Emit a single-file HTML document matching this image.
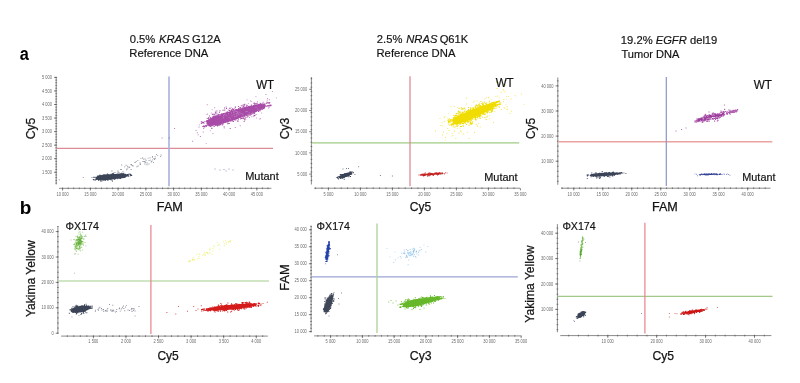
<!DOCTYPE html>
<html><head><meta charset="utf-8"><title>ddPCR scatter plots</title>
<style>
html,body{margin:0;padding:0;background:#fff;}
body{width:800px;height:383px;overflow:hidden;}
svg{display:block;}
text{font-family:"Liberation Sans", Arial, Helvetica, sans-serif;}
.tk{font-size:4.6px;fill:#6a6a6a;}
.ti{fill:#141414;stroke:#141414;stroke-width:0.18px;}
.al{fill:#141414;stroke:#141414;stroke-width:0.25px;}
.wt{fill:#141414;stroke:#141414;stroke-width:0.2px;}
.px{fill:#141414;stroke:#141414;stroke-width:0.2px;}
.pl{fill:#000;}
</style></head>
<body>
<svg width="800" height="383" viewBox="0 0 800 383">
<rect width="800" height="383" fill="#fff"/>
<line x1="56.2" y1="76.8" x2="56.2" y2="184.5" stroke="#8a8a8a" stroke-width="1.0"/>
<path d="M55.30 77.40h1.8M55.30 80.11h1.8M55.30 82.82h1.8M55.30 85.53h1.8M55.30 88.24h1.8M55.30 90.95h1.8M55.30 93.66h1.8M55.30 96.37h1.8M55.30 99.08h1.8M55.30 101.79h1.8M55.30 104.50h1.8M55.30 107.21h1.8M55.30 109.92h1.8M55.30 112.63h1.8M55.30 115.34h1.8M55.30 118.05h1.8M55.30 120.76h1.8M55.30 123.47h1.8M55.30 126.18h1.8M55.30 128.89h1.8M55.30 131.60h1.8M55.30 134.31h1.8M55.30 137.02h1.8M55.30 139.73h1.8M55.30 142.44h1.8M55.30 145.15h1.8M55.30 147.86h1.8M55.30 150.57h1.8M55.30 153.28h1.8M55.30 155.99h1.8M55.30 158.70h1.8M55.30 161.41h1.8M55.30 164.12h1.8M55.30 166.83h1.8M55.30 169.54h1.8M55.30 172.25h1.8M55.30 174.96h1.8M55.30 177.67h1.8M55.30 180.38h1.8M55.30 183.09h1.8" stroke="#4a4a4a" stroke-width="0.6" fill="none"/>
<path d="M54.00 77.40h2.2M54.00 90.95h2.2M54.00 104.50h2.2M54.00 118.05h2.2M54.00 131.60h2.2M54.00 145.15h2.2M54.00 158.70h2.2M54.00 172.25h2.2" stroke="#4a4a4a" stroke-width="0.7" fill="none"/>
<text x="41.94" y="79.05" class="tk" textLength="10.02" lengthAdjust="spacingAndGlyphs">5 000</text>
<text x="41.94" y="92.60" class="tk" textLength="10.02" lengthAdjust="spacingAndGlyphs">4 500</text>
<text x="41.94" y="106.15" class="tk" textLength="10.02" lengthAdjust="spacingAndGlyphs">4 000</text>
<text x="41.94" y="119.70" class="tk" textLength="10.02" lengthAdjust="spacingAndGlyphs">3 500</text>
<text x="41.94" y="133.25" class="tk" textLength="10.02" lengthAdjust="spacingAndGlyphs">3 000</text>
<text x="41.94" y="146.80" class="tk" textLength="10.02" lengthAdjust="spacingAndGlyphs">2 500</text>
<text x="41.94" y="160.35" class="tk" textLength="10.02" lengthAdjust="spacingAndGlyphs">2 000</text>
<text x="41.94" y="173.90" class="tk" textLength="10.02" lengthAdjust="spacingAndGlyphs">1 500</text>
<line x1="59" y1="188.3" x2="271.4" y2="188.3" stroke="#8a8a8a" stroke-width="1.0"/>
<path d="M62.60 187.40v1.8M68.15 187.40v1.8M73.70 187.40v1.8M79.25 187.40v1.8M84.80 187.40v1.8M90.35 187.40v1.8M95.90 187.40v1.8M101.45 187.40v1.8M107.00 187.40v1.8M112.55 187.40v1.8M118.10 187.40v1.8M123.65 187.40v1.8M129.20 187.40v1.8M134.75 187.40v1.8M140.30 187.40v1.8M145.85 187.40v1.8M151.40 187.40v1.8M156.95 187.40v1.8M162.50 187.40v1.8M168.05 187.40v1.8M173.60 187.40v1.8M179.15 187.40v1.8M184.70 187.40v1.8M190.25 187.40v1.8M195.80 187.40v1.8M201.35 187.40v1.8M206.90 187.40v1.8M212.45 187.40v1.8M218.00 187.40v1.8M223.55 187.40v1.8M229.10 187.40v1.8M234.65 187.40v1.8M240.20 187.40v1.8M245.75 187.40v1.8M251.30 187.40v1.8M256.85 187.40v1.8M262.40 187.40v1.8M267.95 187.40v1.8" stroke="#4a4a4a" stroke-width="0.6" fill="none"/>
<path d="M62.60 188.30v2.2M90.35 188.30v2.2M118.10 188.30v2.2M145.85 188.30v2.2M173.60 188.30v2.2M201.35 188.30v2.2M229.10 188.30v2.2M256.85 188.30v2.2" stroke="#4a4a4a" stroke-width="0.7" fill="none"/>
<text x="56.41" y="195.60" class="tk" textLength="12.24" lengthAdjust="spacingAndGlyphs">10 000</text>
<text x="84.16" y="195.60" class="tk" textLength="12.24" lengthAdjust="spacingAndGlyphs">15 000</text>
<text x="111.96" y="195.60" class="tk" textLength="12.24" lengthAdjust="spacingAndGlyphs">20 000</text>
<text x="139.71" y="195.60" class="tk" textLength="12.24" lengthAdjust="spacingAndGlyphs">25 000</text>
<text x="167.48" y="195.60" class="tk" textLength="12.24" lengthAdjust="spacingAndGlyphs">30 000</text>
<text x="195.23" y="195.60" class="tk" textLength="12.24" lengthAdjust="spacingAndGlyphs">35 000</text>
<text x="223.01" y="195.60" class="tk" textLength="12.24" lengthAdjust="spacingAndGlyphs">40 000</text>
<text x="250.76" y="195.60" class="tk" textLength="12.24" lengthAdjust="spacingAndGlyphs">45 000</text>
<line x1="56.6" y1="148.35" x2="273" y2="148.35" stroke="#dc8c96" stroke-width="1.3"/>
<line x1="169.0" y1="76.4" x2="169.0" y2="186.3" stroke="#aab0e0" stroke-width="1.6"/>
<path d="M206.30 123.60 208.46 125.29 210.18 125.60 211.83 125.65 213.44 125.56 215.02 125.37 216.57 125.12 218.11 124.81 219.64 124.45 221.15 124.07 222.66 123.65 224.16 123.22 225.65 122.76 227.14 122.29 228.63 121.81 230.11 121.32 231.59 120.82 233.07 120.32 234.55 119.81 236.03 119.30 237.50 118.80 238.98 118.29 240.46 117.78 241.94 117.27 243.41 116.76 244.89 116.24 246.36 115.72 247.83 115.19 249.30 114.65 250.77 114.10 252.23 113.54 253.68 112.96 255.14 112.37 256.58 111.75 258.01 111.11 259.44 110.43 260.85 109.71 262.25 108.94 263.62 108.08 264.94 107.07 266.00 105.20 266.00 105.20 264.07 104.25 262.41 104.16 260.80 104.22 259.21 104.37 257.63 104.57 256.08 104.81 254.53 105.09 252.98 105.39 251.45 105.72 249.92 106.06 248.40 106.42 246.88 106.79 245.36 107.17 243.85 107.56 242.34 107.96 240.83 108.36 239.32 108.77 237.81 109.18 236.30 109.59 234.80 110.00 233.29 110.42 231.78 110.83 230.27 111.24 228.77 111.66 227.26 112.08 225.76 112.51 224.26 112.95 222.77 113.40 221.28 113.86 219.79 114.35 218.31 114.85 216.84 115.39 215.38 115.95 213.94 116.56 212.51 117.23 211.10 117.96 209.72 118.79 208.39 119.76 207.13 120.99 206.30 123.60Z" fill="#a84ca8"/>
<path d="M206.5 124.5h1.0v1.0h-1.0zM245.5 114.7h1.0v1.0h-1.0zM269.1 105.3h1.0v1.0h-1.0zM212.5 117.2h1.0v1.0h-1.0zM250.8 114.1h1.0v1.0h-1.0zM211.0 127.8h1.0v1.0h-1.0zM239.4 108.0h1.0v1.0h-1.0zM243.4 116.0h1.0v1.0h-1.0zM239.5 106.9h1.0v1.0h-1.0zM247.4 115.9h1.0v1.0h-1.0zM206.1 121.3h1.0v1.0h-1.0zM227.7 122.9h1.0v1.0h-1.0zM210.2 117.1h1.0v1.0h-1.0zM224.4 109.5h1.0v1.0h-1.0zM235.7 110.2h1.0v1.0h-1.0zM254.9 103.2h1.0v1.0h-1.0zM227.6 121.3h1.0v1.0h-1.0zM270.1 104.5h1.0v1.0h-1.0zM213.7 126.1h1.0v1.0h-1.0zM203.1 125.6h1.0v1.0h-1.0zM239.7 116.5h1.0v1.0h-1.0zM254.1 105.1h1.0v1.0h-1.0zM269.7 105.0h1.0v1.0h-1.0zM250.9 104.5h1.0v1.0h-1.0zM266.7 102.3h1.0v1.0h-1.0zM263.8 106.9h1.0v1.0h-1.0zM258.4 103.9h1.0v1.0h-1.0zM206.4 121.3h1.0v1.0h-1.0zM253.9 103.6h1.0v1.0h-1.0zM226.0 108.1h1.0v1.0h-1.0zM230.3 120.8h1.0v1.0h-1.0zM210.7 124.7h1.0v1.0h-1.0zM258.0 111.1h1.0v1.0h-1.0zM212.2 124.7h1.0v1.0h-1.0zM244.4 103.7h1.0v1.0h-1.0zM232.3 119.4h1.0v1.0h-1.0zM214.4 116.0h1.0v1.0h-1.0zM224.3 112.9h1.0v1.0h-1.0zM237.8 118.8h1.0v1.0h-1.0zM229.6 108.3h1.0v1.0h-1.0zM242.4 108.1h1.0v1.0h-1.0zM231.3 111.5h1.0v1.0h-1.0zM250.8 114.1h1.0v1.0h-1.0zM217.4 113.7h1.0v1.0h-1.0zM241.4 117.9h1.0v1.0h-1.0zM262.6 103.6h1.0v1.0h-1.0zM209.8 118.0h1.0v1.0h-1.0zM225.7 106.5h1.0v1.0h-1.0zM211.3 118.2h1.0v1.0h-1.0zM203.0 126.0h1.0v1.0h-1.0zM231.8 120.5h1.0v1.0h-1.0zM212.3 124.3h1.0v1.0h-1.0zM207.9 124.7h1.0v1.0h-1.0zM206.6 124.7h1.0v1.0h-1.0zM222.7 123.5h1.0v1.0h-1.0zM219.9 124.3h1.0v1.0h-1.0zM212.1 113.9h1.0v1.0h-1.0zM226.8 111.3h1.0v1.0h-1.0zM243.9 107.2h1.0v1.0h-1.0zM207.3 124.2h1.0v1.0h-1.0zM246.0 105.7h1.0v1.0h-1.0zM240.1 107.3h1.0v1.0h-1.0zM246.7 114.4h1.0v1.0h-1.0zM242.9 106.1h1.0v1.0h-1.0zM257.3 103.8h1.0v1.0h-1.0zM242.5 115.5h1.0v1.0h-1.0zM243.5 108.1h1.0v1.0h-1.0zM237.0 109.6h1.0v1.0h-1.0zM247.9 114.6h1.0v1.0h-1.0zM216.7 125.0h1.0v1.0h-1.0zM253.1 111.6h1.0v1.0h-1.0zM242.4 107.0h1.0v1.0h-1.0zM202.4 125.9h1.0v1.0h-1.0zM250.2 113.7h1.0v1.0h-1.0zM234.3 118.2h1.0v1.0h-1.0zM234.8 119.4h1.0v1.0h-1.0zM216.1 124.5h1.0v1.0h-1.0zM209.0 115.5h1.0v1.0h-1.0zM256.5 102.8h1.0v1.0h-1.0zM200.8 123.1h1.0v1.0h-1.0zM208.1 117.9h1.0v1.0h-1.0zM219.0 111.7h1.0v1.0h-1.0zM224.0 107.5h1.0v1.0h-1.0zM243.9 118.6h1.0v1.0h-1.0zM215.2 124.0h1.0v1.0h-1.0zM228.8 123.0h1.0v1.0h-1.0zM246.5 116.8h1.0v1.0h-1.0zM237.9 109.2h1.0v1.0h-1.0zM252.1 113.2h1.0v1.0h-1.0zM216.4 110.4h1.0v1.0h-1.0zM229.5 120.0h1.0v1.0h-1.0zM270.6 105.1h1.0v1.0h-1.0zM241.6 116.1h1.0v1.0h-1.0zM211.5 127.7h1.0v1.0h-1.0zM234.6 109.7h1.0v1.0h-1.0zM214.6 115.6h1.0v1.0h-1.0zM267.4 105.2h1.0v1.0h-1.0zM201.9 122.0h1.0v1.0h-1.0zM231.9 108.2h1.0v1.0h-1.0zM259.2 110.2h1.0v1.0h-1.0zM216.2 112.6h1.0v1.0h-1.0zM253.0 104.9h1.0v1.0h-1.0zM218.3 123.5h1.0v1.0h-1.0zM250.6 113.4h1.0v1.0h-1.0zM209.5 124.4h1.0v1.0h-1.0zM202.3 126.1h1.0v1.0h-1.0zM219.5 110.3h1.0v1.0h-1.0zM223.1 113.1h1.0v1.0h-1.0zM214.2 116.7h1.0v1.0h-1.0zM218.6 124.9h1.0v1.0h-1.0zM204.5 121.1h1.0v1.0h-1.0zM262.8 107.6h1.0v1.0h-1.0zM253.6 114.7h1.0v1.0h-1.0zM215.2 125.0h1.0v1.0h-1.0zM267.7 105.7h1.0v1.0h-1.0zM217.1 125.6h1.0v1.0h-1.0zM229.4 110.1h1.0v1.0h-1.0zM213.1 116.4h1.0v1.0h-1.0zM203.8 126.0h1.0v1.0h-1.0zM203.2 121.7h1.0v1.0h-1.0zM204.3 126.5h1.0v1.0h-1.0zM264.1 103.7h1.0v1.0h-1.0zM202.0 121.8h1.0v1.0h-1.0zM214.9 111.9h1.0v1.0h-1.0zM253.4 112.9h1.0v1.0h-1.0zM222.4 113.2h1.0v1.0h-1.0zM222.0 114.1h1.0v1.0h-1.0zM207.0 124.6h1.0v1.0h-1.0zM206.9 119.9h1.0v1.0h-1.0zM216.1 115.8h1.0v1.0h-1.0zM208.6 119.4h1.0v1.0h-1.0zM228.1 120.6h1.0v1.0h-1.0zM229.6 119.9h1.0v1.0h-1.0zM255.9 103.6h1.0v1.0h-1.0zM206.7 117.9h1.0v1.0h-1.0zM263.9 103.6h1.0v1.0h-1.0zM267.9 102.2h1.0v1.0h-1.0zM225.7 112.9h1.0v1.0h-1.0zM217.5 115.4h1.0v1.0h-1.0zM215.0 124.4h1.0v1.0h-1.0zM240.5 117.9h1.0v1.0h-1.0zM266.6 105.4h1.0v1.0h-1.0zM264.7 103.4h1.0v1.0h-1.0zM245.2 115.3h1.0v1.0h-1.0zM217.8 124.4h1.0v1.0h-1.0zM212.3 116.3h1.0v1.0h-1.0zM263.8 107.4h1.0v1.0h-1.0zM203.3 121.7h1.0v1.0h-1.0zM206.9 120.9h1.0v1.0h-1.0zM246.3 114.9h1.0v1.0h-1.0zM237.5 117.0h1.0v1.0h-1.0zM267.2 105.3h1.0v1.0h-1.0zM270.4 104.5h1.0v1.0h-1.0zM237.1 120.6h1.0v1.0h-1.0zM254.2 111.2h1.0v1.0h-1.0zM221.8 124.4h1.0v1.0h-1.0zM224.3 121.6h1.0v1.0h-1.0zM208.1 119.2h1.0v1.0h-1.0zM260.9 104.0h1.0v1.0h-1.0zM209.1 124.9h1.0v1.0h-1.0zM243.7 121.1h1.0v1.0h-1.0zM253.9 113.1h1.0v1.0h-1.0zM246.4 114.6h1.0v1.0h-1.0zM242.7 108.3h1.0v1.0h-1.0zM203.1 126.0h1.0v1.0h-1.0zM215.5 116.3h1.0v1.0h-1.0zM243.8 104.7h1.0v1.0h-1.0zM201.0 121.4h1.0v1.0h-1.0zM204.9 125.3h1.0v1.0h-1.0zM249.7 106.4h1.0v1.0h-1.0zM231.9 110.4h1.0v1.0h-1.0zM218.2 114.8h1.0v1.0h-1.0zM237.9 108.0h1.0v1.0h-1.0zM217.8 113.8h1.0v1.0h-1.0zM214.2 113.8h1.0v1.0h-1.0zM253.7 112.5h1.0v1.0h-1.0zM268.5 102.5h1.0v1.0h-1.0zM259.7 104.0h1.0v1.0h-1.0zM221.1 113.9h1.0v1.0h-1.0zM251.2 106.0h1.0v1.0h-1.0zM209.9 126.0h1.0v1.0h-1.0zM219.7 114.4h1.0v1.0h-1.0zM208.7 124.8h1.0v1.0h-1.0zM267.3 102.4h1.0v1.0h-1.0zM214.9 116.3h1.0v1.0h-1.0zM261.5 108.8h1.0v1.0h-1.0zM269.2 105.0h1.0v1.0h-1.0zM200.9 123.0h1.0v1.0h-1.0zM254.5 104.4h1.0v1.0h-1.0zM263.4 107.9h1.0v1.0h-1.0zM237.7 120.4h1.0v1.0h-1.0zM244.4 106.2h1.0v1.0h-1.0zM253.5 115.4h1.0v1.0h-1.0zM229.6 110.4h1.0v1.0h-1.0zM247.9 106.0h1.0v1.0h-1.0zM263.5 104.0h1.0v1.0h-1.0zM262.7 108.1h1.0v1.0h-1.0zM246.5 105.1h1.0v1.0h-1.0zM207.0 119.9h1.0v1.0h-1.0zM243.0 107.7h1.0v1.0h-1.0zM226.5 111.7h1.0v1.0h-1.0zM234.8 106.5h1.0v1.0h-1.0zM207.4 120.4h1.0v1.0h-1.0zM235.4 110.0h1.0v1.0h-1.0zM235.8 109.1h1.0v1.0h-1.0zM240.2 116.8h1.0v1.0h-1.0zM226.9 121.3h1.0v1.0h-1.0zM225.0 113.3h1.0v1.0h-1.0zM262.4 103.7h1.0v1.0h-1.0zM233.9 110.3h1.0v1.0h-1.0zM267.9 105.1h1.0v1.0h-1.0zM202.5 122.5h1.0v1.0h-1.0zM225.1 121.3h1.0v1.0h-1.0zM263.8 107.3h1.0v1.0h-1.0zM228.6 110.0h1.0v1.0h-1.0zM237.4 118.1h1.0v1.0h-1.0zM245.0 117.5h1.0v1.0h-1.0zM241.5 105.5h1.0v1.0h-1.0zM241.3 108.7h1.0v1.0h-1.0zM234.1 119.2h1.0v1.0h-1.0zM255.6 110.9h1.0v1.0h-1.0zM217.7 115.1h1.0v1.0h-1.0zM204.3 125.5h1.0v1.0h-1.0zM242.0 115.9h1.0v1.0h-1.0zM244.3 119.4h1.0v1.0h-1.0zM230.7 119.4h1.0v1.0h-1.0zM211.1 125.5h1.0v1.0h-1.0zM206.4 121.1h1.0v1.0h-1.0zM220.1 124.0h1.0v1.0h-1.0zM206.0 121.0h1.0v1.0h-1.0zM228.9 112.2h1.0v1.0h-1.0zM253.7 102.5h1.0v1.0h-1.0zM221.2 114.2h1.0v1.0h-1.0zM244.0 115.8h1.0v1.0h-1.0zM219.6 115.0h1.0v1.0h-1.0zM263.9 103.8h1.0v1.0h-1.0zM226.1 120.7h1.0v1.0h-1.0zM215.0 112.4h1.0v1.0h-1.0zM231.2 109.3h1.0v1.0h-1.0zM215.6 114.6h1.0v1.0h-1.0zM242.6 117.0h1.0v1.0h-1.0zM236.0 109.7h1.0v1.0h-1.0zM226.0 120.8h1.0v1.0h-1.0zM260.4 104.0h1.0v1.0h-1.0zM253.5 103.0h1.0v1.0h-1.0zM264.4 106.3h1.0v1.0h-1.0zM246.6 114.9h1.0v1.0h-1.0zM233.4 119.3h1.0v1.0h-1.0zM270.3 105.2h1.0v1.0h-1.0zM264.1 107.0h1.0v1.0h-1.0zM268.9 102.4h1.0v1.0h-1.0zM266.4 105.6h1.0v1.0h-1.0zM254.5 111.5h1.0v1.0h-1.0zM249.3 114.4h1.0v1.0h-1.0zM208.6 125.4h1.0v1.0h-1.0zM235.6 119.2h1.0v1.0h-1.0zM205.4 124.9h1.0v1.0h-1.0zM229.7 128.1h1.0v1.0h-1.0zM205.8 126.0h1.0v1.0h-1.0zM203.2 127.7h1.0v1.0h-1.0zM211.5 124.7h1.0v1.0h-1.0zM213.2 115.8h1.0v1.0h-1.0zM207.0 124.4h1.0v1.0h-1.0zM251.1 112.9h1.0v1.0h-1.0zM250.7 105.6h1.0v1.0h-1.0zM261.7 108.8h1.0v1.0h-1.0zM237.2 120.7h1.0v1.0h-1.0zM260.1 103.2h1.0v1.0h-1.0zM205.9 125.5h1.0v1.0h-1.0zM233.6 108.6h1.0v1.0h-1.0zM235.4 110.0h1.0v1.0h-1.0zM239.6 107.8h1.0v1.0h-1.0zM210.1 117.7h1.0v1.0h-1.0zM232.9 120.9h1.0v1.0h-1.0zM242.9 104.6h1.0v1.0h-1.0zM258.1 110.6h1.0v1.0h-1.0zM202.9 122.1h1.0v1.0h-1.0zM221.4 123.5h1.0v1.0h-1.0zM239.7 116.7h1.0v1.0h-1.0zM235.0 106.8h1.0v1.0h-1.0zM206.3 120.1h1.0v1.0h-1.0zM231.7 110.7h1.0v1.0h-1.0zM236.2 117.9h1.0v1.0h-1.0zM213.5 126.1h1.0v1.0h-1.0zM254.1 115.0h1.0v1.0h-1.0zM235.5 109.0h1.0v1.0h-1.0zM232.3 109.3h1.0v1.0h-1.0zM208.3 117.0h1.0v1.0h-1.0zM262.2 108.7h1.0v1.0h-1.0zM236.7 117.8h1.0v1.0h-1.0zM230.9 110.1h1.0v1.0h-1.0zM243.0 117.7h1.0v1.0h-1.0zM224.6 121.5h1.0v1.0h-1.0zM260.2 109.0h1.0v1.0h-1.0zM213.2 113.8h1.0v1.0h-1.0zM238.1 105.9h1.0v1.0h-1.0zM239.4 116.7h1.0v1.0h-1.0zM226.7 121.6h1.0v1.0h-1.0zM242.5 117.8h1.0v1.0h-1.0zM233.1 108.8h1.0v1.0h-1.0zM229.2 107.8h1.0v1.0h-1.0zM222.5 109.7h1.0v1.0h-1.0zM269.2 102.0h1.0v1.0h-1.0zM258.6 104.2h1.0v1.0h-1.0zM239.0 117.1h1.0v1.0h-1.0zM209.2 125.0h1.0v1.0h-1.0zM226.9 121.6h1.0v1.0h-1.0zM267.8 105.1h1.0v1.0h-1.0zM223.6 126.2h1.0v1.0h-1.0zM218.8 124.0h1.0v1.0h-1.0zM243.6 118.2h1.0v1.0h-1.0zM217.0 124.2h1.0v1.0h-1.0zM259.6 102.8h1.0v1.0h-1.0zM227.3 123.3h1.0v1.0h-1.0zM214.6 124.5h1.0v1.0h-1.0zM258.3 103.9h1.0v1.0h-1.0zM253.9 111.8h1.0v1.0h-1.0zM266.0 102.7h1.0v1.0h-1.0zM231.2 111.1h1.0v1.0h-1.0zM265.6 105.7h1.0v1.0h-1.0z" fill="#a84ca8" fill-opacity="1.0"/>
<path d="M208.1 122.2h0.9v0.9h-0.9zM206.8 104.3h0.9v0.9h-0.9zM240.8 105.0h0.9v0.9h-0.9zM200.8 121.1h0.9v0.9h-0.9zM217.5 119.9h0.9v0.9h-0.9zM253.6 105.3h0.9v0.9h-0.9zM211.8 113.5h0.9v0.9h-0.9zM267.1 98.3h0.9v0.9h-0.9zM268.0 107.5h0.9v0.9h-0.9zM228.6 120.6h0.9v0.9h-0.9zM247.7 110.3h0.9v0.9h-0.9zM250.2 100.5h0.9v0.9h-0.9zM262.4 107.8h0.9v0.9h-0.9zM227.9 117.4h0.9v0.9h-0.9zM220.7 122.0h0.9v0.9h-0.9zM240.0 118.5h0.9v0.9h-0.9zM236.2 111.5h0.9v0.9h-0.9zM205.7 143.2h0.9v0.9h-0.9zM255.1 114.5h0.9v0.9h-0.9zM275.9 97.4h0.9v0.9h-0.9zM233.1 109.8h0.9v0.9h-0.9zM239.8 125.3h0.9v0.9h-0.9zM246.6 99.4h0.9v0.9h-0.9zM236.4 108.9h0.9v0.9h-0.9zM212.5 133.0h0.9v0.9h-0.9zM262.3 102.8h0.9v0.9h-0.9zM249.1 117.1h0.9v0.9h-0.9zM198.9 124.4h0.9v0.9h-0.9zM242.2 104.7h0.9v0.9h-0.9zM262.8 101.8h0.9v0.9h-0.9zM244.1 104.0h0.9v0.9h-0.9zM223.8 127.6h0.9v0.9h-0.9zM246.7 113.6h0.9v0.9h-0.9zM256.9 108.7h0.9v0.9h-0.9zM232.6 115.8h0.9v0.9h-0.9zM245.4 118.9h0.9v0.9h-0.9zM214.2 107.3h0.9v0.9h-0.9zM209.8 130.4h0.9v0.9h-0.9zM213.5 121.3h0.9v0.9h-0.9zM260.2 110.3h0.9v0.9h-0.9zM221.1 113.2h0.9v0.9h-0.9zM244.8 107.9h0.9v0.9h-0.9zM233.0 109.1h0.9v0.9h-0.9zM255.7 104.7h0.9v0.9h-0.9zM235.1 109.5h0.9v0.9h-0.9zM210.1 125.8h0.9v0.9h-0.9zM234.8 127.0h0.9v0.9h-0.9zM260.1 118.3h0.9v0.9h-0.9zM241.6 110.6h0.9v0.9h-0.9zM246.3 104.4h0.9v0.9h-0.9zM237.2 117.7h0.9v0.9h-0.9zM244.1 107.4h0.9v0.9h-0.9zM269.2 106.5h0.9v0.9h-0.9zM249.1 105.8h0.9v0.9h-0.9zM247.9 103.2h0.9v0.9h-0.9zM234.5 107.7h0.9v0.9h-0.9zM225.8 118.7h0.9v0.9h-0.9zM266.8 99.7h0.9v0.9h-0.9zM261.3 103.2h0.9v0.9h-0.9zM240.0 112.2h0.9v0.9h-0.9zM246.1 112.7h0.9v0.9h-0.9zM213.8 115.5h0.9v0.9h-0.9zM202.9 122.4h0.9v0.9h-0.9zM231.8 119.6h0.9v0.9h-0.9zM245.4 107.4h0.9v0.9h-0.9zM268.9 99.3h0.9v0.9h-0.9zM257.1 101.3h0.9v0.9h-0.9zM271.9 91.1h0.9v0.9h-0.9zM203.8 123.2h0.9v0.9h-0.9zM213.3 119.4h0.9v0.9h-0.9zM242.9 111.7h0.9v0.9h-0.9zM255.5 96.2h0.9v0.9h-0.9zM249.8 115.1h0.9v0.9h-0.9zM260.8 104.3h0.9v0.9h-0.9zM250.8 100.9h0.9v0.9h-0.9zM257.1 109.6h0.9v0.9h-0.9zM222.8 115.3h0.9v0.9h-0.9zM237.1 114.9h0.9v0.9h-0.9zM207.2 113.5h0.9v0.9h-0.9zM202.8 131.5h0.9v0.9h-0.9zM212.6 122.0h0.9v0.9h-0.9zM266.5 101.4h0.9v0.9h-0.9zM197.7 134.3h0.9v0.9h-0.9zM218.3 116.9h0.9v0.9h-0.9zM247.4 105.5h0.9v0.9h-0.9zM265.5 94.0h0.9v0.9h-0.9zM256.0 105.7h0.9v0.9h-0.9zM222.9 121.4h0.9v0.9h-0.9zM268.8 103.5h0.9v0.9h-0.9zM209.7 125.4h0.9v0.9h-0.9z" fill="#a444a4" fill-opacity="0.7"/>
<path d="M215.3 110.8h1.0v1.0h-1.0zM244.4 116.7h1.0v1.0h-1.0zM257.2 108.7h1.0v1.0h-1.0zM252.2 112.6h1.0v1.0h-1.0zM230.9 112.5h1.0v1.0h-1.0zM243.1 116.6h1.0v1.0h-1.0zM223.0 115.3h1.0v1.0h-1.0zM236.8 111.3h1.0v1.0h-1.0zM246.6 110.9h1.0v1.0h-1.0zM228.0 113.3h1.0v1.0h-1.0zM235.7 111.1h1.0v1.0h-1.0zM228.5 116.8h1.0v1.0h-1.0zM236.5 114.4h1.0v1.0h-1.0zM234.1 116.2h1.0v1.0h-1.0zM251.1 113.2h1.0v1.0h-1.0zM245.6 111.2h1.0v1.0h-1.0zM234.5 110.2h1.0v1.0h-1.0zM227.3 122.5h1.0v1.0h-1.0zM222.9 117.3h1.0v1.0h-1.0zM238.3 114.3h1.0v1.0h-1.0zM206.3 114.1h1.0v1.0h-1.0zM214.9 111.6h1.0v1.0h-1.0zM224.5 112.4h1.0v1.0h-1.0zM258.9 118.4h1.0v1.0h-1.0zM210.8 112.4h1.0v1.0h-1.0zM223.7 113.9h1.0v1.0h-1.0zM211.6 109.2h1.0v1.0h-1.0zM233.4 111.3h1.0v1.0h-1.0zM248.8 112.6h1.0v1.0h-1.0zM237.3 112.1h1.0v1.0h-1.0zM245.1 116.9h1.0v1.0h-1.0zM233.3 112.0h1.0v1.0h-1.0zM242.2 113.8h1.0v1.0h-1.0zM247.4 113.7h1.0v1.0h-1.0zM235.8 115.8h1.0v1.0h-1.0zM223.4 109.8h1.0v1.0h-1.0zM240.6 112.9h1.0v1.0h-1.0zM242.6 115.8h1.0v1.0h-1.0zM239.3 111.8h1.0v1.0h-1.0zM255.5 106.8h1.0v1.0h-1.0zM224.1 109.9h1.0v1.0h-1.0zM261.1 112.4h1.0v1.0h-1.0zM231.6 115.2h1.0v1.0h-1.0zM251.1 116.3h1.0v1.0h-1.0zM233.5 114.0h1.0v1.0h-1.0zM219.9 114.3h1.0v1.0h-1.0zM230.6 107.1h1.0v1.0h-1.0zM237.4 113.1h1.0v1.0h-1.0zM245.2 115.3h1.0v1.0h-1.0zM235.7 113.0h1.0v1.0h-1.0zM256.2 114.1h1.0v1.0h-1.0zM248.4 114.8h1.0v1.0h-1.0zM252.6 116.3h1.0v1.0h-1.0zM219.2 115.1h1.0v1.0h-1.0zM256.0 117.5h1.0v1.0h-1.0zM230.1 118.3h1.0v1.0h-1.0zM246.7 115.4h1.0v1.0h-1.0zM225.5 114.8h1.0v1.0h-1.0zM241.3 107.5h1.0v1.0h-1.0zM227.9 109.2h1.0v1.0h-1.0z" fill="#c890c8" fill-opacity="0.8"/>
<path d="M95.30 178.30 96.26 179.45 97.14 179.82 98.01 180.05 98.87 180.20 99.73 180.29 100.59 180.34 101.44 180.36 102.29 180.36 103.13 180.34 103.98 180.30 104.82 180.24 105.67 180.17 106.51 180.10 107.35 180.01 108.19 179.92 109.03 179.82 109.87 179.71 110.71 179.61 111.55 179.50 112.39 179.39 113.23 179.28 114.07 179.17 114.91 179.05 115.75 178.94 116.59 178.82 117.43 178.70 118.26 178.57 119.10 178.43 119.94 178.29 120.77 178.14 121.61 177.98 122.44 177.81 123.28 177.63 124.11 177.44 124.94 177.22 125.77 176.99 126.59 176.73 127.41 176.43 128.23 176.04 129.00 175.20 129.00 175.20 128.09 174.51 127.22 174.28 126.35 174.14 125.49 174.03 124.64 173.95 123.78 173.89 122.93 173.85 122.08 173.83 121.23 173.81 120.38 173.81 119.53 173.81 118.68 173.83 117.83 173.85 116.98 173.87 116.14 173.90 115.29 173.94 114.44 173.98 113.60 174.02 112.75 174.07 111.91 174.11 111.06 174.16 110.22 174.20 109.37 174.25 108.53 174.30 107.68 174.36 106.84 174.42 105.99 174.49 105.15 174.57 104.31 174.65 103.47 174.75 102.63 174.87 101.79 175.00 100.96 175.15 100.12 175.33 99.29 175.54 98.47 175.78 97.65 176.09 96.83 176.47 96.03 176.99 95.30 178.30Z" fill="#3b4357"/>
<path d="M100.2 174.8h1.0v1.0h-1.0zM107.7 174.4h1.0v1.0h-1.0zM128.2 173.7h1.0v1.0h-1.0zM122.1 177.0h1.0v1.0h-1.0zM130.4 175.1h1.0v1.0h-1.0zM122.2 173.2h1.0v1.0h-1.0zM101.3 180.6h1.0v1.0h-1.0zM112.0 180.4h1.0v1.0h-1.0zM110.3 178.6h1.0v1.0h-1.0zM124.4 176.6h1.0v1.0h-1.0zM99.0 174.8h1.0v1.0h-1.0zM120.3 177.9h1.0v1.0h-1.0zM93.3 176.7h1.0v1.0h-1.0zM93.5 177.0h1.0v1.0h-1.0zM119.3 178.1h1.0v1.0h-1.0zM131.2 175.0h1.0v1.0h-1.0zM100.0 179.3h1.0v1.0h-1.0zM127.7 175.4h1.0v1.0h-1.0zM111.8 173.4h1.0v1.0h-1.0zM127.0 174.0h1.0v1.0h-1.0zM112.7 178.2h1.0v1.0h-1.0zM103.0 179.2h1.0v1.0h-1.0zM95.8 179.0h1.0v1.0h-1.0zM105.7 174.5h1.0v1.0h-1.0zM106.9 173.6h1.0v1.0h-1.0zM105.2 179.2h1.0v1.0h-1.0zM112.4 173.1h1.0v1.0h-1.0zM118.5 173.6h1.0v1.0h-1.0zM96.2 178.8h1.0v1.0h-1.0zM110.8 174.2h1.0v1.0h-1.0zM97.6 175.4h1.0v1.0h-1.0zM123.6 177.0h1.0v1.0h-1.0zM117.3 178.2h1.0v1.0h-1.0zM114.3 178.9h1.0v1.0h-1.0zM123.3 173.7h1.0v1.0h-1.0zM98.0 179.7h1.0v1.0h-1.0zM105.0 179.7h1.0v1.0h-1.0zM130.5 175.1h1.0v1.0h-1.0zM124.6 176.5h1.0v1.0h-1.0zM131.1 175.1h1.0v1.0h-1.0zM121.2 172.8h1.0v1.0h-1.0zM93.5 179.4h1.0v1.0h-1.0zM110.6 173.8h1.0v1.0h-1.0zM98.1 179.5h1.0v1.0h-1.0zM95.5 179.0h1.0v1.0h-1.0zM110.4 178.7h1.0v1.0h-1.0zM128.2 175.7h1.0v1.0h-1.0zM122.7 176.7h1.0v1.0h-1.0zM99.7 175.4h1.0v1.0h-1.0zM122.7 173.8h1.0v1.0h-1.0zM97.2 176.0h1.0v1.0h-1.0zM124.7 176.8h1.0v1.0h-1.0zM103.5 173.9h1.0v1.0h-1.0zM129.6 173.7h1.0v1.0h-1.0zM118.6 173.4h1.0v1.0h-1.0zM92.8 178.9h1.0v1.0h-1.0zM109.6 178.8h1.0v1.0h-1.0zM129.4 173.5h1.0v1.0h-1.0zM120.4 173.0h1.0v1.0h-1.0zM103.7 179.5h1.0v1.0h-1.0zM113.1 172.7h1.0v1.0h-1.0zM105.5 174.4h1.0v1.0h-1.0zM97.4 175.2h1.0v1.0h-1.0zM103.5 174.0h1.0v1.0h-1.0zM129.8 175.3h1.0v1.0h-1.0zM100.1 180.4h1.0v1.0h-1.0zM107.2 173.7h1.0v1.0h-1.0zM102.8 179.6h1.0v1.0h-1.0zM102.4 179.2h1.0v1.0h-1.0zM122.4 177.2h1.0v1.0h-1.0zM94.7 176.8h1.0v1.0h-1.0zM117.5 177.5h1.0v1.0h-1.0zM122.2 173.3h1.0v1.0h-1.0zM121.3 177.0h1.0v1.0h-1.0zM105.3 174.6h1.0v1.0h-1.0zM124.8 173.8h1.0v1.0h-1.0zM111.5 174.1h1.0v1.0h-1.0zM105.6 179.0h1.0v1.0h-1.0zM112.9 173.9h1.0v1.0h-1.0zM101.2 180.5h1.0v1.0h-1.0zM123.3 172.8h1.0v1.0h-1.0zM129.6 174.1h1.0v1.0h-1.0zM95.0 179.4h1.0v1.0h-1.0zM128.0 173.8h1.0v1.0h-1.0zM106.2 179.0h1.0v1.0h-1.0zM110.8 179.6h1.0v1.0h-1.0zM130.4 173.9h1.0v1.0h-1.0zM107.4 180.0h1.0v1.0h-1.0zM109.5 178.7h1.0v1.0h-1.0zM93.7 179.3h1.0v1.0h-1.0z" fill="#3b4357" fill-opacity="1.0"/>
<path d="M117.5 170.6h0.9v0.9h-0.9zM124.3 166.4h0.9v0.9h-0.9zM130.6 164.0h0.9v0.9h-0.9zM137.4 159.9h0.9v0.9h-0.9zM142.2 157.5h0.9v0.9h-0.9zM148.6 159.9h0.9v0.9h-0.9zM152.0 155.9h0.9v0.9h-0.9zM156.1 154.2h0.9v0.9h-0.9zM160.2 155.9h0.9v0.9h-0.9zM126.5 168.6h0.9v0.9h-0.9zM132.6 165.6h0.9v0.9h-0.9zM134.6 162.1h0.9v0.9h-0.9zM139.6 162.6h0.9v0.9h-0.9zM144.6 158.6h0.9v0.9h-0.9zM146.6 162.6h0.9v0.9h-0.9zM120.5 169.1h0.9v0.9h-0.9zM128.6 166.6h0.9v0.9h-0.9zM137.6 165.6h0.9v0.9h-0.9zM142.6 161.1h0.9v0.9h-0.9zM149.6 157.4h0.9v0.9h-0.9zM153.6 158.1h0.9v0.9h-0.9zM82.8 177.2h0.9v0.9h-0.9zM91.5 177.0h0.9v0.9h-0.9zM58.8 179.4h0.9v0.9h-0.9zM111.5 170.6h0.9v0.9h-0.9zM114.5 172.1h0.9v0.9h-0.9zM168.7 137.5h0.9v0.9h-0.9z" fill="#5a6070" fill-opacity="0.85"/>
<path d="M154.2 159.1h0.9v0.9h-0.9zM126.3 169.4h0.9v0.9h-0.9zM144.5 163.5h0.9v0.9h-0.9zM154.7 156.3h0.9v0.9h-0.9zM117.6 171.8h0.9v0.9h-0.9zM157.3 155.2h0.9v0.9h-0.9zM149.7 159.7h0.9v0.9h-0.9zM122.5 171.3h0.9v0.9h-0.9zM151.4 160.8h0.9v0.9h-0.9zM140.1 163.7h0.9v0.9h-0.9zM140.5 158.2h0.9v0.9h-0.9zM116.8 173.3h0.9v0.9h-0.9zM129.3 166.9h0.9v0.9h-0.9zM148.5 163.5h0.9v0.9h-0.9zM151.9 157.2h0.9v0.9h-0.9zM144.4 161.6h0.9v0.9h-0.9zM122.7 172.9h0.9v0.9h-0.9zM130.7 169.0h0.9v0.9h-0.9zM154.9 158.2h0.9v0.9h-0.9zM130.9 164.6h0.9v0.9h-0.9zM125.6 164.8h0.9v0.9h-0.9zM145.6 159.8h0.9v0.9h-0.9zM120.6 169.1h0.9v0.9h-0.9zM135.7 161.0h0.9v0.9h-0.9zM143.1 158.7h0.9v0.9h-0.9zM143.8 161.0h0.9v0.9h-0.9zM147.7 157.7h0.9v0.9h-0.9zM145.0 161.8h0.9v0.9h-0.9zM152.3 159.4h0.9v0.9h-0.9zM139.7 164.1h0.9v0.9h-0.9zM127.2 165.8h0.9v0.9h-0.9zM121.3 164.6h0.9v0.9h-0.9zM146.5 164.3h0.9v0.9h-0.9zM150.8 161.5h0.9v0.9h-0.9zM127.5 167.4h0.9v0.9h-0.9zM118.7 172.2h0.9v0.9h-0.9zM160.6 154.6h0.9v0.9h-0.9zM153.0 161.9h0.9v0.9h-0.9zM136.5 166.3h0.9v0.9h-0.9zM131.9 165.2h0.9v0.9h-0.9z" fill="#6a7080" fill-opacity="0.85"/>
<path d="M161.6 137.4h1.0v1.0h-1.0zM174.1 128.0h1.0v1.0h-1.0zM192.1 140.8h1.0v1.0h-1.0zM196.8 132.2h1.0v1.0h-1.0zM199.9 136.1h1.0v1.0h-1.0zM195.5 130.0h1.0v1.0h-1.0zM198.5 126.5h1.0v1.0h-1.0z" fill="#a060a0" fill-opacity="0.8"/>
<path d="M214.5 168.5h1.0v1.0h-1.0zM219.5 169.5h1.0v1.0h-1.0zM223.5 169.0h1.0v1.0h-1.0zM228.5 168.5h1.0v1.0h-1.0zM232.5 169.5h1.0v1.0h-1.0zM225.5 170.5h1.0v1.0h-1.0z" fill="#7e7ea8" fill-opacity="0.8"/>
<line x1="311.4" y1="77" x2="311.4" y2="184.5" stroke="#8a8a8a" stroke-width="1.0"/>
<path d="M310.50 78.70h1.8M310.50 82.94h1.8M310.50 87.18h1.8M310.50 91.42h1.8M310.50 95.66h1.8M310.50 99.90h1.8M310.50 104.14h1.8M310.50 108.38h1.8M310.50 112.62h1.8M310.50 116.86h1.8M310.50 121.10h1.8M310.50 125.34h1.8M310.50 129.58h1.8M310.50 133.82h1.8M310.50 138.06h1.8M310.50 142.30h1.8M310.50 146.54h1.8M310.50 150.78h1.8M310.50 155.02h1.8M310.50 159.26h1.8M310.50 163.50h1.8M310.50 167.74h1.8M310.50 171.98h1.8M310.50 176.22h1.8M310.50 180.46h1.8" stroke="#4a4a4a" stroke-width="0.6" fill="none"/>
<path d="M309.20 89.30h2.2M309.20 110.50h2.2M309.20 131.70h2.2M309.20 152.90h2.2M309.20 174.10h2.2" stroke="#4a4a4a" stroke-width="0.7" fill="none"/>
<text x="294.91" y="90.95" class="tk" textLength="12.24" lengthAdjust="spacingAndGlyphs">25 000</text>
<text x="294.91" y="112.15" class="tk" textLength="12.24" lengthAdjust="spacingAndGlyphs">20 000</text>
<text x="294.91" y="133.35" class="tk" textLength="12.24" lengthAdjust="spacingAndGlyphs">15 000</text>
<text x="294.91" y="154.55" class="tk" textLength="12.24" lengthAdjust="spacingAndGlyphs">10 000</text>
<text x="297.14" y="175.75" class="tk" textLength="10.02" lengthAdjust="spacingAndGlyphs">5 000</text>
<line x1="314" y1="188.2" x2="520" y2="188.2" stroke="#8a8a8a" stroke-width="1.0"/>
<path d="M315.60 187.30v1.8M322.00 187.30v1.8M328.40 187.30v1.8M334.80 187.30v1.8M341.20 187.30v1.8M347.60 187.30v1.8M354.00 187.30v1.8M360.40 187.30v1.8M366.80 187.30v1.8M373.20 187.30v1.8M379.60 187.30v1.8M386.00 187.30v1.8M392.40 187.30v1.8M398.80 187.30v1.8M405.20 187.30v1.8M411.60 187.30v1.8M418.00 187.30v1.8M424.40 187.30v1.8M430.80 187.30v1.8M437.20 187.30v1.8M443.60 187.30v1.8M450.00 187.30v1.8M456.40 187.30v1.8M462.80 187.30v1.8M469.20 187.30v1.8M475.60 187.30v1.8M482.00 187.30v1.8M488.40 187.30v1.8M494.80 187.30v1.8M501.20 187.30v1.8M507.60 187.30v1.8M514.00 187.30v1.8" stroke="#4a4a4a" stroke-width="0.6" fill="none"/>
<path d="M328.40 188.20v2.2M360.40 188.20v2.2M392.40 188.20v2.2M424.40 188.20v2.2M456.40 188.20v2.2M488.40 188.20v2.2M520.40 188.20v2.2" stroke="#4a4a4a" stroke-width="0.7" fill="none"/>
<text x="323.39" y="195.50" class="tk" textLength="10.02" lengthAdjust="spacingAndGlyphs">5 000</text>
<text x="354.21" y="195.50" class="tk" textLength="12.24" lengthAdjust="spacingAndGlyphs">10 000</text>
<text x="386.21" y="195.50" class="tk" textLength="12.24" lengthAdjust="spacingAndGlyphs">15 000</text>
<text x="418.26" y="195.50" class="tk" textLength="12.24" lengthAdjust="spacingAndGlyphs">20 000</text>
<text x="450.26" y="195.50" class="tk" textLength="12.24" lengthAdjust="spacingAndGlyphs">25 000</text>
<text x="482.28" y="195.50" class="tk" textLength="12.24" lengthAdjust="spacingAndGlyphs">30 000</text>
<text x="514.28" y="195.50" class="tk" textLength="12.24" lengthAdjust="spacingAndGlyphs">35 000</text>
<line x1="311.8" y1="142.85" x2="519.2" y2="142.85" stroke="#a0cc84" stroke-width="1.15"/>
<line x1="410.0" y1="76.3" x2="410.0" y2="186.3" stroke="#e0808e" stroke-width="1.2"/>
<path d="M452.50 122.40 454.26 123.49 455.60 123.60 456.86 123.52 458.09 123.35 459.28 123.11 460.46 122.82 461.62 122.50 462.76 122.14 463.90 121.75 465.02 121.35 466.14 120.92 467.25 120.48 468.35 120.03 469.45 119.57 470.55 119.09 471.64 118.61 472.73 118.12 473.82 117.63 474.91 117.14 476.00 116.65 477.09 116.15 478.17 115.65 479.26 115.16 480.34 114.65 481.42 114.14 482.50 113.63 483.58 113.11 484.65 112.58 485.72 112.04 486.78 111.49 487.84 110.92 488.89 110.34 489.94 109.74 490.97 109.12 492.00 108.48 493.01 107.80 494.00 107.08 494.96 106.30 495.88 105.39 496.50 103.80 496.50 103.80 494.92 103.14 493.64 103.16 492.40 103.31 491.19 103.52 490.00 103.77 488.83 104.06 487.66 104.37 486.51 104.70 485.36 105.05 484.22 105.41 483.08 105.79 481.95 106.18 480.82 106.58 479.70 106.99 478.58 107.41 477.46 107.83 476.34 108.25 475.23 108.69 474.11 109.12 473.00 109.55 471.89 109.99 470.78 110.43 469.67 110.87 468.56 111.31 467.45 111.76 466.35 112.21 465.25 112.68 464.15 113.16 463.06 113.65 461.98 114.15 460.90 114.68 459.84 115.22 458.78 115.79 457.74 116.40 456.72 117.04 455.71 117.73 454.74 118.49 453.80 119.34 452.94 120.38 452.50 122.40Z" fill="#f0dc00"/>
<path d="M482.9 112.4h1.0v1.0h-1.0zM477.2 114.7h1.0v1.0h-1.0zM485.3 103.3h1.0v1.0h-1.0zM484.5 117.0h1.0v1.0h-1.0zM482.6 105.3h1.0v1.0h-1.0zM481.9 104.3h1.0v1.0h-1.0zM495.7 102.3h1.0v1.0h-1.0zM450.9 124.7h1.0v1.0h-1.0zM491.3 110.4h1.0v1.0h-1.0zM480.0 114.4h1.0v1.0h-1.0zM498.2 101.2h1.0v1.0h-1.0zM478.8 114.1h1.0v1.0h-1.0zM456.0 122.6h1.0v1.0h-1.0zM461.4 113.3h1.0v1.0h-1.0zM461.4 122.0h1.0v1.0h-1.0zM468.4 118.6h1.0v1.0h-1.0zM478.8 103.8h1.0v1.0h-1.0zM463.8 108.1h1.0v1.0h-1.0zM479.3 116.2h1.0v1.0h-1.0zM494.2 107.7h1.0v1.0h-1.0zM495.0 102.0h1.0v1.0h-1.0zM469.8 122.4h1.0v1.0h-1.0zM475.7 119.2h1.0v1.0h-1.0zM459.3 123.4h1.0v1.0h-1.0zM448.9 120.8h1.0v1.0h-1.0zM458.7 114.2h1.0v1.0h-1.0zM483.8 101.6h1.0v1.0h-1.0zM491.2 102.3h1.0v1.0h-1.0zM459.6 123.8h1.0v1.0h-1.0zM457.8 113.2h1.0v1.0h-1.0zM452.0 120.0h1.0v1.0h-1.0zM460.9 121.8h1.0v1.0h-1.0zM495.9 101.9h1.0v1.0h-1.0zM458.9 114.8h1.0v1.0h-1.0zM475.4 117.1h1.0v1.0h-1.0zM492.0 107.7h1.0v1.0h-1.0zM476.8 125.5h1.0v1.0h-1.0zM461.1 121.1h1.0v1.0h-1.0zM460.0 114.0h1.0v1.0h-1.0zM479.3 113.6h1.0v1.0h-1.0zM477.1 107.8h1.0v1.0h-1.0zM484.2 113.7h1.0v1.0h-1.0zM459.7 111.5h1.0v1.0h-1.0zM472.9 108.1h1.0v1.0h-1.0zM480.3 115.1h1.0v1.0h-1.0zM491.3 110.7h1.0v1.0h-1.0zM456.5 115.0h1.0v1.0h-1.0zM452.9 123.1h1.0v1.0h-1.0zM478.5 105.6h1.0v1.0h-1.0zM448.2 121.3h1.0v1.0h-1.0zM482.8 112.5h1.0v1.0h-1.0zM490.8 111.8h1.0v1.0h-1.0zM457.5 111.5h1.0v1.0h-1.0zM460.3 122.0h1.0v1.0h-1.0zM472.2 121.3h1.0v1.0h-1.0zM485.0 105.1h1.0v1.0h-1.0zM488.8 109.6h1.0v1.0h-1.0zM451.3 119.1h1.0v1.0h-1.0zM476.4 107.4h1.0v1.0h-1.0zM456.3 116.9h1.0v1.0h-1.0zM475.0 117.7h1.0v1.0h-1.0zM469.6 120.8h1.0v1.0h-1.0zM480.0 106.5h1.0v1.0h-1.0zM497.4 101.5h1.0v1.0h-1.0zM489.0 102.4h1.0v1.0h-1.0zM492.4 102.7h1.0v1.0h-1.0zM447.9 119.3h1.0v1.0h-1.0zM456.3 125.6h1.0v1.0h-1.0zM455.0 117.6h1.0v1.0h-1.0zM464.4 113.3h1.0v1.0h-1.0zM458.0 122.9h1.0v1.0h-1.0zM463.8 111.0h1.0v1.0h-1.0zM474.7 115.5h1.0v1.0h-1.0zM479.8 117.8h1.0v1.0h-1.0zM451.6 123.4h1.0v1.0h-1.0zM469.9 119.2h1.0v1.0h-1.0zM491.1 110.0h1.0v1.0h-1.0zM479.6 114.1h1.0v1.0h-1.0zM461.9 120.9h1.0v1.0h-1.0zM460.2 114.4h1.0v1.0h-1.0zM493.9 102.5h1.0v1.0h-1.0zM463.6 122.0h1.0v1.0h-1.0zM492.2 109.0h1.0v1.0h-1.0zM487.0 112.5h1.0v1.0h-1.0zM453.7 123.0h1.0v1.0h-1.0zM453.6 118.4h1.0v1.0h-1.0zM483.1 103.4h1.0v1.0h-1.0zM451.6 120.8h1.0v1.0h-1.0zM474.0 115.8h1.0v1.0h-1.0zM470.0 110.7h1.0v1.0h-1.0zM496.3 104.5h1.0v1.0h-1.0zM454.8 115.1h1.0v1.0h-1.0zM464.3 112.7h1.0v1.0h-1.0zM456.7 126.1h1.0v1.0h-1.0zM493.7 101.6h1.0v1.0h-1.0zM474.4 117.3h1.0v1.0h-1.0zM453.6 117.2h1.0v1.0h-1.0zM499.5 103.1h1.0v1.0h-1.0zM467.0 121.5h1.0v1.0h-1.0zM457.0 116.8h1.0v1.0h-1.0zM471.0 117.1h1.0v1.0h-1.0zM475.5 105.6h1.0v1.0h-1.0zM493.7 102.4h1.0v1.0h-1.0zM496.7 102.0h1.0v1.0h-1.0zM491.8 109.3h1.0v1.0h-1.0zM467.6 110.1h1.0v1.0h-1.0zM485.4 103.2h1.0v1.0h-1.0zM463.0 122.9h1.0v1.0h-1.0zM498.7 101.2h1.0v1.0h-1.0zM459.0 112.3h1.0v1.0h-1.0zM480.3 105.2h1.0v1.0h-1.0zM456.5 123.4h1.0v1.0h-1.0zM474.8 108.8h1.0v1.0h-1.0zM468.3 121.1h1.0v1.0h-1.0zM492.5 107.4h1.0v1.0h-1.0zM454.0 116.5h1.0v1.0h-1.0zM480.0 105.0h1.0v1.0h-1.0zM451.4 123.5h1.0v1.0h-1.0zM470.5 110.6h1.0v1.0h-1.0zM491.7 101.9h1.0v1.0h-1.0zM467.6 122.0h1.0v1.0h-1.0zM452.9 123.8h1.0v1.0h-1.0zM470.1 108.8h1.0v1.0h-1.0zM497.6 103.7h1.0v1.0h-1.0zM462.4 112.1h1.0v1.0h-1.0zM470.4 108.3h1.0v1.0h-1.0zM492.5 103.2h1.0v1.0h-1.0zM479.1 114.2h1.0v1.0h-1.0zM473.6 109.0h1.0v1.0h-1.0zM468.3 118.5h1.0v1.0h-1.0zM449.8 121.5h1.0v1.0h-1.0zM471.8 117.4h1.0v1.0h-1.0zM499.9 103.8h1.0v1.0h-1.0zM469.0 110.4h1.0v1.0h-1.0zM496.3 104.3h1.0v1.0h-1.0zM456.7 116.3h1.0v1.0h-1.0zM460.1 130.4h1.0v1.0h-1.0zM475.6 107.6h1.0v1.0h-1.0zM489.9 108.3h1.0v1.0h-1.0zM479.2 117.6h1.0v1.0h-1.0zM460.5 122.3h1.0v1.0h-1.0zM495.0 105.3h1.0v1.0h-1.0zM478.2 114.0h1.0v1.0h-1.0zM490.5 108.5h1.0v1.0h-1.0zM468.4 110.7h1.0v1.0h-1.0zM448.3 122.2h1.0v1.0h-1.0zM488.1 110.6h1.0v1.0h-1.0zM458.8 122.8h1.0v1.0h-1.0zM483.0 103.8h1.0v1.0h-1.0zM464.0 121.3h1.0v1.0h-1.0zM450.1 119.8h1.0v1.0h-1.0zM482.2 112.2h1.0v1.0h-1.0zM456.6 116.5h1.0v1.0h-1.0zM474.7 116.2h1.0v1.0h-1.0zM485.4 111.0h1.0v1.0h-1.0zM468.9 111.3h1.0v1.0h-1.0zM470.2 118.9h1.0v1.0h-1.0zM457.1 122.2h1.0v1.0h-1.0zM448.3 122.0h1.0v1.0h-1.0zM479.5 107.1h1.0v1.0h-1.0zM495.1 102.7h1.0v1.0h-1.0zM496.4 101.6h1.0v1.0h-1.0zM454.6 117.2h1.0v1.0h-1.0zM490.3 109.7h1.0v1.0h-1.0zM471.7 110.1h1.0v1.0h-1.0zM463.3 108.5h1.0v1.0h-1.0zM480.6 112.8h1.0v1.0h-1.0zM469.6 118.1h1.0v1.0h-1.0zM468.5 119.0h1.0v1.0h-1.0zM496.0 101.0h1.0v1.0h-1.0zM493.5 107.6h1.0v1.0h-1.0zM470.5 120.5h1.0v1.0h-1.0zM488.1 109.9h1.0v1.0h-1.0zM456.2 123.9h1.0v1.0h-1.0zM483.9 111.5h1.0v1.0h-1.0zM498.8 103.8h1.0v1.0h-1.0zM450.7 120.2h1.0v1.0h-1.0zM469.8 109.6h1.0v1.0h-1.0zM497.2 104.3h1.0v1.0h-1.0zM474.9 106.1h1.0v1.0h-1.0zM484.8 110.9h1.0v1.0h-1.0zM472.6 107.1h1.0v1.0h-1.0zM481.5 106.2h1.0v1.0h-1.0zM497.1 101.8h1.0v1.0h-1.0zM497.7 103.9h1.0v1.0h-1.0zM491.0 111.2h1.0v1.0h-1.0zM490.0 109.5h1.0v1.0h-1.0zM480.4 100.9h1.0v1.0h-1.0zM461.3 114.6h1.0v1.0h-1.0zM496.4 105.3h1.0v1.0h-1.0zM488.3 109.9h1.0v1.0h-1.0zM494.2 102.5h1.0v1.0h-1.0zM475.8 104.5h1.0v1.0h-1.0zM453.5 122.8h1.0v1.0h-1.0zM491.9 102.2h1.0v1.0h-1.0zM464.6 121.9h1.0v1.0h-1.0zM470.3 122.2h1.0v1.0h-1.0zM499.0 100.8h1.0v1.0h-1.0zM468.0 108.9h1.0v1.0h-1.0zM474.2 117.0h1.0v1.0h-1.0zM457.0 122.9h1.0v1.0h-1.0zM486.5 116.6h1.0v1.0h-1.0zM477.4 114.7h1.0v1.0h-1.0zM487.3 109.9h1.0v1.0h-1.0zM469.1 118.6h1.0v1.0h-1.0zM453.6 123.1h1.0v1.0h-1.0zM449.3 120.5h1.0v1.0h-1.0zM470.1 108.4h1.0v1.0h-1.0zM467.3 120.0h1.0v1.0h-1.0zM475.3 119.4h1.0v1.0h-1.0zM462.5 125.1h1.0v1.0h-1.0zM493.8 101.7h1.0v1.0h-1.0zM486.1 102.6h1.0v1.0h-1.0zM478.3 104.2h1.0v1.0h-1.0zM454.5 123.7h1.0v1.0h-1.0zM482.2 106.1h1.0v1.0h-1.0zM491.5 107.9h1.0v1.0h-1.0zM455.3 116.5h1.0v1.0h-1.0zM492.7 101.9h1.0v1.0h-1.0zM499.3 103.9h1.0v1.0h-1.0zM453.4 115.1h1.0v1.0h-1.0zM466.4 110.9h1.0v1.0h-1.0zM479.0 115.4h1.0v1.0h-1.0zM496.6 102.1h1.0v1.0h-1.0zM478.5 104.1h1.0v1.0h-1.0zM455.5 123.1h1.0v1.0h-1.0zM495.3 102.2h1.0v1.0h-1.0zM447.8 121.5h1.0v1.0h-1.0zM449.7 119.3h1.0v1.0h-1.0zM466.0 120.4h1.0v1.0h-1.0zM478.8 114.3h1.0v1.0h-1.0zM463.3 120.4h1.0v1.0h-1.0zM497.3 101.4h1.0v1.0h-1.0zM452.4 123.0h1.0v1.0h-1.0zM498.4 105.7h1.0v1.0h-1.0zM482.9 111.7h1.0v1.0h-1.0zM478.4 115.7h1.0v1.0h-1.0zM490.4 108.5h1.0v1.0h-1.0zM455.3 116.6h1.0v1.0h-1.0zM463.0 123.3h1.0v1.0h-1.0zM467.1 112.2h1.0v1.0h-1.0zM461.7 122.9h1.0v1.0h-1.0zM472.9 109.6h1.0v1.0h-1.0zM496.7 104.2h1.0v1.0h-1.0zM455.8 117.2h1.0v1.0h-1.0zM451.5 124.2h1.0v1.0h-1.0zM483.2 113.3h1.0v1.0h-1.0zM467.4 120.4h1.0v1.0h-1.0zM486.2 110.6h1.0v1.0h-1.0zM472.3 118.2h1.0v1.0h-1.0zM484.4 114.3h1.0v1.0h-1.0zM449.3 124.8h1.0v1.0h-1.0zM484.6 111.1h1.0v1.0h-1.0zM484.8 111.3h1.0v1.0h-1.0zM475.6 117.1h1.0v1.0h-1.0zM492.1 110.6h1.0v1.0h-1.0zM455.8 122.5h1.0v1.0h-1.0zM497.8 101.2h1.0v1.0h-1.0zM452.8 117.6h1.0v1.0h-1.0zM466.6 120.5h1.0v1.0h-1.0zM483.8 105.6h1.0v1.0h-1.0zM464.0 120.8h1.0v1.0h-1.0zM478.5 103.9h1.0v1.0h-1.0zM457.6 122.8h1.0v1.0h-1.0zM453.4 118.7h1.0v1.0h-1.0zM469.8 123.4h1.0v1.0h-1.0zM461.5 108.9h1.0v1.0h-1.0zM476.0 104.8h1.0v1.0h-1.0zM497.4 101.1h1.0v1.0h-1.0zM474.9 105.4h1.0v1.0h-1.0zM457.2 115.9h1.0v1.0h-1.0zM465.7 111.0h1.0v1.0h-1.0zM461.1 113.7h1.0v1.0h-1.0zM464.1 121.0h1.0v1.0h-1.0zM472.7 107.1h1.0v1.0h-1.0zM462.6 121.3h1.0v1.0h-1.0zM461.6 113.0h1.0v1.0h-1.0zM491.1 107.6h1.0v1.0h-1.0zM487.9 109.3h1.0v1.0h-1.0zM482.4 104.9h1.0v1.0h-1.0zM463.6 120.3h1.0v1.0h-1.0zM497.0 101.3h1.0v1.0h-1.0zM454.7 122.7h1.0v1.0h-1.0zM465.8 111.7h1.0v1.0h-1.0zM460.2 112.6h1.0v1.0h-1.0zM465.1 122.8h1.0v1.0h-1.0zM464.1 113.3h1.0v1.0h-1.0zM469.5 110.5h1.0v1.0h-1.0zM482.1 106.2h1.0v1.0h-1.0zM479.5 115.0h1.0v1.0h-1.0zM466.1 119.2h1.0v1.0h-1.0zM458.6 114.8h1.0v1.0h-1.0zM490.5 102.9h1.0v1.0h-1.0zM474.7 107.4h1.0v1.0h-1.0zM454.7 123.1h1.0v1.0h-1.0zM498.7 101.0h1.0v1.0h-1.0zM476.8 116.9h1.0v1.0h-1.0zM475.1 116.0h1.0v1.0h-1.0zM478.8 114.8h1.0v1.0h-1.0zM465.9 124.1h1.0v1.0h-1.0zM469.1 119.5h1.0v1.0h-1.0zM463.8 113.0h1.0v1.0h-1.0zM467.9 111.6h1.0v1.0h-1.0zM490.0 103.3h1.0v1.0h-1.0zM472.0 108.4h1.0v1.0h-1.0zM456.8 123.7h1.0v1.0h-1.0zM465.9 120.0h1.0v1.0h-1.0zM481.0 112.6h1.0v1.0h-1.0zM478.2 115.9h1.0v1.0h-1.0zM458.2 114.8h1.0v1.0h-1.0zM485.7 104.3h1.0v1.0h-1.0zM463.6 107.4h1.0v1.0h-1.0zM483.1 112.4h1.0v1.0h-1.0zM450.6 123.8h1.0v1.0h-1.0zM496.8 104.7h1.0v1.0h-1.0zM477.3 117.4h1.0v1.0h-1.0zM481.3 103.1h1.0v1.0h-1.0zM452.5 123.6h1.0v1.0h-1.0zM495.6 106.1h1.0v1.0h-1.0zM468.0 106.9h1.0v1.0h-1.0zM491.9 110.8h1.0v1.0h-1.0zM474.7 106.8h1.0v1.0h-1.0zM454.5 117.3h1.0v1.0h-1.0zM482.2 103.6h1.0v1.0h-1.0zM470.8 119.8h1.0v1.0h-1.0zM470.6 123.3h1.0v1.0h-1.0zM467.2 109.9h1.0v1.0h-1.0zM476.9 116.0h1.0v1.0h-1.0zM475.0 119.0h1.0v1.0h-1.0zM479.7 106.9h1.0v1.0h-1.0zM477.8 107.1h1.0v1.0h-1.0zM481.9 113.5h1.0v1.0h-1.0zM465.0 121.0h1.0v1.0h-1.0zM488.8 102.7h1.0v1.0h-1.0zM469.2 110.3h1.0v1.0h-1.0zM455.6 113.2h1.0v1.0h-1.0zM452.9 119.6h1.0v1.0h-1.0zM474.5 108.4h1.0v1.0h-1.0zM486.5 104.1h1.0v1.0h-1.0zM462.0 123.0h1.0v1.0h-1.0zM451.3 120.8h1.0v1.0h-1.0zM455.1 117.1h1.0v1.0h-1.0zM462.7 121.0h1.0v1.0h-1.0zM462.5 113.9h1.0v1.0h-1.0zM466.9 120.2h1.0v1.0h-1.0zM489.3 108.8h1.0v1.0h-1.0zM470.7 117.4h1.0v1.0h-1.0zM452.8 123.3h1.0v1.0h-1.0zM470.3 107.2h1.0v1.0h-1.0zM455.6 114.8h1.0v1.0h-1.0zM470.9 118.4h1.0v1.0h-1.0zM481.0 106.2h1.0v1.0h-1.0zM458.6 112.4h1.0v1.0h-1.0zM470.1 122.0h1.0v1.0h-1.0zM448.1 120.7h1.0v1.0h-1.0zM478.9 106.1h1.0v1.0h-1.0zM470.6 108.8h1.0v1.0h-1.0zM487.3 111.6h1.0v1.0h-1.0zM457.8 116.4h1.0v1.0h-1.0zM480.7 105.9h1.0v1.0h-1.0zM467.1 119.5h1.0v1.0h-1.0zM464.6 120.6h1.0v1.0h-1.0zM490.8 108.5h1.0v1.0h-1.0zM456.6 117.0h1.0v1.0h-1.0zM467.2 111.5h1.0v1.0h-1.0zM471.4 123.2h1.0v1.0h-1.0zM468.5 124.8h1.0v1.0h-1.0zM486.1 104.9h1.0v1.0h-1.0zM488.5 109.5h1.0v1.0h-1.0zM471.5 117.4h1.0v1.0h-1.0zM471.2 117.8h1.0v1.0h-1.0zM462.1 112.5h1.0v1.0h-1.0zM456.6 123.0h1.0v1.0h-1.0zM492.6 108.3h1.0v1.0h-1.0zM496.3 102.0h1.0v1.0h-1.0zM454.6 123.5h1.0v1.0h-1.0zM459.3 122.5h1.0v1.0h-1.0zM465.5 121.1h1.0v1.0h-1.0zM468.2 111.4h1.0v1.0h-1.0zM495.6 107.8h1.0v1.0h-1.0zM480.9 113.1h1.0v1.0h-1.0zM485.6 119.0h1.0v1.0h-1.0zM460.0 123.1h1.0v1.0h-1.0zM452.8 118.7h1.0v1.0h-1.0zM451.2 123.6h1.0v1.0h-1.0zM471.7 122.6h1.0v1.0h-1.0zM468.7 110.7h1.0v1.0h-1.0zM487.5 110.2h1.0v1.0h-1.0zM480.4 106.3h1.0v1.0h-1.0zM460.9 126.1h1.0v1.0h-1.0zM498.4 100.3h1.0v1.0h-1.0zM489.1 100.8h1.0v1.0h-1.0zM475.1 118.6h1.0v1.0h-1.0zM462.8 112.8h1.0v1.0h-1.0zM492.6 107.7h1.0v1.0h-1.0zM454.3 122.7h1.0v1.0h-1.0zM470.1 118.3h1.0v1.0h-1.0zM472.5 108.5h1.0v1.0h-1.0zM471.0 123.7h1.0v1.0h-1.0zM481.9 103.5h1.0v1.0h-1.0zM477.3 106.3h1.0v1.0h-1.0zM463.5 112.5h1.0v1.0h-1.0zM486.0 111.7h1.0v1.0h-1.0zM470.6 110.0h1.0v1.0h-1.0zM494.9 106.1h1.0v1.0h-1.0zM466.7 119.0h1.0v1.0h-1.0zM497.4 103.9h1.0v1.0h-1.0zM482.2 113.4h1.0v1.0h-1.0zM460.0 125.9h1.0v1.0h-1.0zM470.9 117.7h1.0v1.0h-1.0zM472.1 109.2h1.0v1.0h-1.0zM475.4 115.2h1.0v1.0h-1.0zM461.4 107.9h1.0v1.0h-1.0zM456.3 113.0h1.0v1.0h-1.0zM497.3 101.3h1.0v1.0h-1.0zM490.3 103.1h1.0v1.0h-1.0zM452.6 123.7h1.0v1.0h-1.0zM476.8 105.2h1.0v1.0h-1.0zM453.0 117.7h1.0v1.0h-1.0zM498.4 101.0h1.0v1.0h-1.0zM489.3 111.9h1.0v1.0h-1.0zM464.8 122.6h1.0v1.0h-1.0zM493.7 102.9h1.0v1.0h-1.0zM460.0 115.4h1.0v1.0h-1.0zM495.1 101.5h1.0v1.0h-1.0zM476.2 108.4h1.0v1.0h-1.0zM499.5 103.0h1.0v1.0h-1.0zM487.1 111.3h1.0v1.0h-1.0zM479.0 105.3h1.0v1.0h-1.0zM448.7 122.0h1.0v1.0h-1.0zM452.5 124.5h1.0v1.0h-1.0zM490.2 109.6h1.0v1.0h-1.0zM458.0 110.6h1.0v1.0h-1.0zM455.6 115.3h1.0v1.0h-1.0zM496.7 104.2h1.0v1.0h-1.0zM480.0 115.3h1.0v1.0h-1.0zM454.7 117.7h1.0v1.0h-1.0zM491.9 108.4h1.0v1.0h-1.0zM488.9 109.1h1.0v1.0h-1.0zM482.6 113.9h1.0v1.0h-1.0zM461.8 108.2h1.0v1.0h-1.0zM461.1 114.1h1.0v1.0h-1.0zM484.7 113.2h1.0v1.0h-1.0zM461.8 111.4h1.0v1.0h-1.0zM474.6 118.6h1.0v1.0h-1.0zM482.8 105.0h1.0v1.0h-1.0zM464.0 120.0h1.0v1.0h-1.0zM466.7 112.4h1.0v1.0h-1.0zM495.9 104.4h1.0v1.0h-1.0zM498.7 101.1h1.0v1.0h-1.0z" fill="#f0dc00" fill-opacity="1.0"/>
<path d="M499.1 107.0h0.9v0.9h-0.9zM443.9 117.1h0.9v0.9h-0.9zM495.5 95.8h0.9v0.9h-0.9zM470.5 110.3h0.9v0.9h-0.9zM479.7 126.5h0.9v0.9h-0.9zM496.4 81.0h0.9v0.9h-0.9zM451.8 132.9h0.9v0.9h-0.9zM495.9 82.3h0.9v0.9h-0.9zM452.4 135.2h0.9v0.9h-0.9zM455.2 118.9h0.9v0.9h-0.9zM488.0 97.4h0.9v0.9h-0.9zM454.7 125.8h0.9v0.9h-0.9zM435.0 130.6h0.9v0.9h-0.9zM465.1 108.7h0.9v0.9h-0.9zM506.6 109.4h0.9v0.9h-0.9zM461.8 118.9h0.9v0.9h-0.9zM477.5 105.3h0.9v0.9h-0.9zM504.5 91.5h0.9v0.9h-0.9zM472.2 123.0h0.9v0.9h-0.9zM495.5 102.5h0.9v0.9h-0.9zM455.1 117.3h0.9v0.9h-0.9zM478.3 123.2h0.9v0.9h-0.9zM452.9 125.8h0.9v0.9h-0.9zM465.1 120.5h0.9v0.9h-0.9zM441.7 122.4h0.9v0.9h-0.9zM469.8 109.3h0.9v0.9h-0.9zM443.8 121.1h0.9v0.9h-0.9zM456.9 127.7h0.9v0.9h-0.9zM454.4 127.0h0.9v0.9h-0.9zM489.0 107.9h0.9v0.9h-0.9zM475.7 124.1h0.9v0.9h-0.9zM485.8 107.1h0.9v0.9h-0.9zM463.3 122.8h0.9v0.9h-0.9zM500.7 91.8h0.9v0.9h-0.9zM467.1 120.7h0.9v0.9h-0.9zM476.5 100.6h0.9v0.9h-0.9zM458.5 132.8h0.9v0.9h-0.9zM475.1 109.4h0.9v0.9h-0.9zM460.5 119.5h0.9v0.9h-0.9zM453.8 114.9h0.9v0.9h-0.9zM499.1 102.4h0.9v0.9h-0.9zM450.0 119.4h0.9v0.9h-0.9zM484.5 98.5h0.9v0.9h-0.9zM489.2 118.4h0.9v0.9h-0.9zM447.4 117.4h0.9v0.9h-0.9zM500.9 109.1h0.9v0.9h-0.9zM468.4 116.9h0.9v0.9h-0.9zM448.1 123.8h0.9v0.9h-0.9zM483.8 102.5h0.9v0.9h-0.9zM493.7 105.4h0.9v0.9h-0.9zM447.3 127.9h0.9v0.9h-0.9zM503.4 99.1h0.9v0.9h-0.9zM485.1 102.8h0.9v0.9h-0.9zM472.9 102.2h0.9v0.9h-0.9zM446.9 119.8h0.9v0.9h-0.9zM452.2 118.9h0.9v0.9h-0.9zM489.2 115.4h0.9v0.9h-0.9zM457.8 124.8h0.9v0.9h-0.9zM442.3 125.4h0.9v0.9h-0.9zM466.9 132.2h0.9v0.9h-0.9zM448.4 119.5h0.9v0.9h-0.9zM468.0 110.1h0.9v0.9h-0.9zM523.6 104.2h0.9v0.9h-0.9zM462.5 120.6h0.9v0.9h-0.9zM509.5 113.0h0.9v0.9h-0.9zM463.2 133.6h0.9v0.9h-0.9zM459.9 120.7h0.9v0.9h-0.9zM468.6 120.0h0.9v0.9h-0.9zM460.1 113.8h0.9v0.9h-0.9zM457.3 106.9h0.9v0.9h-0.9zM488.3 96.7h0.9v0.9h-0.9zM508.0 95.9h0.9v0.9h-0.9zM459.6 127.7h0.9v0.9h-0.9zM493.0 122.1h0.9v0.9h-0.9zM510.9 110.8h0.9v0.9h-0.9zM458.5 108.0h0.9v0.9h-0.9zM461.1 107.0h0.9v0.9h-0.9zM453.1 117.2h0.9v0.9h-0.9zM503.1 101.3h0.9v0.9h-0.9zM452.6 126.7h0.9v0.9h-0.9zM453.4 119.5h0.9v0.9h-0.9zM494.4 111.2h0.9v0.9h-0.9zM505.4 104.4h0.9v0.9h-0.9zM496.6 88.1h0.9v0.9h-0.9zM466.2 103.6h0.9v0.9h-0.9zM474.1 132.0h0.9v0.9h-0.9zM450.5 106.2h0.9v0.9h-0.9zM443.0 131.8h0.9v0.9h-0.9zM482.2 102.0h0.9v0.9h-0.9zM504.7 107.7h0.9v0.9h-0.9zM497.5 101.0h0.9v0.9h-0.9zM478.0 115.4h0.9v0.9h-0.9zM502.8 89.2h0.9v0.9h-0.9zM480.9 115.7h0.9v0.9h-0.9zM472.2 119.1h0.9v0.9h-0.9zM446.4 132.7h0.9v0.9h-0.9zM461.2 131.7h0.9v0.9h-0.9zM503.8 107.4h0.9v0.9h-0.9zM495.9 104.3h0.9v0.9h-0.9zM503.4 90.3h0.9v0.9h-0.9zM500.1 102.2h0.9v0.9h-0.9zM505.9 98.7h0.9v0.9h-0.9zM451.1 135.7h0.9v0.9h-0.9zM453.9 130.9h0.9v0.9h-0.9zM498.0 104.1h0.9v0.9h-0.9zM466.6 115.9h0.9v0.9h-0.9zM468.7 138.0h0.9v0.9h-0.9zM455.4 138.1h0.9v0.9h-0.9zM486.9 115.6h0.9v0.9h-0.9zM476.9 108.9h0.9v0.9h-0.9zM475.6 113.4h0.9v0.9h-0.9zM497.4 95.7h0.9v0.9h-0.9zM458.9 111.1h0.9v0.9h-0.9zM482.0 116.8h0.9v0.9h-0.9zM470.1 117.0h0.9v0.9h-0.9zM440.4 125.1h0.9v0.9h-0.9zM453.6 123.0h0.9v0.9h-0.9zM504.9 84.8h0.9v0.9h-0.9zM489.8 104.7h0.9v0.9h-0.9zM449.0 118.3h0.9v0.9h-0.9zM473.7 100.8h0.9v0.9h-0.9zM444.5 115.9h0.9v0.9h-0.9zM506.7 106.3h0.9v0.9h-0.9zM453.8 130.6h0.9v0.9h-0.9zM498.7 97.4h0.9v0.9h-0.9zM465.9 97.5h0.9v0.9h-0.9zM478.9 102.6h0.9v0.9h-0.9zM466.4 113.1h0.9v0.9h-0.9zM439.5 117.9h0.9v0.9h-0.9zM473.1 108.6h0.9v0.9h-0.9zM464.4 110.0h0.9v0.9h-0.9zM510.6 98.5h0.9v0.9h-0.9zM490.7 99.4h0.9v0.9h-0.9zM485.7 106.1h0.9v0.9h-0.9zM444.5 139.7h0.9v0.9h-0.9zM447.8 113.4h0.9v0.9h-0.9zM445.0 137.1h0.9v0.9h-0.9zM448.1 120.5h0.9v0.9h-0.9zM506.2 96.2h0.9v0.9h-0.9zM457.2 125.2h0.9v0.9h-0.9zM486.3 108.2h0.9v0.9h-0.9zM514.7 95.3h0.9v0.9h-0.9zM442.1 134.5h0.9v0.9h-0.9zM448.6 130.1h0.9v0.9h-0.9zM463.0 126.0h0.9v0.9h-0.9zM472.5 116.4h0.9v0.9h-0.9zM474.5 115.1h0.9v0.9h-0.9zM506.8 108.8h0.9v0.9h-0.9zM467.0 112.0h0.9v0.9h-0.9zM467.6 116.2h0.9v0.9h-0.9zM485.9 97.3h0.9v0.9h-0.9zM520.9 93.6h0.9v0.9h-0.9zM455.8 116.7h0.9v0.9h-0.9zM489.4 107.1h0.9v0.9h-0.9zM449.8 120.6h0.9v0.9h-0.9zM459.4 107.7h0.9v0.9h-0.9zM465.4 111.8h0.9v0.9h-0.9zM468.1 120.6h0.9v0.9h-0.9zM453.9 106.0h0.9v0.9h-0.9zM456.9 124.6h0.9v0.9h-0.9z" fill="#f0dc00" fill-opacity="0.75"/>
<path d="M338.70 177.60 339.31 178.22 339.75 178.37 340.16 178.44 340.55 178.46 340.93 178.45 341.31 178.41 341.67 178.36 342.04 178.29 342.39 178.21 342.75 178.11 343.10 178.01 343.45 177.91 343.79 177.79 344.13 177.67 344.48 177.55 344.82 177.42 345.16 177.29 345.50 177.16 345.83 177.03 346.17 176.89 346.51 176.76 346.85 176.62 347.19 176.49 347.52 176.35 347.86 176.21 348.19 176.06 348.53 175.92 348.86 175.76 349.19 175.61 349.52 175.44 349.84 175.27 350.17 175.10 350.49 174.91 350.80 174.71 351.11 174.50 351.42 174.28 351.72 174.03 352.00 173.74 352.26 173.40 352.40 172.70 352.40 172.70 351.85 172.25 351.43 172.15 351.03 172.11 350.64 172.10 350.26 172.12 349.89 172.16 349.52 172.20 349.15 172.26 348.79 172.33 348.43 172.41 348.07 172.49 347.72 172.58 347.37 172.67 347.02 172.77 346.67 172.87 346.32 172.97 345.97 173.08 345.62 173.19 345.27 173.30 344.93 173.41 344.58 173.52 344.23 173.63 343.89 173.74 343.54 173.86 343.20 173.98 342.86 174.10 342.51 174.22 342.17 174.35 341.84 174.49 341.50 174.64 341.17 174.79 340.84 174.95 340.52 175.13 340.20 175.32 339.89 175.53 339.59 175.76 339.30 176.03 339.02 176.34 338.78 176.74 338.70 177.60Z" fill="#3b4357"/>
<path d="M341.8 174.0h1.0v1.0h-1.0zM344.1 173.2h1.0v1.0h-1.0zM337.0 177.0h1.0v1.0h-1.0zM350.9 171.6h1.0v1.0h-1.0zM340.5 174.0h1.0v1.0h-1.0zM350.0 175.9h1.0v1.0h-1.0zM343.7 178.7h1.0v1.0h-1.0zM350.3 174.1h1.0v1.0h-1.0zM344.8 173.1h1.0v1.0h-1.0zM348.5 174.8h1.0v1.0h-1.0zM342.7 177.1h1.0v1.0h-1.0zM342.7 173.9h1.0v1.0h-1.0zM351.2 173.5h1.0v1.0h-1.0zM346.2 175.9h1.0v1.0h-1.0zM344.0 176.6h1.0v1.0h-1.0zM342.3 173.9h1.0v1.0h-1.0zM342.0 177.5h1.0v1.0h-1.0zM341.5 174.4h1.0v1.0h-1.0zM338.1 178.4h1.0v1.0h-1.0zM349.6 171.9h1.0v1.0h-1.0zM347.7 175.1h1.0v1.0h-1.0zM337.6 176.2h1.0v1.0h-1.0zM340.1 178.1h1.0v1.0h-1.0zM342.2 177.8h1.0v1.0h-1.0zM349.4 172.0h1.0v1.0h-1.0zM352.2 171.6h1.0v1.0h-1.0zM337.4 178.0h1.0v1.0h-1.0zM349.6 171.1h1.0v1.0h-1.0zM348.3 176.3h1.0v1.0h-1.0zM338.0 176.2h1.0v1.0h-1.0zM352.9 172.3h1.0v1.0h-1.0zM339.8 173.9h1.0v1.0h-1.0zM346.6 175.9h1.0v1.0h-1.0zM348.6 175.2h1.0v1.0h-1.0zM337.5 176.6h1.0v1.0h-1.0zM351.1 173.5h1.0v1.0h-1.0zM349.7 171.8h1.0v1.0h-1.0zM340.3 177.7h1.0v1.0h-1.0zM337.9 176.4h1.0v1.0h-1.0zM343.4 176.9h1.0v1.0h-1.0z" fill="#3b4357" fill-opacity="1.0"/>
<path d="M342.5 168.6h1.0v1.0h-1.0zM346.0 168.0h1.0v1.0h-1.0zM348.0 168.0h1.0v1.0h-1.0zM358.1 166.3h1.0v1.0h-1.0zM354.4 174.1h1.0v1.0h-1.0zM335.9 177.1h1.0v1.0h-1.0zM379.9 174.9h1.0v1.0h-1.0zM391.9 175.6h1.0v1.0h-1.0z" fill="#5a6070" fill-opacity="0.8"/>
<path d="M422.00 174.70 422.49 174.95 422.97 175.03 423.45 175.08 423.93 175.11 424.41 175.14 424.89 175.15 425.37 175.16 425.84 175.16 426.32 175.16 426.80 175.16 427.27 175.15 427.75 175.14 428.23 175.12 428.70 175.10 429.18 175.08 429.65 175.06 430.13 175.04 430.60 175.01 431.08 174.98 431.55 174.95 432.03 174.91 432.50 174.88 432.98 174.84 433.45 174.80 433.93 174.76 434.40 174.71 434.87 174.67 435.35 174.62 435.82 174.57 436.30 174.51 436.77 174.46 437.24 174.39 437.71 174.33 438.19 174.26 438.66 174.19 439.13 174.11 439.60 174.01 440.07 173.91 440.54 173.78 441.00 173.50 441.00 173.50 440.51 173.28 440.03 173.21 439.55 173.17 439.07 173.13 438.59 173.11 438.11 173.10 437.64 173.09 437.16 173.09 436.68 173.08 436.20 173.09 435.73 173.09 435.25 173.10 434.78 173.11 434.30 173.13 433.82 173.14 433.35 173.16 432.87 173.18 432.40 173.20 431.92 173.23 431.45 173.25 430.97 173.28 430.50 173.31 430.02 173.34 429.55 173.38 429.07 173.42 428.60 173.46 428.12 173.50 427.65 173.54 427.18 173.59 426.70 173.64 426.23 173.70 425.76 173.76 425.28 173.82 424.81 173.89 424.34 173.96 423.87 174.05 423.40 174.14 422.93 174.25 422.46 174.39 422.00 174.70Z" fill="#c01818"/>
<path d="M432.8 175.1h1.0v1.0h-1.0zM439.3 172.7h1.0v1.0h-1.0zM432.8 174.2h1.0v1.0h-1.0zM422.1 173.8h1.0v1.0h-1.0zM440.3 173.4h1.0v1.0h-1.0zM423.2 175.5h1.0v1.0h-1.0zM437.7 174.0h1.0v1.0h-1.0zM440.4 172.4h1.0v1.0h-1.0zM441.6 173.2h1.0v1.0h-1.0zM436.0 172.7h1.0v1.0h-1.0zM428.9 172.5h1.0v1.0h-1.0zM420.5 173.9h1.0v1.0h-1.0zM441.6 173.3h1.0v1.0h-1.0zM424.6 174.8h1.0v1.0h-1.0zM424.8 172.4h1.0v1.0h-1.0zM427.2 174.6h1.0v1.0h-1.0zM424.1 174.9h1.0v1.0h-1.0zM428.1 172.7h1.0v1.0h-1.0zM422.8 173.6h1.0v1.0h-1.0zM430.3 172.8h1.0v1.0h-1.0zM429.3 172.8h1.0v1.0h-1.0zM424.0 173.4h1.0v1.0h-1.0zM442.0 172.5h1.0v1.0h-1.0zM429.7 174.8h1.0v1.0h-1.0zM436.3 172.3h1.0v1.0h-1.0zM434.7 172.2h1.0v1.0h-1.0zM420.6 173.9h1.0v1.0h-1.0zM438.8 172.2h1.0v1.0h-1.0zM427.9 174.7h1.0v1.0h-1.0zM439.4 173.4h1.0v1.0h-1.0zM437.8 173.8h1.0v1.0h-1.0zM428.6 174.6h1.0v1.0h-1.0zM431.5 172.9h1.0v1.0h-1.0zM440.3 173.4h1.0v1.0h-1.0zM423.2 174.9h1.0v1.0h-1.0zM431.7 174.2h1.0v1.0h-1.0zM421.5 174.8h1.0v1.0h-1.0zM422.6 173.5h1.0v1.0h-1.0zM420.3 174.7h1.0v1.0h-1.0zM438.3 173.6h1.0v1.0h-1.0zM422.7 174.9h1.0v1.0h-1.0zM427.3 175.8h1.0v1.0h-1.0zM441.7 172.6h1.0v1.0h-1.0zM437.1 174.5h1.0v1.0h-1.0zM421.8 173.9h1.0v1.0h-1.0zM427.5 174.4h1.0v1.0h-1.0zM441.8 173.2h1.0v1.0h-1.0zM441.9 172.5h1.0v1.0h-1.0zM436.4 173.8h1.0v1.0h-1.0zM436.2 172.7h1.0v1.0h-1.0z" fill="#c01818" fill-opacity="1.0"/>
<path d="M435.4 173.6h0.9v0.9h-0.9zM427.8 174.1h0.9v0.9h-0.9zM440.4 172.9h0.9v0.9h-0.9zM423.7 174.1h0.9v0.9h-0.9zM436.3 173.4h0.9v0.9h-0.9zM430.9 173.8h0.9v0.9h-0.9zM445.1 171.9h0.9v0.9h-0.9zM422.5 174.3h0.9v0.9h-0.9zM420.5 174.4h0.9v0.9h-0.9zM433.6 174.1h0.9v0.9h-0.9zM437.5 172.5h0.9v0.9h-0.9zM429.0 175.3h0.9v0.9h-0.9zM442.6 173.0h0.9v0.9h-0.9zM425.1 174.1h0.9v0.9h-0.9zM418.4 174.6h0.9v0.9h-0.9zM426.1 173.9h0.9v0.9h-0.9zM418.4 174.7h0.9v0.9h-0.9zM428.5 173.6h0.9v0.9h-0.9zM428.3 174.9h0.9v0.9h-0.9zM441.1 172.9h0.9v0.9h-0.9zM425.3 174.6h0.9v0.9h-0.9zM424.1 174.7h0.9v0.9h-0.9zM420.9 173.8h0.9v0.9h-0.9zM421.7 174.2h0.9v0.9h-0.9zM439.6 172.7h0.9v0.9h-0.9zM429.3 173.9h0.9v0.9h-0.9zM444.1 173.5h0.9v0.9h-0.9zM419.6 174.6h0.9v0.9h-0.9zM428.5 174.2h0.9v0.9h-0.9zM444.4 173.0h0.9v0.9h-0.9zM446.6 172.5h0.9v0.9h-0.9zM439.6 173.2h0.9v0.9h-0.9zM421.6 174.6h0.9v0.9h-0.9zM422.0 174.3h0.9v0.9h-0.9zM438.5 172.3h0.9v0.9h-0.9z" fill="#c83030" fill-opacity="0.8"/>
<line x1="557.8" y1="77.5" x2="557.8" y2="184.8" stroke="#8a8a8a" stroke-width="1.0"/>
<path d="M556.90 80.90h1.8M556.90 85.92h1.8M556.90 90.94h1.8M556.90 95.96h1.8M556.90 100.98h1.8M556.90 106.00h1.8M556.90 111.02h1.8M556.90 116.04h1.8M556.90 121.06h1.8M556.90 126.08h1.8M556.90 131.10h1.8M556.90 136.12h1.8M556.90 141.14h1.8M556.90 146.16h1.8M556.90 151.18h1.8M556.90 156.20h1.8M556.90 161.22h1.8M556.90 166.24h1.8M556.90 171.26h1.8M556.90 176.28h1.8M556.90 181.30h1.8" stroke="#4a4a4a" stroke-width="0.6" fill="none"/>
<path d="M555.60 85.90h2.2M555.60 111.00h2.2M555.60 136.10h2.2M555.60 161.20h2.2" stroke="#4a4a4a" stroke-width="0.7" fill="none"/>
<text x="541.31" y="87.55" class="tk" textLength="12.24" lengthAdjust="spacingAndGlyphs">40 000</text>
<text x="541.31" y="112.65" class="tk" textLength="12.24" lengthAdjust="spacingAndGlyphs">30 000</text>
<text x="541.31" y="137.75" class="tk" textLength="12.24" lengthAdjust="spacingAndGlyphs">20 000</text>
<text x="541.31" y="162.85" class="tk" textLength="12.24" lengthAdjust="spacingAndGlyphs">10 000</text>
<line x1="561" y1="188.2" x2="770.5" y2="188.2" stroke="#8a8a8a" stroke-width="1.0"/>
<path d="M562.20 187.30v1.8M568.00 187.30v1.8M573.80 187.30v1.8M579.60 187.30v1.8M585.40 187.30v1.8M591.20 187.30v1.8M597.00 187.30v1.8M602.80 187.30v1.8M608.60 187.30v1.8M614.40 187.30v1.8M620.20 187.30v1.8M626.00 187.30v1.8M631.80 187.30v1.8M637.60 187.30v1.8M643.40 187.30v1.8M649.20 187.30v1.8M655.00 187.30v1.8M660.80 187.30v1.8M666.60 187.30v1.8M672.40 187.30v1.8M678.20 187.30v1.8M684.00 187.30v1.8M689.80 187.30v1.8M695.60 187.30v1.8M701.40 187.30v1.8M707.20 187.30v1.8M713.00 187.30v1.8M718.80 187.30v1.8M724.60 187.30v1.8M730.40 187.30v1.8M736.20 187.30v1.8M742.00 187.30v1.8M747.80 187.30v1.8M753.60 187.30v1.8M759.40 187.30v1.8M765.20 187.30v1.8" stroke="#4a4a4a" stroke-width="0.6" fill="none"/>
<path d="M573.80 188.20v2.2M602.78 188.20v2.2M631.76 188.20v2.2M660.74 188.20v2.2M689.72 188.20v2.2M718.70 188.20v2.2M747.68 188.20v2.2" stroke="#4a4a4a" stroke-width="0.7" fill="none"/>
<text x="567.61" y="195.50" class="tk" textLength="12.24" lengthAdjust="spacingAndGlyphs">10 000</text>
<text x="596.59" y="195.50" class="tk" textLength="12.24" lengthAdjust="spacingAndGlyphs">15 000</text>
<text x="625.62" y="195.50" class="tk" textLength="12.24" lengthAdjust="spacingAndGlyphs">20 000</text>
<text x="654.60" y="195.50" class="tk" textLength="12.24" lengthAdjust="spacingAndGlyphs">25 000</text>
<text x="683.60" y="195.50" class="tk" textLength="12.24" lengthAdjust="spacingAndGlyphs">30 000</text>
<text x="712.58" y="195.50" class="tk" textLength="12.24" lengthAdjust="spacingAndGlyphs">35 000</text>
<text x="741.59" y="195.50" class="tk" textLength="12.24" lengthAdjust="spacingAndGlyphs">40 000</text>
<line x1="558.2" y1="141.75" x2="772.3" y2="141.75" stroke="#eaa4a0" stroke-width="1.4"/>
<line x1="666.3" y1="77" x2="666.3" y2="186" stroke="#8c94c8" stroke-width="1.2"/>
<path d="M589.50 175.40 590.31 176.06 591.09 176.27 591.86 176.40 592.63 176.49 593.40 176.54 594.17 176.58 594.94 176.59 595.70 176.59 596.47 176.58 597.23 176.56 598.00 176.53 598.76 176.49 599.52 176.45 600.29 176.40 601.05 176.35 601.81 176.29 602.57 176.23 603.33 176.17 604.10 176.11 604.86 176.05 605.62 175.98 606.38 175.92 607.14 175.86 607.90 175.79 608.67 175.72 609.43 175.65 610.19 175.58 610.95 175.50 611.71 175.41 612.47 175.32 613.23 175.23 613.99 175.13 614.75 175.01 615.50 174.89 616.26 174.76 617.02 174.61 617.77 174.44 618.52 174.24 619.27 173.98 620.00 173.40 620.00 173.40 619.20 172.92 618.43 172.76 617.65 172.66 616.88 172.59 616.11 172.54 615.35 172.51 614.58 172.49 613.81 172.47 613.05 172.47 612.28 172.48 611.52 172.49 610.75 172.50 609.99 172.52 609.22 172.55 608.46 172.58 607.70 172.61 606.93 172.64 606.17 172.68 605.41 172.72 604.64 172.75 603.88 172.79 603.12 172.83 602.35 172.87 601.59 172.91 600.83 172.95 600.06 173.00 599.30 173.05 598.54 173.11 597.78 173.17 597.02 173.24 596.26 173.32 595.50 173.41 594.74 173.51 593.98 173.62 593.22 173.76 592.47 173.91 591.71 174.10 590.96 174.33 590.22 174.64 589.50 175.40Z" fill="#3b4357"/>
<path d="M607.9 175.4h1.0v1.0h-1.0zM600.5 172.8h1.0v1.0h-1.0zM611.8 172.1h1.0v1.0h-1.0zM609.3 176.4h1.0v1.0h-1.0zM604.0 175.8h1.0v1.0h-1.0zM621.5 172.2h1.0v1.0h-1.0zM587.4 174.4h1.0v1.0h-1.0zM612.7 171.6h1.0v1.0h-1.0zM600.3 175.4h1.0v1.0h-1.0zM598.6 177.2h1.0v1.0h-1.0zM607.3 175.4h1.0v1.0h-1.0zM599.8 176.9h1.0v1.0h-1.0zM607.0 175.7h1.0v1.0h-1.0zM612.3 175.6h1.0v1.0h-1.0zM604.4 172.1h1.0v1.0h-1.0zM620.3 172.4h1.0v1.0h-1.0zM607.7 175.9h1.0v1.0h-1.0zM619.8 173.5h1.0v1.0h-1.0zM618.6 173.6h1.0v1.0h-1.0zM591.3 172.5h1.0v1.0h-1.0zM587.7 174.4h1.0v1.0h-1.0zM595.7 172.4h1.0v1.0h-1.0zM620.8 172.1h1.0v1.0h-1.0zM617.2 173.9h1.0v1.0h-1.0zM613.6 174.5h1.0v1.0h-1.0zM603.4 175.6h1.0v1.0h-1.0zM590.6 176.2h1.0v1.0h-1.0zM586.7 174.5h1.0v1.0h-1.0zM605.8 171.9h1.0v1.0h-1.0zM607.3 176.0h1.0v1.0h-1.0zM594.9 172.5h1.0v1.0h-1.0zM601.7 170.9h1.0v1.0h-1.0zM609.1 172.1h1.0v1.0h-1.0zM611.9 174.6h1.0v1.0h-1.0zM605.5 175.2h1.0v1.0h-1.0zM599.0 172.8h1.0v1.0h-1.0zM595.6 175.8h1.0v1.0h-1.0zM619.7 172.2h1.0v1.0h-1.0zM595.4 175.9h1.0v1.0h-1.0zM595.7 176.1h1.0v1.0h-1.0zM619.2 172.2h1.0v1.0h-1.0zM619.7 173.3h1.0v1.0h-1.0zM608.5 172.4h1.0v1.0h-1.0zM588.1 174.4h1.0v1.0h-1.0zM611.7 175.3h1.0v1.0h-1.0zM598.7 175.8h1.0v1.0h-1.0zM611.6 175.1h1.0v1.0h-1.0zM586.9 175.6h1.0v1.0h-1.0zM618.5 172.5h1.0v1.0h-1.0zM613.8 174.9h1.0v1.0h-1.0zM592.8 175.9h1.0v1.0h-1.0zM611.8 174.8h1.0v1.0h-1.0zM596.2 177.5h1.0v1.0h-1.0zM608.4 172.0h1.0v1.0h-1.0zM616.6 172.3h1.0v1.0h-1.0zM599.3 178.1h1.0v1.0h-1.0zM609.8 174.7h1.0v1.0h-1.0zM596.7 176.4h1.0v1.0h-1.0zM612.7 172.3h1.0v1.0h-1.0zM613.3 172.3h1.0v1.0h-1.0z" fill="#3b4357" fill-opacity="1.0"/>
<path d="M586.8 174.7h0.9v0.9h-0.9zM586.8 178.1h0.9v0.9h-0.9zM621.5 173.1h0.9v0.9h-0.9zM623.5 172.6h0.9v0.9h-0.9zM625.5 173.0h0.9v0.9h-0.9z" fill="#505868" fill-opacity="1.0"/>
<path d="M730.5 111.2h1.1v1.1h-1.1zM710.3 118.9h1.1v1.1h-1.1zM697.6 120.9h1.1v1.1h-1.1zM714.7 113.0h1.1v1.1h-1.1zM717.8 115.1h1.1v1.1h-1.1zM709.4 116.1h1.1v1.1h-1.1zM723.3 111.0h1.1v1.1h-1.1zM705.1 117.3h1.1v1.1h-1.1zM703.4 117.3h1.1v1.1h-1.1zM734.6 109.8h1.1v1.1h-1.1zM733.3 111.1h1.1v1.1h-1.1zM716.2 114.6h1.1v1.1h-1.1zM698.4 119.2h1.1v1.1h-1.1zM715.9 115.7h1.1v1.1h-1.1zM735.6 110.0h1.1v1.1h-1.1zM705.4 115.5h1.1v1.1h-1.1zM734.7 111.2h1.1v1.1h-1.1zM731.4 111.8h1.1v1.1h-1.1zM697.3 121.2h1.1v1.1h-1.1zM710.6 115.4h1.1v1.1h-1.1zM711.9 113.9h1.1v1.1h-1.1zM731.5 110.2h1.1v1.1h-1.1zM732.9 110.6h1.1v1.1h-1.1zM727.9 112.1h1.1v1.1h-1.1zM722.0 113.0h1.1v1.1h-1.1zM697.2 119.6h1.1v1.1h-1.1zM732.9 110.1h1.1v1.1h-1.1zM736.4 110.2h1.1v1.1h-1.1zM702.3 118.1h1.1v1.1h-1.1zM718.2 113.9h1.1v1.1h-1.1zM726.5 113.9h1.1v1.1h-1.1zM736.3 110.6h1.1v1.1h-1.1zM730.1 112.2h1.1v1.1h-1.1zM724.1 108.8h1.1v1.1h-1.1zM718.2 116.2h1.1v1.1h-1.1zM720.5 110.6h1.1v1.1h-1.1zM723.2 113.9h1.1v1.1h-1.1zM708.6 118.9h1.1v1.1h-1.1zM731.4 111.2h1.1v1.1h-1.1zM737.1 109.1h1.1v1.1h-1.1zM696.7 120.8h1.1v1.1h-1.1zM697.4 120.2h1.1v1.1h-1.1zM735.2 109.7h1.1v1.1h-1.1zM731.3 111.9h1.1v1.1h-1.1zM716.7 113.2h1.1v1.1h-1.1zM713.5 113.9h1.1v1.1h-1.1zM735.6 109.8h1.1v1.1h-1.1zM715.4 117.9h1.1v1.1h-1.1zM700.4 120.3h1.1v1.1h-1.1zM729.0 113.0h1.1v1.1h-1.1zM714.0 120.6h1.1v1.1h-1.1zM700.3 120.6h1.1v1.1h-1.1zM732.7 111.9h1.1v1.1h-1.1zM700.5 119.8h1.1v1.1h-1.1zM704.4 114.6h1.1v1.1h-1.1zM713.3 117.5h1.1v1.1h-1.1zM711.6 113.9h1.1v1.1h-1.1zM706.6 119.1h1.1v1.1h-1.1zM735.4 110.1h1.1v1.1h-1.1zM718.1 115.6h1.1v1.1h-1.1zM709.2 116.7h1.1v1.1h-1.1zM723.3 112.6h1.1v1.1h-1.1zM710.2 118.3h1.1v1.1h-1.1zM712.6 115.0h1.1v1.1h-1.1zM707.3 115.4h1.1v1.1h-1.1zM723.0 112.9h1.1v1.1h-1.1zM711.7 115.6h1.1v1.1h-1.1zM713.4 113.9h1.1v1.1h-1.1zM718.0 113.9h1.1v1.1h-1.1zM711.8 112.8h1.1v1.1h-1.1zM697.8 120.2h1.1v1.1h-1.1zM702.1 119.4h1.1v1.1h-1.1zM701.7 117.7h1.1v1.1h-1.1zM733.3 110.0h1.1v1.1h-1.1zM704.1 118.1h1.1v1.1h-1.1zM700.5 120.2h1.1v1.1h-1.1zM723.3 111.9h1.1v1.1h-1.1zM729.1 111.1h1.1v1.1h-1.1zM722.8 110.9h1.1v1.1h-1.1zM722.8 114.4h1.1v1.1h-1.1zM713.6 117.5h1.1v1.1h-1.1zM735.2 110.4h1.1v1.1h-1.1zM710.0 115.9h1.1v1.1h-1.1zM727.5 111.5h1.1v1.1h-1.1zM731.4 110.3h1.1v1.1h-1.1zM716.6 116.4h1.1v1.1h-1.1zM705.0 118.2h1.1v1.1h-1.1zM724.1 113.9h1.1v1.1h-1.1zM717.4 120.1h1.1v1.1h-1.1zM731.8 110.2h1.1v1.1h-1.1zM735.1 110.2h1.1v1.1h-1.1zM699.5 119.0h1.1v1.1h-1.1zM736.5 110.3h1.1v1.1h-1.1zM720.4 111.9h1.1v1.1h-1.1zM712.7 114.7h1.1v1.1h-1.1zM717.9 115.1h1.1v1.1h-1.1zM706.7 120.8h1.1v1.1h-1.1zM719.7 117.0h1.1v1.1h-1.1zM732.0 110.5h1.1v1.1h-1.1zM706.7 120.4h1.1v1.1h-1.1zM730.2 111.8h1.1v1.1h-1.1zM718.8 117.3h1.1v1.1h-1.1zM708.7 119.3h1.1v1.1h-1.1zM717.0 116.0h1.1v1.1h-1.1zM729.6 111.8h1.1v1.1h-1.1zM707.6 118.7h1.1v1.1h-1.1zM728.9 111.9h1.1v1.1h-1.1zM695.7 121.7h1.1v1.1h-1.1zM697.5 119.5h1.1v1.1h-1.1zM698.5 117.9h1.1v1.1h-1.1zM715.0 117.4h1.1v1.1h-1.1zM718.0 113.7h1.1v1.1h-1.1zM712.1 115.3h1.1v1.1h-1.1zM732.4 110.8h1.1v1.1h-1.1zM718.9 113.3h1.1v1.1h-1.1zM702.4 119.9h1.1v1.1h-1.1zM734.6 110.5h1.1v1.1h-1.1zM719.8 112.4h1.1v1.1h-1.1zM718.0 114.7h1.1v1.1h-1.1zM726.0 112.8h1.1v1.1h-1.1zM700.9 118.6h1.1v1.1h-1.1zM694.9 120.4h1.1v1.1h-1.1zM700.7 117.4h1.1v1.1h-1.1zM736.9 109.0h1.1v1.1h-1.1zM722.6 113.0h1.1v1.1h-1.1zM735.6 109.9h1.1v1.1h-1.1zM715.3 115.6h1.1v1.1h-1.1zM730.2 111.1h1.1v1.1h-1.1zM714.8 115.8h1.1v1.1h-1.1zM697.5 120.8h1.1v1.1h-1.1zM719.4 114.8h1.1v1.1h-1.1zM702.3 121.7h1.1v1.1h-1.1zM723.4 110.9h1.1v1.1h-1.1zM735.2 109.5h1.1v1.1h-1.1zM706.6 116.5h1.1v1.1h-1.1zM732.7 110.0h1.1v1.1h-1.1zM729.9 111.6h1.1v1.1h-1.1zM704.6 114.8h1.1v1.1h-1.1zM733.8 111.9h1.1v1.1h-1.1zM708.4 115.9h1.1v1.1h-1.1zM729.4 110.4h1.1v1.1h-1.1zM728.2 109.4h1.1v1.1h-1.1zM712.9 112.6h1.1v1.1h-1.1zM722.9 115.3h1.1v1.1h-1.1zM717.5 115.0h1.1v1.1h-1.1zM694.5 120.4h1.1v1.1h-1.1zM715.0 118.8h1.1v1.1h-1.1zM698.1 120.8h1.1v1.1h-1.1zM732.3 110.9h1.1v1.1h-1.1zM726.9 113.1h1.1v1.1h-1.1zM722.9 111.1h1.1v1.1h-1.1zM718.4 115.9h1.1v1.1h-1.1zM735.0 109.4h1.1v1.1h-1.1zM714.0 115.4h1.1v1.1h-1.1zM711.8 115.7h1.1v1.1h-1.1zM723.9 112.2h1.1v1.1h-1.1zM734.4 110.3h1.1v1.1h-1.1zM708.6 114.0h1.1v1.1h-1.1zM698.5 120.8h1.1v1.1h-1.1zM732.4 111.4h1.1v1.1h-1.1zM731.8 111.6h1.1v1.1h-1.1zM729.6 113.7h1.1v1.1h-1.1zM715.0 116.2h1.1v1.1h-1.1zM708.3 115.8h1.1v1.1h-1.1zM716.2 114.6h1.1v1.1h-1.1zM706.5 114.9h1.1v1.1h-1.1zM731.5 110.2h1.1v1.1h-1.1zM704.0 119.6h1.1v1.1h-1.1zM714.8 114.8h1.1v1.1h-1.1zM722.3 111.6h1.1v1.1h-1.1zM716.8 120.5h1.1v1.1h-1.1zM706.6 117.9h1.1v1.1h-1.1zM718.0 115.9h1.1v1.1h-1.1zM696.7 119.8h1.1v1.1h-1.1zM703.5 120.7h1.1v1.1h-1.1zM717.3 118.2h1.1v1.1h-1.1zM695.7 120.1h1.1v1.1h-1.1zM702.1 121.0h1.1v1.1h-1.1zM707.8 119.3h1.1v1.1h-1.1zM703.8 116.8h1.1v1.1h-1.1zM720.4 115.8h1.1v1.1h-1.1zM722.5 114.9h1.1v1.1h-1.1zM697.6 118.9h1.1v1.1h-1.1zM726.2 111.9h1.1v1.1h-1.1zM721.3 116.0h1.1v1.1h-1.1zM701.5 117.2h1.1v1.1h-1.1zM701.8 117.6h1.1v1.1h-1.1zM696.2 118.4h1.1v1.1h-1.1zM712.0 115.5h1.1v1.1h-1.1zM732.2 111.9h1.1v1.1h-1.1zM718.3 114.3h1.1v1.1h-1.1zM705.1 113.8h1.1v1.1h-1.1zM720.5 112.2h1.1v1.1h-1.1zM717.4 116.4h1.1v1.1h-1.1zM723.4 114.9h1.1v1.1h-1.1zM701.7 121.9h1.1v1.1h-1.1zM708.5 121.0h1.1v1.1h-1.1zM708.5 111.4h1.1v1.1h-1.1zM735.7 111.3h1.1v1.1h-1.1zM703.0 119.6h1.1v1.1h-1.1zM695.5 120.4h1.1v1.1h-1.1zM726.4 111.3h1.1v1.1h-1.1zM694.4 121.3h1.1v1.1h-1.1zM697.8 120.4h1.1v1.1h-1.1zM713.9 113.5h1.1v1.1h-1.1zM716.1 118.0h1.1v1.1h-1.1zM736.0 110.0h1.1v1.1h-1.1zM733.8 110.1h1.1v1.1h-1.1zM732.7 109.8h1.1v1.1h-1.1zM701.1 117.9h1.1v1.1h-1.1zM708.0 117.4h1.1v1.1h-1.1zM721.0 115.1h1.1v1.1h-1.1zM708.1 117.4h1.1v1.1h-1.1zM729.5 109.8h1.1v1.1h-1.1zM697.9 120.4h1.1v1.1h-1.1zM721.0 111.8h1.1v1.1h-1.1zM704.1 117.3h1.1v1.1h-1.1zM724.9 111.0h1.1v1.1h-1.1zM719.6 115.2h1.1v1.1h-1.1zM726.9 113.3h1.1v1.1h-1.1z" fill="#a444a4" fill-opacity="0.85"/>
<path d="M698.0 118.8h1.1v1.1h-1.1zM715.7 114.2h1.1v1.1h-1.1zM705.8 116.0h1.1v1.1h-1.1zM716.8 115.2h1.1v1.1h-1.1zM699.5 118.5h1.1v1.1h-1.1zM712.7 115.9h1.1v1.1h-1.1zM704.4 118.1h1.1v1.1h-1.1zM720.6 114.5h1.1v1.1h-1.1zM707.3 118.8h1.1v1.1h-1.1zM704.2 116.4h1.1v1.1h-1.1zM712.5 119.0h1.1v1.1h-1.1zM713.8 115.8h1.1v1.1h-1.1zM700.4 117.8h1.1v1.1h-1.1zM714.8 115.3h1.1v1.1h-1.1zM705.4 119.2h1.1v1.1h-1.1zM699.5 118.5h1.1v1.1h-1.1zM718.7 115.1h1.1v1.1h-1.1zM715.7 114.6h1.1v1.1h-1.1zM719.7 114.6h1.1v1.1h-1.1zM719.0 114.3h1.1v1.1h-1.1zM704.2 118.5h1.1v1.1h-1.1zM709.2 114.8h1.1v1.1h-1.1zM720.8 114.6h1.1v1.1h-1.1zM721.9 112.7h1.1v1.1h-1.1zM712.3 115.9h1.1v1.1h-1.1zM707.5 115.1h1.1v1.1h-1.1zM710.2 115.6h1.1v1.1h-1.1zM704.3 117.8h1.1v1.1h-1.1zM719.4 115.1h1.1v1.1h-1.1zM714.9 114.0h1.1v1.1h-1.1zM710.3 114.7h1.1v1.1h-1.1zM697.8 119.0h1.1v1.1h-1.1zM709.2 117.6h1.1v1.1h-1.1zM709.6 116.5h1.1v1.1h-1.1zM699.7 118.9h1.1v1.1h-1.1zM698.7 120.1h1.1v1.1h-1.1zM718.2 115.3h1.1v1.1h-1.1zM703.7 115.5h1.1v1.1h-1.1zM721.4 113.7h1.1v1.1h-1.1zM722.0 114.1h1.1v1.1h-1.1zM711.5 115.9h1.1v1.1h-1.1zM697.8 119.1h1.1v1.1h-1.1zM704.9 119.6h1.1v1.1h-1.1zM704.4 119.3h1.1v1.1h-1.1zM722.1 113.7h1.1v1.1h-1.1zM715.7 114.6h1.1v1.1h-1.1zM705.7 117.0h1.1v1.1h-1.1zM718.9 114.5h1.1v1.1h-1.1zM717.5 113.5h1.1v1.1h-1.1zM706.1 116.4h1.1v1.1h-1.1zM700.8 118.0h1.1v1.1h-1.1zM712.5 117.9h1.1v1.1h-1.1zM701.1 118.6h1.1v1.1h-1.1zM698.2 119.8h1.1v1.1h-1.1zM698.8 118.8h1.1v1.1h-1.1zM720.4 114.3h1.1v1.1h-1.1zM701.0 118.6h1.1v1.1h-1.1zM705.2 115.2h1.1v1.1h-1.1zM711.9 117.9h1.1v1.1h-1.1zM707.5 117.0h1.1v1.1h-1.1zM722.6 113.6h1.1v1.1h-1.1zM706.3 120.7h1.1v1.1h-1.1zM708.3 116.2h1.1v1.1h-1.1zM720.4 115.0h1.1v1.1h-1.1zM715.6 116.7h1.1v1.1h-1.1zM716.8 118.1h1.1v1.1h-1.1zM710.7 116.8h1.1v1.1h-1.1zM712.8 115.4h1.1v1.1h-1.1zM717.8 115.0h1.1v1.1h-1.1zM699.1 118.2h1.1v1.1h-1.1zM709.9 116.4h1.1v1.1h-1.1zM708.2 118.8h1.1v1.1h-1.1zM709.0 115.1h1.1v1.1h-1.1zM720.4 114.0h1.1v1.1h-1.1zM704.9 117.6h1.1v1.1h-1.1zM700.7 119.2h1.1v1.1h-1.1zM719.4 114.8h1.1v1.1h-1.1zM706.8 116.9h1.1v1.1h-1.1zM720.9 114.9h1.1v1.1h-1.1zM722.8 112.8h1.1v1.1h-1.1zM705.6 118.5h1.1v1.1h-1.1zM710.6 116.8h1.1v1.1h-1.1zM698.1 119.2h1.1v1.1h-1.1zM715.4 116.7h1.1v1.1h-1.1zM701.8 119.1h1.1v1.1h-1.1zM700.1 119.2h1.1v1.1h-1.1zM701.1 119.8h1.1v1.1h-1.1zM720.3 114.9h1.1v1.1h-1.1zM698.9 119.4h1.1v1.1h-1.1zM713.8 113.5h1.1v1.1h-1.1zM705.4 117.8h1.1v1.1h-1.1zM698.8 118.9h1.1v1.1h-1.1zM722.1 114.0h1.1v1.1h-1.1zM717.4 117.2h1.1v1.1h-1.1zM699.0 119.7h1.1v1.1h-1.1zM701.6 119.3h1.1v1.1h-1.1zM714.6 115.1h1.1v1.1h-1.1zM709.7 115.8h1.1v1.1h-1.1zM703.4 119.3h1.1v1.1h-1.1zM715.1 114.2h1.1v1.1h-1.1zM714.1 118.0h1.1v1.1h-1.1zM717.7 115.6h1.1v1.1h-1.1zM710.6 115.1h1.1v1.1h-1.1zM716.8 114.3h1.1v1.1h-1.1zM711.2 116.0h1.1v1.1h-1.1zM703.5 119.5h1.1v1.1h-1.1zM697.6 118.3h1.1v1.1h-1.1zM716.0 114.9h1.1v1.1h-1.1zM702.7 116.6h1.1v1.1h-1.1zM712.5 115.9h1.1v1.1h-1.1z" fill="#9a3c9a" fill-opacity="1.0"/>
<path d="M723.9 104.4h1.0v1.0h-1.0zM681.1 129.0h1.0v1.0h-1.0zM685.5 127.5h1.0v1.0h-1.0zM675.5 130.5h1.0v1.0h-1.0z" fill="#a444a4" fill-opacity="0.8"/>
<path d="M700.00 174.60 700.50 174.80 701.01 174.87 701.51 174.91 702.01 174.94 702.51 174.97 703.01 174.99 703.51 175.00 704.01 175.01 704.51 175.01 705.01 175.01 705.51 175.01 706.01 175.01 706.51 175.01 707.01 175.00 707.51 175.00 708.01 174.99 708.51 174.98 709.01 174.97 709.51 174.96 710.01 174.95 710.51 174.94 711.01 174.93 711.51 174.92 712.01 174.91 712.51 174.90 713.01 174.88 713.51 174.87 714.01 174.85 714.51 174.83 715.01 174.81 715.51 174.79 716.01 174.77 716.51 174.74 717.01 174.71 717.51 174.67 718.01 174.62 718.51 174.57 719.01 174.51 719.50 174.42 720.00 174.20 720.00 174.20 719.50 174.00 718.99 173.93 718.49 173.89 717.99 173.86 717.49 173.83 716.99 173.81 716.49 173.80 715.99 173.79 715.49 173.79 714.99 173.79 714.49 173.79 713.99 173.79 713.49 173.79 712.99 173.80 712.49 173.80 711.99 173.81 711.49 173.82 710.99 173.83 710.49 173.84 709.99 173.85 709.49 173.86 708.99 173.87 708.49 173.88 707.99 173.89 707.49 173.90 706.99 173.92 706.49 173.93 705.99 173.95 705.49 173.97 704.99 173.99 704.49 174.01 703.99 174.03 703.49 174.06 702.99 174.09 702.49 174.13 701.99 174.18 701.49 174.23 700.99 174.29 700.50 174.38 700.00 174.60Z" fill="#2a3a90"/>
<path d="M708.6 173.5h1.0v1.0h-1.0zM700.7 173.8h1.0v1.0h-1.0zM704.7 174.5h1.0v1.0h-1.0zM720.1 173.5h1.0v1.0h-1.0zM716.6 174.1h1.0v1.0h-1.0zM707.5 174.4h1.0v1.0h-1.0zM706.0 173.5h1.0v1.0h-1.0zM704.7 173.4h1.0v1.0h-1.0zM699.7 174.3h1.0v1.0h-1.0zM702.5 173.7h1.0v1.0h-1.0zM708.5 173.3h1.0v1.0h-1.0zM711.1 173.3h1.0v1.0h-1.0zM715.4 173.4h1.0v1.0h-1.0zM713.4 173.4h1.0v1.0h-1.0zM703.8 173.5h1.0v1.0h-1.0zM719.0 173.9h1.0v1.0h-1.0zM716.4 174.2h1.0v1.0h-1.0zM719.7 173.8h1.0v1.0h-1.0zM710.8 173.2h1.0v1.0h-1.0zM706.2 174.4h1.0v1.0h-1.0zM707.2 173.4h1.0v1.0h-1.0zM700.0 174.4h1.0v1.0h-1.0zM715.9 173.4h1.0v1.0h-1.0zM713.5 173.1h1.0v1.0h-1.0zM698.9 174.3h1.0v1.0h-1.0z" fill="#2a3a90" fill-opacity="1.0"/>
<path d="M716.9 174.4h0.9v0.9h-0.9zM715.3 173.8h0.9v0.9h-0.9zM708.2 173.7h0.9v0.9h-0.9zM712.8 173.9h0.9v0.9h-0.9zM721.8 174.0h0.9v0.9h-0.9zM726.9 173.4h0.9v0.9h-0.9zM714.3 174.4h0.9v0.9h-0.9zM697.0 175.3h0.9v0.9h-0.9zM708.2 174.4h0.9v0.9h-0.9zM696.0 173.8h0.9v0.9h-0.9zM701.3 173.2h0.9v0.9h-0.9zM694.5 173.4h0.9v0.9h-0.9zM711.7 174.0h0.9v0.9h-0.9zM706.4 173.9h0.9v0.9h-0.9zM729.5 174.8h0.9v0.9h-0.9zM723.6 173.4h0.9v0.9h-0.9zM712.3 173.8h0.9v0.9h-0.9zM702.8 174.1h0.9v0.9h-0.9zM711.6 173.7h0.9v0.9h-0.9zM708.6 174.0h0.9v0.9h-0.9zM721.0 173.9h0.9v0.9h-0.9zM726.1 174.0h0.9v0.9h-0.9zM711.7 174.0h0.9v0.9h-0.9zM703.9 173.6h0.9v0.9h-0.9zM728.1 174.0h0.9v0.9h-0.9zM705.5 173.8h0.9v0.9h-0.9zM719.5 173.1h0.9v0.9h-0.9zM723.8 174.1h0.9v0.9h-0.9zM702.3 174.3h0.9v0.9h-0.9zM720.5 173.9h0.9v0.9h-0.9z" fill="#4a5ab0" fill-opacity="0.7"/>
<line x1="57.9" y1="226.7" x2="57.9" y2="333.6" stroke="#8a8a8a" stroke-width="1.0"/>
<path d="M57.00 226.50h1.8M57.00 231.58h1.8M57.00 236.66h1.8M57.00 241.74h1.8M57.00 246.82h1.8M57.00 251.90h1.8M57.00 256.98h1.8M57.00 262.06h1.8M57.00 267.14h1.8M57.00 272.22h1.8M57.00 277.30h1.8M57.00 282.38h1.8M57.00 287.46h1.8M57.00 292.54h1.8M57.00 297.62h1.8M57.00 302.70h1.8M57.00 307.78h1.8M57.00 312.86h1.8M57.00 317.94h1.8M57.00 323.02h1.8M57.00 328.10h1.8M57.00 333.18h1.8" stroke="#4a4a4a" stroke-width="0.6" fill="none"/>
<path d="M55.70 231.60h2.2M55.70 257.00h2.2M55.70 282.40h2.2M55.70 307.80h2.2M55.70 333.20h2.2" stroke="#4a4a4a" stroke-width="0.7" fill="none"/>
<text x="41.41" y="233.25" class="tk" textLength="12.24" lengthAdjust="spacingAndGlyphs">40 000</text>
<text x="41.41" y="258.65" class="tk" textLength="12.24" lengthAdjust="spacingAndGlyphs">30 000</text>
<text x="41.41" y="284.05" class="tk" textLength="12.24" lengthAdjust="spacingAndGlyphs">20 000</text>
<text x="41.41" y="309.45" class="tk" textLength="12.24" lengthAdjust="spacingAndGlyphs">10 000</text>
<text x="51.43" y="334.85" class="tk" textLength="2.23" lengthAdjust="spacingAndGlyphs">0</text>
<line x1="61.1" y1="336.1" x2="267.8" y2="336.1" stroke="#8a8a8a" stroke-width="1.0"/>
<path d="M67.30 335.20v1.8M73.81 335.20v1.8M80.33 335.20v1.8M86.84 335.20v1.8M93.36 335.20v1.8M99.87 335.20v1.8M106.38 335.20v1.8M112.90 335.20v1.8M119.41 335.20v1.8M125.93 335.20v1.8M132.44 335.20v1.8M138.95 335.20v1.8M145.47 335.20v1.8M151.98 335.20v1.8M158.50 335.20v1.8M165.01 335.20v1.8M171.52 335.20v1.8M178.04 335.20v1.8M184.55 335.20v1.8M191.07 335.20v1.8M197.58 335.20v1.8M204.09 335.20v1.8M210.61 335.20v1.8M217.12 335.20v1.8M223.64 335.20v1.8M230.15 335.20v1.8M236.66 335.20v1.8M243.18 335.20v1.8M249.69 335.20v1.8M256.21 335.20v1.8M262.72 335.20v1.8" stroke="#4a4a4a" stroke-width="0.6" fill="none"/>
<path d="M93.40 336.10v2.2M125.97 336.10v2.2M158.54 336.10v2.2M191.11 336.10v2.2M223.68 336.10v2.2M256.25 336.10v2.2" stroke="#4a4a4a" stroke-width="0.7" fill="none"/>
<text x="88.32" y="343.40" class="tk" textLength="10.02" lengthAdjust="spacingAndGlyphs">1 500</text>
<text x="120.94" y="343.40" class="tk" textLength="10.02" lengthAdjust="spacingAndGlyphs">2 000</text>
<text x="153.51" y="343.40" class="tk" textLength="10.02" lengthAdjust="spacingAndGlyphs">2 500</text>
<text x="186.10" y="343.40" class="tk" textLength="10.02" lengthAdjust="spacingAndGlyphs">3 000</text>
<text x="218.67" y="343.40" class="tk" textLength="10.02" lengthAdjust="spacingAndGlyphs">3 500</text>
<text x="251.27" y="343.40" class="tk" textLength="10.02" lengthAdjust="spacingAndGlyphs">4 000</text>
<line x1="58.4" y1="281.0" x2="269" y2="281.0" stroke="#a4ce8c" stroke-width="1.1"/>
<line x1="150.9" y1="225" x2="150.9" y2="334" stroke="#e8868e" stroke-width="1.25"/>
<path d="M70.50 311.00 71.21 311.99 71.80 312.32 72.36 312.52 72.92 312.66 73.46 312.76 74.00 312.83 74.54 312.86 75.07 312.88 75.60 312.88 76.13 312.86 76.65 312.83 77.17 312.79 77.69 312.73 78.21 312.66 78.72 312.59 79.24 312.51 79.75 312.42 80.26 312.32 80.77 312.21 81.28 312.10 81.79 311.99 82.30 311.87 82.81 311.74 83.31 311.61 83.82 311.47 84.32 311.33 84.82 311.17 85.32 311.01 85.82 310.84 86.31 310.66 86.81 310.47 87.30 310.27 87.79 310.06 88.28 309.83 88.77 309.58 89.25 309.31 89.72 309.01 90.19 308.67 90.64 308.23 91.00 307.30 91.00 307.30 90.34 306.55 89.76 306.30 89.20 306.14 88.65 306.03 88.11 305.94 87.57 305.88 87.03 305.84 86.50 305.81 85.97 305.79 85.44 305.79 84.91 305.79 84.38 305.81 83.86 305.83 83.33 305.86 82.81 305.90 82.29 305.95 81.77 306.00 81.25 306.06 80.73 306.13 80.22 306.20 79.70 306.27 79.19 306.35 78.67 306.44 78.16 306.53 77.65 306.63 77.14 306.75 76.63 306.86 76.13 306.99 75.62 307.14 75.12 307.29 74.62 307.46 74.13 307.64 73.63 307.84 73.15 308.06 72.66 308.31 72.18 308.60 71.71 308.92 71.25 309.31 70.82 309.82 70.50 311.00Z" fill="#3b4357"/>
<path d="M75.8 313.4h1.0v1.0h-1.0zM80.5 314.0h1.0v1.0h-1.0zM82.9 310.7h1.0v1.0h-1.0zM75.4 307.1h1.0v1.0h-1.0zM84.7 310.1h1.0v1.0h-1.0zM90.5 308.1h1.0v1.0h-1.0zM84.5 310.2h1.0v1.0h-1.0zM74.8 305.7h1.0v1.0h-1.0zM86.4 305.3h1.0v1.0h-1.0zM86.3 312.3h1.0v1.0h-1.0zM71.3 307.8h1.0v1.0h-1.0zM77.3 306.1h1.0v1.0h-1.0zM68.8 312.7h1.0v1.0h-1.0zM88.0 305.5h1.0v1.0h-1.0zM84.0 304.7h1.0v1.0h-1.0zM90.3 307.7h1.0v1.0h-1.0zM76.4 311.8h1.0v1.0h-1.0zM85.6 303.8h1.0v1.0h-1.0zM77.0 305.7h1.0v1.0h-1.0zM80.7 305.7h1.0v1.0h-1.0zM84.4 310.8h1.0v1.0h-1.0zM81.1 313.1h1.0v1.0h-1.0zM82.8 312.8h1.0v1.0h-1.0zM82.8 311.1h1.0v1.0h-1.0zM83.6 310.4h1.0v1.0h-1.0zM69.5 309.5h1.0v1.0h-1.0zM81.5 305.1h1.0v1.0h-1.0zM91.9 307.6h1.0v1.0h-1.0zM69.8 309.1h1.0v1.0h-1.0zM91.5 307.4h1.0v1.0h-1.0zM91.5 305.9h1.0v1.0h-1.0zM83.4 311.0h1.0v1.0h-1.0zM71.4 308.5h1.0v1.0h-1.0zM72.6 311.9h1.0v1.0h-1.0zM77.3 306.0h1.0v1.0h-1.0zM90.0 305.8h1.0v1.0h-1.0zM79.5 306.1h1.0v1.0h-1.0zM79.2 305.9h1.0v1.0h-1.0zM75.8 306.2h1.0v1.0h-1.0zM89.9 308.0h1.0v1.0h-1.0zM76.3 306.9h1.0v1.0h-1.0zM82.5 311.4h1.0v1.0h-1.0zM91.5 305.5h1.0v1.0h-1.0zM89.8 305.7h1.0v1.0h-1.0zM83.3 306.0h1.0v1.0h-1.0zM80.4 306.3h1.0v1.0h-1.0zM89.3 305.8h1.0v1.0h-1.0zM75.9 306.1h1.0v1.0h-1.0zM83.2 305.8h1.0v1.0h-1.0zM76.7 305.2h1.0v1.0h-1.0zM83.2 305.6h1.0v1.0h-1.0zM76.7 305.9h1.0v1.0h-1.0zM84.0 304.3h1.0v1.0h-1.0zM77.6 305.7h1.0v1.0h-1.0zM90.8 307.5h1.0v1.0h-1.0zM84.9 311.5h1.0v1.0h-1.0zM77.3 312.3h1.0v1.0h-1.0zM85.9 305.3h1.0v1.0h-1.0zM79.6 305.7h1.0v1.0h-1.0zM75.9 311.6h1.0v1.0h-1.0zM75.7 304.8h1.0v1.0h-1.0zM73.3 307.9h1.0v1.0h-1.0zM72.5 306.2h1.0v1.0h-1.0zM76.1 312.9h1.0v1.0h-1.0zM80.5 311.5h1.0v1.0h-1.0zM74.1 306.8h1.0v1.0h-1.0zM84.1 304.9h1.0v1.0h-1.0zM81.7 305.0h1.0v1.0h-1.0zM81.7 310.7h1.0v1.0h-1.0zM82.9 311.7h1.0v1.0h-1.0z" fill="#3b4357" fill-opacity="1.0"/>
<path d="M111.6 310.3h0.9v0.9h-0.9zM118.7 308.4h0.9v0.9h-0.9zM116.3 309.0h0.9v0.9h-0.9zM105.9 309.7h0.9v0.9h-0.9zM103.2 309.4h0.9v0.9h-0.9zM99.4 306.8h0.9v0.9h-0.9zM111.5 310.5h0.9v0.9h-0.9zM102.9 309.0h0.9v0.9h-0.9zM98.5 307.8h0.9v0.9h-0.9zM112.5 309.9h0.9v0.9h-0.9zM132.3 308.3h0.9v0.9h-0.9zM134.6 310.6h0.9v0.9h-0.9zM126.0 305.2h0.9v0.9h-0.9zM98.4 307.9h0.9v0.9h-0.9zM127.6 309.5h0.9v0.9h-0.9zM112.7 309.5h0.9v0.9h-0.9zM101.5 309.6h0.9v0.9h-0.9zM97.9 309.8h0.9v0.9h-0.9zM106.5 311.0h0.9v0.9h-0.9zM110.3 309.8h0.9v0.9h-0.9zM105.3 310.1h0.9v0.9h-0.9zM133.8 308.5h0.9v0.9h-0.9zM131.6 311.1h0.9v0.9h-0.9zM119.0 307.9h0.9v0.9h-0.9zM113.4 310.6h0.9v0.9h-0.9zM132.9 310.0h0.9v0.9h-0.9zM121.3 308.2h0.9v0.9h-0.9zM90.3 307.5h0.9v0.9h-0.9zM97.6 309.0h0.9v0.9h-0.9zM115.8 311.0h0.9v0.9h-0.9zM111.7 311.2h0.9v0.9h-0.9zM110.3 309.2h0.9v0.9h-0.9zM119.8 310.7h0.9v0.9h-0.9zM103.2 310.9h0.9v0.9h-0.9zM122.1 306.8h0.9v0.9h-0.9zM125.0 306.5h0.9v0.9h-0.9zM94.9 310.8h0.9v0.9h-0.9zM94.9 309.7h0.9v0.9h-0.9zM107.0 309.7h0.9v0.9h-0.9zM112.4 304.8h0.9v0.9h-0.9zM104.8 310.5h0.9v0.9h-0.9zM115.0 311.7h0.9v0.9h-0.9zM123.4 308.1h0.9v0.9h-0.9zM101.1 308.1h0.9v0.9h-0.9zM119.2 307.6h0.9v0.9h-0.9zM129.1 310.0h0.9v0.9h-0.9zM109.0 304.0h0.9v0.9h-0.9zM131.2 308.0h0.9v0.9h-0.9zM130.8 309.3h0.9v0.9h-0.9zM120.8 309.4h0.9v0.9h-0.9zM124.3 310.3h0.9v0.9h-0.9zM138.5 306.0h0.9v0.9h-0.9zM123.0 305.6h0.9v0.9h-0.9zM133.3 308.3h0.9v0.9h-0.9zM107.3 308.1h0.9v0.9h-0.9z" fill="#6a7080" fill-opacity="0.85"/>
<path d="M71.5 316.6h0.9v0.9h-0.9zM78.5 315.1h0.9v0.9h-0.9zM83.5 313.1h0.9v0.9h-0.9zM134.6 315.6h0.9v0.9h-0.9z" fill="#6a7080" fill-opacity="0.7"/>
<path d="M205.50 309.80 206.85 310.33 208.17 310.46 209.48 310.53 210.78 310.56 212.08 310.57 213.38 310.57 214.68 310.54 215.98 310.51 217.27 310.47 218.57 310.42 219.86 310.36 221.16 310.29 222.45 310.22 223.74 310.14 225.04 310.05 226.33 309.96 227.62 309.86 228.91 309.76 230.20 309.65 231.49 309.54 232.77 309.42 234.06 309.29 235.35 309.16 236.64 309.02 237.92 308.87 239.21 308.72 240.49 308.56 241.78 308.39 243.06 308.22 244.34 308.03 245.62 307.84 246.90 307.63 248.18 307.41 249.46 307.17 250.73 306.92 252.00 306.64 253.27 306.33 254.54 305.98 255.79 305.53 257.00 304.60 257.00 304.60 255.63 303.93 254.31 303.74 253.00 303.65 251.70 303.60 250.39 303.58 249.09 303.59 247.80 303.61 246.50 303.65 245.20 303.70 243.91 303.77 242.62 303.84 241.32 303.93 240.03 304.02 238.74 304.12 237.45 304.23 236.16 304.34 234.88 304.46 233.59 304.59 232.30 304.72 231.01 304.86 229.73 305.01 228.44 305.16 227.16 305.32 225.87 305.48 224.59 305.65 223.31 305.82 222.02 306.00 220.74 306.19 219.46 306.38 218.18 306.58 216.90 306.79 215.62 307.01 214.35 307.24 213.07 307.47 211.79 307.73 210.52 308.00 209.25 308.29 207.98 308.62 206.72 309.01 205.50 309.80Z" fill="#d41a1a"/>
<path d="M207.4 310.4h1.0v1.0h-1.0zM212.5 307.0h1.0v1.0h-1.0zM245.6 302.6h1.0v1.0h-1.0zM260.4 304.6h1.0v1.0h-1.0zM225.5 304.9h1.0v1.0h-1.0zM234.3 303.9h1.0v1.0h-1.0zM219.9 310.7h1.0v1.0h-1.0zM257.9 302.6h1.0v1.0h-1.0zM253.6 303.4h1.0v1.0h-1.0zM248.8 302.7h1.0v1.0h-1.0zM203.7 308.8h1.0v1.0h-1.0zM248.4 303.2h1.0v1.0h-1.0zM253.1 305.5h1.0v1.0h-1.0zM258.4 302.5h1.0v1.0h-1.0zM224.9 309.8h1.0v1.0h-1.0zM220.2 305.1h1.0v1.0h-1.0zM225.0 305.5h1.0v1.0h-1.0zM223.5 305.5h1.0v1.0h-1.0zM225.3 309.8h1.0v1.0h-1.0zM214.9 306.6h1.0v1.0h-1.0zM253.3 306.1h1.0v1.0h-1.0zM253.2 303.3h1.0v1.0h-1.0zM255.4 303.5h1.0v1.0h-1.0zM255.1 305.0h1.0v1.0h-1.0zM255.3 303.3h1.0v1.0h-1.0zM225.9 309.7h1.0v1.0h-1.0zM248.8 301.6h1.0v1.0h-1.0zM238.7 309.5h1.0v1.0h-1.0zM207.3 309.8h1.0v1.0h-1.0zM207.5 308.3h1.0v1.0h-1.0zM256.0 303.4h1.0v1.0h-1.0zM220.4 303.0h1.0v1.0h-1.0zM228.5 304.9h1.0v1.0h-1.0zM223.0 309.6h1.0v1.0h-1.0zM255.4 303.2h1.0v1.0h-1.0zM235.0 309.1h1.0v1.0h-1.0zM221.0 304.6h1.0v1.0h-1.0zM250.0 303.4h1.0v1.0h-1.0zM242.2 303.0h1.0v1.0h-1.0zM224.2 310.4h1.0v1.0h-1.0zM221.8 305.2h1.0v1.0h-1.0zM225.2 305.3h1.0v1.0h-1.0zM207.9 310.2h1.0v1.0h-1.0zM239.3 308.0h1.0v1.0h-1.0zM248.2 302.7h1.0v1.0h-1.0zM202.3 308.8h1.0v1.0h-1.0zM236.7 303.5h1.0v1.0h-1.0zM201.4 309.0h1.0v1.0h-1.0zM232.4 308.4h1.0v1.0h-1.0zM244.4 308.2h1.0v1.0h-1.0zM245.8 307.5h1.0v1.0h-1.0zM223.7 309.5h1.0v1.0h-1.0zM226.8 304.7h1.0v1.0h-1.0zM209.7 310.3h1.0v1.0h-1.0zM241.6 303.2h1.0v1.0h-1.0zM209.0 309.8h1.0v1.0h-1.0zM243.3 302.3h1.0v1.0h-1.0zM238.4 303.8h1.0v1.0h-1.0zM231.1 303.3h1.0v1.0h-1.0zM209.4 310.1h1.0v1.0h-1.0zM230.0 304.7h1.0v1.0h-1.0zM216.0 309.6h1.0v1.0h-1.0zM257.2 305.2h1.0v1.0h-1.0zM244.8 301.9h1.0v1.0h-1.0zM233.2 308.2h1.0v1.0h-1.0zM226.1 309.9h1.0v1.0h-1.0zM239.8 307.6h1.0v1.0h-1.0zM242.3 303.7h1.0v1.0h-1.0zM229.4 305.0h1.0v1.0h-1.0zM246.6 303.1h1.0v1.0h-1.0zM245.4 303.0h1.0v1.0h-1.0zM235.3 303.0h1.0v1.0h-1.0zM216.3 310.2h1.0v1.0h-1.0zM247.4 306.7h1.0v1.0h-1.0zM219.0 305.8h1.0v1.0h-1.0zM225.2 309.4h1.0v1.0h-1.0zM241.0 308.2h1.0v1.0h-1.0zM233.9 309.6h1.0v1.0h-1.0zM255.4 305.7h1.0v1.0h-1.0zM227.2 311.4h1.0v1.0h-1.0zM221.3 305.7h1.0v1.0h-1.0zM209.6 309.8h1.0v1.0h-1.0zM213.8 310.6h1.0v1.0h-1.0zM209.1 307.5h1.0v1.0h-1.0zM226.0 309.2h1.0v1.0h-1.0zM226.9 308.9h1.0v1.0h-1.0zM210.2 310.2h1.0v1.0h-1.0zM202.8 310.2h1.0v1.0h-1.0zM250.9 306.9h1.0v1.0h-1.0zM225.7 304.2h1.0v1.0h-1.0zM213.9 307.0h1.0v1.0h-1.0zM207.9 310.0h1.0v1.0h-1.0zM235.9 303.6h1.0v1.0h-1.0zM254.2 303.1h1.0v1.0h-1.0zM226.1 304.7h1.0v1.0h-1.0zM256.0 303.4h1.0v1.0h-1.0zM213.0 309.7h1.0v1.0h-1.0zM224.3 304.9h1.0v1.0h-1.0zM218.1 309.6h1.0v1.0h-1.0zM220.8 305.8h1.0v1.0h-1.0zM206.0 308.3h1.0v1.0h-1.0zM214.0 306.5h1.0v1.0h-1.0zM258.1 305.0h1.0v1.0h-1.0zM204.3 309.9h1.0v1.0h-1.0zM237.1 308.5h1.0v1.0h-1.0zM222.2 310.5h1.0v1.0h-1.0zM246.7 302.5h1.0v1.0h-1.0zM216.7 309.9h1.0v1.0h-1.0zM227.0 304.8h1.0v1.0h-1.0zM250.0 306.6h1.0v1.0h-1.0zM219.8 309.4h1.0v1.0h-1.0zM202.3 308.9h1.0v1.0h-1.0zM213.9 309.9h1.0v1.0h-1.0zM249.2 302.2h1.0v1.0h-1.0zM227.4 302.5h1.0v1.0h-1.0zM201.0 308.9h1.0v1.0h-1.0zM206.7 309.8h1.0v1.0h-1.0zM231.6 304.2h1.0v1.0h-1.0zM237.6 310.0h1.0v1.0h-1.0zM241.3 303.7h1.0v1.0h-1.0zM241.0 303.9h1.0v1.0h-1.0zM259.0 303.1h1.0v1.0h-1.0zM208.0 308.0h1.0v1.0h-1.0zM223.3 309.8h1.0v1.0h-1.0zM214.6 311.5h1.0v1.0h-1.0zM259.0 302.9h1.0v1.0h-1.0zM216.8 306.2h1.0v1.0h-1.0zM206.7 308.4h1.0v1.0h-1.0zM204.3 308.5h1.0v1.0h-1.0zM217.9 306.5h1.0v1.0h-1.0zM240.5 304.0h1.0v1.0h-1.0zM218.9 306.4h1.0v1.0h-1.0zM216.0 306.6h1.0v1.0h-1.0zM203.1 308.8h1.0v1.0h-1.0zM231.4 308.8h1.0v1.0h-1.0zM246.7 302.9h1.0v1.0h-1.0zM224.3 309.1h1.0v1.0h-1.0zM243.3 308.3h1.0v1.0h-1.0zM202.7 308.5h1.0v1.0h-1.0zM215.0 310.0h1.0v1.0h-1.0zM258.0 305.8h1.0v1.0h-1.0zM229.9 305.0h1.0v1.0h-1.0zM226.3 304.4h1.0v1.0h-1.0zM207.4 310.7h1.0v1.0h-1.0zM249.7 302.7h1.0v1.0h-1.0zM227.0 304.8h1.0v1.0h-1.0zM247.1 302.2h1.0v1.0h-1.0zM212.3 306.6h1.0v1.0h-1.0zM214.4 306.9h1.0v1.0h-1.0zM227.4 304.8h1.0v1.0h-1.0zM258.5 302.9h1.0v1.0h-1.0zM246.5 303.4h1.0v1.0h-1.0zM237.9 308.3h1.0v1.0h-1.0zM241.5 302.1h1.0v1.0h-1.0zM230.8 304.8h1.0v1.0h-1.0zM203.9 308.4h1.0v1.0h-1.0zM236.3 303.9h1.0v1.0h-1.0zM258.6 303.2h1.0v1.0h-1.0zM231.5 304.6h1.0v1.0h-1.0zM238.5 308.6h1.0v1.0h-1.0zM253.6 303.0h1.0v1.0h-1.0zM236.8 308.9h1.0v1.0h-1.0zM224.8 305.1h1.0v1.0h-1.0zM249.3 306.9h1.0v1.0h-1.0zM255.6 305.4h1.0v1.0h-1.0zM222.5 305.5h1.0v1.0h-1.0zM210.7 307.3h1.0v1.0h-1.0zM213.8 309.8h1.0v1.0h-1.0zM232.8 308.4h1.0v1.0h-1.0zM260.2 304.8h1.0v1.0h-1.0zM216.4 306.7h1.0v1.0h-1.0zM224.1 309.6h1.0v1.0h-1.0zM223.8 310.1h1.0v1.0h-1.0zM210.1 307.6h1.0v1.0h-1.0zM257.9 305.0h1.0v1.0h-1.0zM242.2 302.1h1.0v1.0h-1.0zM227.4 309.0h1.0v1.0h-1.0zM232.7 309.2h1.0v1.0h-1.0zM217.7 310.9h1.0v1.0h-1.0zM217.9 305.4h1.0v1.0h-1.0zM240.3 307.7h1.0v1.0h-1.0zM251.2 303.3h1.0v1.0h-1.0zM259.0 303.1h1.0v1.0h-1.0zM217.8 304.6h1.0v1.0h-1.0zM216.9 309.6h1.0v1.0h-1.0zM201.2 310.5h1.0v1.0h-1.0zM205.9 309.8h1.0v1.0h-1.0zM208.4 307.9h1.0v1.0h-1.0zM257.7 303.3h1.0v1.0h-1.0zM244.3 308.5h1.0v1.0h-1.0zM226.3 305.4h1.0v1.0h-1.0zM209.9 309.8h1.0v1.0h-1.0zM205.4 310.1h1.0v1.0h-1.0zM225.9 309.5h1.0v1.0h-1.0zM215.3 306.8h1.0v1.0h-1.0zM230.2 311.6h1.0v1.0h-1.0zM231.1 310.7h1.0v1.0h-1.0zM245.9 301.7h1.0v1.0h-1.0zM236.9 308.0h1.0v1.0h-1.0zM216.0 306.6h1.0v1.0h-1.0z" fill="#d41a1a" fill-opacity="1.0"/>
<path d="M166.4 312.1h1.0v1.0h-1.0zM175.3 313.5h1.0v1.0h-1.0zM178.1 305.9h1.0v1.0h-1.0zM187.0 310.8h1.0v1.0h-1.0zM193.2 305.9h1.0v1.0h-1.0zM200.8 305.3h1.0v1.0h-1.0zM266.8 301.8h1.0v1.0h-1.0zM258.5 304.5h1.0v1.0h-1.0zM260.5 303.5h1.0v1.0h-1.0zM197.5 308.5h1.0v1.0h-1.0zM195.5 310.0h1.0v1.0h-1.0zM262.5 303.0h1.0v1.0h-1.0z" fill="#d83030" fill-opacity="0.85"/>
<path d="M82.3 236.0h1.0v1.0h-1.0zM76.3 249.7h1.0v1.0h-1.0zM79.1 238.0h1.0v1.0h-1.0zM79.7 238.7h1.0v1.0h-1.0zM79.6 244.7h1.0v1.0h-1.0zM74.8 249.5h1.0v1.0h-1.0zM77.9 243.9h1.0v1.0h-1.0zM81.0 240.0h1.0v1.0h-1.0zM78.7 239.6h1.0v1.0h-1.0zM79.9 242.0h1.0v1.0h-1.0zM80.5 238.8h1.0v1.0h-1.0zM78.0 244.5h1.0v1.0h-1.0zM76.7 243.0h1.0v1.0h-1.0zM79.8 236.4h1.0v1.0h-1.0zM78.3 239.1h1.0v1.0h-1.0zM78.7 237.8h1.0v1.0h-1.0zM81.1 244.2h1.0v1.0h-1.0zM80.2 243.3h1.0v1.0h-1.0zM75.8 246.8h1.0v1.0h-1.0zM81.4 241.7h1.0v1.0h-1.0zM79.4 246.0h1.0v1.0h-1.0zM78.9 242.5h1.0v1.0h-1.0zM80.6 246.8h1.0v1.0h-1.0zM82.5 243.0h1.0v1.0h-1.0zM81.8 241.0h1.0v1.0h-1.0zM76.0 239.0h1.0v1.0h-1.0zM77.5 244.4h1.0v1.0h-1.0zM75.1 248.9h1.0v1.0h-1.0zM80.6 243.2h1.0v1.0h-1.0zM81.0 241.8h1.0v1.0h-1.0zM81.4 235.5h1.0v1.0h-1.0zM75.2 242.2h1.0v1.0h-1.0zM79.5 231.3h1.0v1.0h-1.0zM80.5 234.3h1.0v1.0h-1.0zM77.5 242.2h1.0v1.0h-1.0zM75.0 253.3h1.0v1.0h-1.0zM76.7 241.5h1.0v1.0h-1.0zM74.0 245.7h1.0v1.0h-1.0zM80.3 238.8h1.0v1.0h-1.0zM75.4 247.7h1.0v1.0h-1.0zM75.3 241.5h1.0v1.0h-1.0zM80.1 239.1h1.0v1.0h-1.0zM77.6 238.0h1.0v1.0h-1.0zM78.8 235.8h1.0v1.0h-1.0zM80.9 235.8h1.0v1.0h-1.0zM76.0 251.1h1.0v1.0h-1.0zM80.7 237.2h1.0v1.0h-1.0zM73.3 239.1h1.0v1.0h-1.0zM76.3 247.8h1.0v1.0h-1.0zM75.9 241.6h1.0v1.0h-1.0zM78.1 248.2h1.0v1.0h-1.0zM79.3 243.2h1.0v1.0h-1.0zM76.6 243.3h1.0v1.0h-1.0zM81.4 243.6h1.0v1.0h-1.0zM75.0 245.0h1.0v1.0h-1.0zM80.0 242.2h1.0v1.0h-1.0zM82.9 238.7h1.0v1.0h-1.0zM84.1 235.7h1.0v1.0h-1.0zM79.6 238.4h1.0v1.0h-1.0zM79.4 241.3h1.0v1.0h-1.0zM78.3 237.5h1.0v1.0h-1.0zM80.0 243.3h1.0v1.0h-1.0zM79.1 249.4h1.0v1.0h-1.0zM78.3 233.4h1.0v1.0h-1.0zM81.2 246.9h1.0v1.0h-1.0zM75.9 241.6h1.0v1.0h-1.0zM75.4 235.8h1.0v1.0h-1.0zM78.4 231.7h1.0v1.0h-1.0zM74.5 247.2h1.0v1.0h-1.0zM83.7 238.5h1.0v1.0h-1.0zM75.9 244.6h1.0v1.0h-1.0zM77.0 237.5h1.0v1.0h-1.0zM80.9 243.1h1.0v1.0h-1.0zM78.3 244.9h1.0v1.0h-1.0zM75.6 245.9h1.0v1.0h-1.0zM77.6 236.8h1.0v1.0h-1.0zM74.0 248.5h1.0v1.0h-1.0zM76.0 245.7h1.0v1.0h-1.0zM75.6 239.9h1.0v1.0h-1.0zM78.1 229.3h1.0v1.0h-1.0zM77.9 242.7h1.0v1.0h-1.0zM78.4 240.1h1.0v1.0h-1.0zM80.5 241.6h1.0v1.0h-1.0zM77.3 242.0h1.0v1.0h-1.0zM77.0 235.6h1.0v1.0h-1.0zM84.6 242.0h1.0v1.0h-1.0zM81.1 238.6h1.0v1.0h-1.0zM83.0 244.7h1.0v1.0h-1.0zM80.3 239.6h1.0v1.0h-1.0zM85.2 234.4h1.0v1.0h-1.0zM82.1 249.4h1.0v1.0h-1.0zM79.8 233.9h1.0v1.0h-1.0zM74.4 243.2h1.0v1.0h-1.0zM77.8 241.3h1.0v1.0h-1.0zM76.2 245.2h1.0v1.0h-1.0zM83.9 236.1h1.0v1.0h-1.0zM76.6 247.8h1.0v1.0h-1.0zM80.3 243.1h1.0v1.0h-1.0zM79.4 243.2h1.0v1.0h-1.0zM79.2 240.7h1.0v1.0h-1.0zM76.6 245.6h1.0v1.0h-1.0zM78.5 243.3h1.0v1.0h-1.0zM74.7 239.4h1.0v1.0h-1.0zM75.9 247.7h1.0v1.0h-1.0zM82.5 243.8h1.0v1.0h-1.0zM77.2 242.5h1.0v1.0h-1.0zM79.7 240.0h1.0v1.0h-1.0zM85.6 235.9h1.0v1.0h-1.0zM80.6 238.8h1.0v1.0h-1.0zM78.6 242.9h1.0v1.0h-1.0zM74.3 242.9h1.0v1.0h-1.0zM79.3 247.1h1.0v1.0h-1.0zM75.9 242.7h1.0v1.0h-1.0zM76.9 248.0h1.0v1.0h-1.0zM77.6 253.7h1.0v1.0h-1.0zM80.2 239.3h1.0v1.0h-1.0zM77.1 246.4h1.0v1.0h-1.0zM76.5 241.5h1.0v1.0h-1.0zM78.2 243.0h1.0v1.0h-1.0zM83.2 241.5h1.0v1.0h-1.0zM78.8 246.2h1.0v1.0h-1.0zM80.2 245.2h1.0v1.0h-1.0zM82.2 231.8h1.0v1.0h-1.0zM80.1 250.3h1.0v1.0h-1.0zM75.1 244.4h1.0v1.0h-1.0zM81.0 240.8h1.0v1.0h-1.0zM76.5 245.9h1.0v1.0h-1.0zM77.8 239.1h1.0v1.0h-1.0zM77.3 241.2h1.0v1.0h-1.0zM76.6 235.9h1.0v1.0h-1.0zM80.7 241.1h1.0v1.0h-1.0zM77.4 243.1h1.0v1.0h-1.0zM80.3 240.9h1.0v1.0h-1.0zM74.8 241.4h1.0v1.0h-1.0zM74.1 244.0h1.0v1.0h-1.0zM81.7 243.5h1.0v1.0h-1.0zM78.8 238.2h1.0v1.0h-1.0zM77.5 242.5h1.0v1.0h-1.0zM77.0 235.7h1.0v1.0h-1.0zM80.1 241.4h1.0v1.0h-1.0zM82.5 237.9h1.0v1.0h-1.0zM79.2 245.8h1.0v1.0h-1.0zM81.0 242.7h1.0v1.0h-1.0zM75.2 247.1h1.0v1.0h-1.0zM75.8 244.0h1.0v1.0h-1.0zM73.8 239.1h1.0v1.0h-1.0zM76.9 243.7h1.0v1.0h-1.0zM80.3 242.0h1.0v1.0h-1.0zM79.3 237.8h1.0v1.0h-1.0zM80.1 232.7h1.0v1.0h-1.0z" fill="#8cca64" fill-opacity="0.75"/>
<path d="M77.4 241.9h1.0v1.0h-1.0zM81.7 241.0h1.0v1.0h-1.0zM77.7 240.8h1.0v1.0h-1.0zM78.0 244.3h1.0v1.0h-1.0zM78.9 241.8h1.0v1.0h-1.0zM78.7 247.4h1.0v1.0h-1.0zM78.9 245.8h1.0v1.0h-1.0zM76.3 244.0h1.0v1.0h-1.0zM78.6 243.8h1.0v1.0h-1.0zM77.4 240.1h1.0v1.0h-1.0zM80.4 238.1h1.0v1.0h-1.0zM78.2 243.1h1.0v1.0h-1.0zM79.1 240.1h1.0v1.0h-1.0zM75.3 246.1h1.0v1.0h-1.0zM78.8 239.5h1.0v1.0h-1.0zM78.3 238.5h1.0v1.0h-1.0zM78.6 241.8h1.0v1.0h-1.0zM79.2 236.7h1.0v1.0h-1.0zM79.8 243.6h1.0v1.0h-1.0zM79.9 242.6h1.0v1.0h-1.0zM76.7 239.2h1.0v1.0h-1.0zM81.3 242.2h1.0v1.0h-1.0zM73.5 244.1h1.0v1.0h-1.0zM80.1 235.4h1.0v1.0h-1.0zM79.4 238.6h1.0v1.0h-1.0zM77.2 236.4h1.0v1.0h-1.0zM78.2 241.2h1.0v1.0h-1.0zM79.1 242.6h1.0v1.0h-1.0zM79.5 248.3h1.0v1.0h-1.0zM80.8 235.4h1.0v1.0h-1.0zM77.6 239.0h1.0v1.0h-1.0zM79.0 242.7h1.0v1.0h-1.0zM81.6 237.3h1.0v1.0h-1.0zM79.2 241.2h1.0v1.0h-1.0zM75.5 247.4h1.0v1.0h-1.0zM78.5 236.9h1.0v1.0h-1.0zM79.8 239.3h1.0v1.0h-1.0zM79.0 239.1h1.0v1.0h-1.0zM78.7 241.6h1.0v1.0h-1.0zM81.1 237.9h1.0v1.0h-1.0zM80.2 240.4h1.0v1.0h-1.0zM79.2 242.6h1.0v1.0h-1.0zM76.0 242.5h1.0v1.0h-1.0zM76.5 244.9h1.0v1.0h-1.0zM80.1 243.7h1.0v1.0h-1.0zM76.2 239.8h1.0v1.0h-1.0zM77.4 243.2h1.0v1.0h-1.0zM78.9 242.0h1.0v1.0h-1.0zM78.3 242.1h1.0v1.0h-1.0zM80.0 239.6h1.0v1.0h-1.0zM76.3 248.1h1.0v1.0h-1.0zM75.9 243.3h1.0v1.0h-1.0zM79.6 243.2h1.0v1.0h-1.0zM79.4 247.6h1.0v1.0h-1.0zM80.8 237.4h1.0v1.0h-1.0zM77.7 248.8h1.0v1.0h-1.0zM79.7 241.4h1.0v1.0h-1.0zM81.1 241.0h1.0v1.0h-1.0zM79.6 243.7h1.0v1.0h-1.0zM79.9 240.2h1.0v1.0h-1.0z" fill="#5ca834" fill-opacity="0.9"/>
<path d="M74.0 253.6h0.9v0.9h-0.9zM85.5 245.6h0.9v0.9h-0.9zM70.5 239.6h0.9v0.9h-0.9zM85.0 235.6h0.9v0.9h-0.9zM74.0 272.8h0.9v0.9h-0.9z" fill="#8090a0" fill-opacity="0.6"/>
<path d="M219.0 248.8h1.0v1.0h-1.0zM196.9 258.2h1.0v1.0h-1.0zM204.8 254.8h1.0v1.0h-1.0zM205.8 251.7h1.0v1.0h-1.0zM192.0 259.7h1.0v1.0h-1.0zM217.7 244.6h1.0v1.0h-1.0zM213.6 246.3h1.0v1.0h-1.0zM209.7 252.2h1.0v1.0h-1.0zM211.7 254.1h1.0v1.0h-1.0zM206.6 252.0h1.0v1.0h-1.0zM230.0 241.6h1.0v1.0h-1.0zM204.5 253.5h1.0v1.0h-1.0zM212.5 248.3h1.0v1.0h-1.0zM198.5 256.3h1.0v1.0h-1.0zM204.6 254.8h1.0v1.0h-1.0zM213.4 245.3h1.0v1.0h-1.0zM193.8 259.7h1.0v1.0h-1.0zM223.1 241.5h1.0v1.0h-1.0zM204.4 254.6h1.0v1.0h-1.0zM198.5 258.0h1.0v1.0h-1.0zM217.6 245.0h1.0v1.0h-1.0zM209.0 249.7h1.0v1.0h-1.0zM217.1 242.0h1.0v1.0h-1.0zM229.0 240.8h1.0v1.0h-1.0zM225.8 243.8h1.0v1.0h-1.0zM223.8 245.2h1.0v1.0h-1.0zM204.2 252.0h1.0v1.0h-1.0zM228.3 241.8h1.0v1.0h-1.0zM194.3 258.9h1.0v1.0h-1.0zM199.2 254.3h1.0v1.0h-1.0zM207.1 252.9h1.0v1.0h-1.0zM187.9 260.9h1.0v1.0h-1.0zM189.1 261.3h1.0v1.0h-1.0zM208.7 253.6h1.0v1.0h-1.0zM227.9 241.1h1.0v1.0h-1.0zM224.2 243.3h1.0v1.0h-1.0zM189.1 260.7h1.0v1.0h-1.0zM212.3 250.5h1.0v1.0h-1.0zM192.0 258.5h1.0v1.0h-1.0zM219.0 243.9h1.0v1.0h-1.0zM192.0 259.0h1.0v1.0h-1.0zM209.7 247.7h1.0v1.0h-1.0zM225.9 242.0h1.0v1.0h-1.0zM189.9 260.6h1.0v1.0h-1.0zM204.2 251.8h1.0v1.0h-1.0zM201.9 255.2h1.0v1.0h-1.0zM189.4 260.0h1.0v1.0h-1.0zM207.4 252.0h1.0v1.0h-1.0zM188.7 261.0h1.0v1.0h-1.0zM203.2 253.8h1.0v1.0h-1.0zM192.5 259.1h1.0v1.0h-1.0zM225.1 240.3h1.0v1.0h-1.0zM209.7 249.0h1.0v1.0h-1.0zM228.4 241.3h1.0v1.0h-1.0zM188.5 260.5h1.0v1.0h-1.0zM193.1 259.2h1.0v1.0h-1.0zM198.6 253.6h1.0v1.0h-1.0zM192.9 257.0h1.0v1.0h-1.0zM196.3 254.3h1.0v1.0h-1.0zM230.2 240.1h1.0v1.0h-1.0z" fill="#eeee70" fill-opacity="0.8"/>
<line x1="311.1" y1="225.7" x2="311.1" y2="332.3" stroke="#8a8a8a" stroke-width="1.0"/>
<path d="M310.20 226.40h1.8M310.20 229.79h1.8M310.20 233.19h1.8M310.20 236.58h1.8M310.20 239.98h1.8M310.20 243.37h1.8M310.20 246.76h1.8M310.20 250.16h1.8M310.20 253.55h1.8M310.20 256.95h1.8M310.20 260.34h1.8M310.20 263.73h1.8M310.20 267.13h1.8M310.20 270.52h1.8M310.20 273.92h1.8M310.20 277.31h1.8M310.20 280.70h1.8M310.20 284.10h1.8M310.20 287.49h1.8M310.20 290.89h1.8M310.20 294.28h1.8M310.20 297.67h1.8M310.20 301.07h1.8M310.20 304.46h1.8M310.20 307.86h1.8M310.20 311.25h1.8M310.20 314.64h1.8M310.20 318.04h1.8M310.20 321.43h1.8M310.20 324.83h1.8M310.20 328.22h1.8M310.20 331.61h1.8" stroke="#4a4a4a" stroke-width="0.6" fill="none"/>
<path d="M308.90 229.80h2.2M308.90 246.77h2.2M308.90 263.74h2.2M308.90 280.71h2.2M308.90 297.68h2.2M308.90 314.65h2.2M308.90 331.62h2.2" stroke="#4a4a4a" stroke-width="0.7" fill="none"/>
<text x="294.61" y="231.45" class="tk" textLength="12.24" lengthAdjust="spacingAndGlyphs">40 000</text>
<text x="294.61" y="248.42" class="tk" textLength="12.24" lengthAdjust="spacingAndGlyphs">35 000</text>
<text x="294.61" y="265.39" class="tk" textLength="12.24" lengthAdjust="spacingAndGlyphs">30 000</text>
<text x="294.61" y="282.36" class="tk" textLength="12.24" lengthAdjust="spacingAndGlyphs">25 000</text>
<text x="294.61" y="299.33" class="tk" textLength="12.24" lengthAdjust="spacingAndGlyphs">20 000</text>
<text x="294.61" y="316.30" class="tk" textLength="12.24" lengthAdjust="spacingAndGlyphs">15 000</text>
<text x="294.61" y="333.27" class="tk" textLength="12.24" lengthAdjust="spacingAndGlyphs">10 000</text>
<line x1="314.1" y1="335.9" x2="521.6" y2="335.9" stroke="#8a8a8a" stroke-width="1.0"/>
<path d="M317.90 335.00v1.8M324.25 335.00v1.8M330.60 335.00v1.8M336.96 335.00v1.8M343.31 335.00v1.8M349.66 335.00v1.8M356.01 335.00v1.8M362.36 335.00v1.8M368.72 335.00v1.8M375.07 335.00v1.8M381.42 335.00v1.8M387.77 335.00v1.8M394.12 335.00v1.8M400.48 335.00v1.8M406.83 335.00v1.8M413.18 335.00v1.8M419.53 335.00v1.8M425.88 335.00v1.8M432.24 335.00v1.8M438.59 335.00v1.8M444.94 335.00v1.8M451.29 335.00v1.8M457.64 335.00v1.8M464.00 335.00v1.8M470.35 335.00v1.8M476.70 335.00v1.8M483.05 335.00v1.8M489.40 335.00v1.8M495.76 335.00v1.8M502.11 335.00v1.8M508.46 335.00v1.8M514.81 335.00v1.8" stroke="#4a4a4a" stroke-width="0.6" fill="none"/>
<path d="M330.60 335.90v2.2M362.36 335.90v2.2M394.12 335.90v2.2M425.88 335.90v2.2M457.64 335.90v2.2M489.40 335.90v2.2M521.16 335.90v2.2" stroke="#4a4a4a" stroke-width="0.7" fill="none"/>
<text x="325.59" y="343.20" class="tk" textLength="10.02" lengthAdjust="spacingAndGlyphs">5 000</text>
<text x="356.17" y="343.20" class="tk" textLength="12.24" lengthAdjust="spacingAndGlyphs">10 000</text>
<text x="387.93" y="343.20" class="tk" textLength="12.24" lengthAdjust="spacingAndGlyphs">15 000</text>
<text x="419.74" y="343.20" class="tk" textLength="12.24" lengthAdjust="spacingAndGlyphs">20 000</text>
<text x="451.50" y="343.20" class="tk" textLength="12.24" lengthAdjust="spacingAndGlyphs">25 000</text>
<text x="483.28" y="343.20" class="tk" textLength="12.24" lengthAdjust="spacingAndGlyphs">30 000</text>
<text x="515.04" y="343.20" class="tk" textLength="12.24" lengthAdjust="spacingAndGlyphs">35 000</text>
<line x1="311.6" y1="276.9" x2="517.8" y2="276.9" stroke="#9ca4d6" stroke-width="1.2"/>
<line x1="377.0" y1="223.5" x2="377.0" y2="333" stroke="#acd294" stroke-width="1.3"/>
<path d="M326.40 260.30 326.95 259.94 327.19 259.53 327.38 259.12 327.54 258.70 327.68 258.28 327.81 257.85 327.92 257.43 328.02 257.00 328.12 256.57 328.21 256.15 328.29 255.72 328.37 255.29 328.44 254.85 328.51 254.42 328.58 253.99 328.64 253.56 328.70 253.13 328.77 252.69 328.83 252.26 328.89 251.83 328.95 251.40 329.01 250.96 329.07 250.53 329.12 250.10 329.18 249.66 329.23 249.23 329.28 248.79 329.33 248.36 329.37 247.92 329.41 247.49 329.44 247.05 329.47 246.61 329.49 246.18 329.50 245.74 329.50 245.29 329.49 244.85 329.45 244.40 329.40 243.95 329.29 243.50 328.90 243.00 328.90 243.00 328.39 243.37 328.15 243.78 327.97 244.19 327.81 244.61 327.68 245.03 327.55 245.45 327.44 245.88 327.33 246.31 327.23 246.73 327.14 247.16 327.05 247.59 326.97 248.02 326.89 248.45 326.82 248.88 326.75 249.31 326.68 249.74 326.61 250.18 326.54 250.61 326.48 251.04 326.41 251.47 326.35 251.90 326.28 252.34 326.22 252.77 326.16 253.20 326.10 253.63 326.04 254.07 325.99 254.50 325.93 254.93 325.89 255.37 325.84 255.80 325.81 256.24 325.78 256.68 325.76 257.12 325.74 257.56 325.74 258.00 325.76 258.44 325.79 258.89 325.86 259.34 325.98 259.80 326.40 260.30Z" fill="#2442a8"/>
<path d="M325.6 252.0h1.0v1.0h-1.0zM327.4 257.1h1.0v1.0h-1.0zM325.2 256.0h1.0v1.0h-1.0zM328.9 244.0h1.0v1.0h-1.0zM326.5 260.3h1.0v1.0h-1.0zM328.2 251.0h1.0v1.0h-1.0zM324.8 257.0h1.0v1.0h-1.0zM325.3 261.0h1.0v1.0h-1.0zM327.6 254.4h1.0v1.0h-1.0zM327.3 244.8h1.0v1.0h-1.0zM328.9 244.0h1.0v1.0h-1.0zM325.4 257.3h1.0v1.0h-1.0zM326.2 261.0h1.0v1.0h-1.0zM328.7 248.2h1.0v1.0h-1.0zM326.5 245.3h1.0v1.0h-1.0zM327.4 257.1h1.0v1.0h-1.0zM325.4 258.7h1.0v1.0h-1.0zM328.1 255.5h1.0v1.0h-1.0zM328.6 255.3h1.0v1.0h-1.0zM327.0 245.9h1.0v1.0h-1.0zM328.1 241.3h1.0v1.0h-1.0zM325.1 257.4h1.0v1.0h-1.0zM326.5 259.7h1.0v1.0h-1.0zM325.5 257.0h1.0v1.0h-1.0zM328.9 244.2h1.0v1.0h-1.0zM328.8 242.2h1.0v1.0h-1.0zM325.9 251.6h1.0v1.0h-1.0zM325.8 252.7h1.0v1.0h-1.0zM325.3 252.3h1.0v1.0h-1.0zM329.1 245.3h1.0v1.0h-1.0zM327.4 256.5h1.0v1.0h-1.0zM328.3 252.7h1.0v1.0h-1.0zM325.6 255.3h1.0v1.0h-1.0zM327.4 258.6h1.0v1.0h-1.0zM328.6 247.1h1.0v1.0h-1.0zM326.2 247.7h1.0v1.0h-1.0zM325.8 251.2h1.0v1.0h-1.0zM329.0 242.7h1.0v1.0h-1.0zM326.5 261.0h1.0v1.0h-1.0zM328.3 252.8h1.0v1.0h-1.0zM328.5 251.2h1.0v1.0h-1.0zM326.4 249.3h1.0v1.0h-1.0zM329.1 248.0h1.0v1.0h-1.0zM328.1 242.2h1.0v1.0h-1.0zM328.7 249.0h1.0v1.0h-1.0zM325.4 254.7h1.0v1.0h-1.0zM327.0 258.1h1.0v1.0h-1.0zM330.0 248.2h1.0v1.0h-1.0zM328.9 241.2h1.0v1.0h-1.0zM326.7 258.8h1.0v1.0h-1.0z" fill="#2442a8" fill-opacity="1.0"/>
<path d="M337.0 254.3h1.0v1.0h-1.0zM324.9 263.3h1.0v1.0h-1.0z" fill="#7080a0" fill-opacity="0.8"/>
<path d="M325.00 312.60 326.20 312.56 326.77 312.27 327.23 311.94 327.62 311.58 327.97 311.20 328.29 310.81 328.59 310.42 328.87 310.01 329.12 309.60 329.37 309.18 329.60 308.76 329.82 308.33 330.03 307.90 330.23 307.46 330.42 307.02 330.60 306.58 330.78 306.14 330.96 305.69 331.13 305.25 331.29 304.80 331.46 304.35 331.62 303.90 331.78 303.45 331.93 302.99 332.08 302.54 332.22 302.08 332.35 301.62 332.48 301.15 332.59 300.69 332.70 300.21 332.79 299.74 332.88 299.26 332.94 298.77 332.99 298.27 333.02 297.77 333.03 297.26 333.00 296.73 332.91 296.19 332.73 295.60 332.00 294.80 332.00 294.80 330.92 294.89 330.39 295.19 329.95 295.54 329.57 295.90 329.23 296.28 328.91 296.67 328.61 297.06 328.32 297.46 328.06 297.87 327.80 298.29 327.56 298.70 327.32 299.13 327.10 299.55 326.88 299.98 326.67 300.41 326.47 300.85 326.27 301.28 326.08 301.72 325.89 302.16 325.71 302.60 325.52 303.04 325.34 303.49 325.17 303.93 325.00 304.38 324.83 304.83 324.67 305.28 324.52 305.73 324.38 306.19 324.25 306.65 324.13 307.12 324.03 307.59 323.93 308.07 323.86 308.55 323.81 309.05 323.78 309.55 323.78 310.06 323.82 310.59 323.93 311.15 324.15 311.75 325.00 312.60Z" fill="#3e4658"/>
<path d="M326.7 297.6h1.0v1.0h-1.0zM329.3 306.1h1.0v1.0h-1.0zM322.9 308.7h1.0v1.0h-1.0zM331.5 300.6h1.0v1.0h-1.0zM333.7 298.4h1.0v1.0h-1.0zM331.2 301.3h1.0v1.0h-1.0zM330.7 304.7h1.0v1.0h-1.0zM332.8 293.5h1.0v1.0h-1.0zM323.8 310.7h1.0v1.0h-1.0zM326.4 311.4h1.0v1.0h-1.0zM332.1 295.6h1.0v1.0h-1.0zM331.2 302.0h1.0v1.0h-1.0zM330.1 308.0h1.0v1.0h-1.0zM323.9 307.4h1.0v1.0h-1.0zM330.6 293.5h1.0v1.0h-1.0zM328.4 296.4h1.0v1.0h-1.0zM332.1 298.4h1.0v1.0h-1.0zM326.8 311.0h1.0v1.0h-1.0zM330.5 303.6h1.0v1.0h-1.0zM327.8 310.0h1.0v1.0h-1.0zM332.7 294.8h1.0v1.0h-1.0zM324.2 306.9h1.0v1.0h-1.0zM333.2 300.9h1.0v1.0h-1.0zM330.4 294.1h1.0v1.0h-1.0zM324.7 298.6h1.0v1.0h-1.0zM324.6 297.2h1.0v1.0h-1.0zM330.2 306.9h1.0v1.0h-1.0zM332.4 298.0h1.0v1.0h-1.0zM325.6 300.2h1.0v1.0h-1.0zM332.5 295.1h1.0v1.0h-1.0zM331.8 303.1h1.0v1.0h-1.0zM324.4 304.8h1.0v1.0h-1.0zM332.2 297.8h1.0v1.0h-1.0zM330.5 304.4h1.0v1.0h-1.0zM327.4 309.9h1.0v1.0h-1.0zM329.4 308.2h1.0v1.0h-1.0zM331.2 293.1h1.0v1.0h-1.0zM325.1 313.2h1.0v1.0h-1.0zM332.9 293.8h1.0v1.0h-1.0zM331.4 302.2h1.0v1.0h-1.0zM332.1 295.0h1.0v1.0h-1.0zM324.2 303.6h1.0v1.0h-1.0zM323.3 308.0h1.0v1.0h-1.0zM332.3 295.2h1.0v1.0h-1.0zM325.5 301.7h1.0v1.0h-1.0zM330.4 305.5h1.0v1.0h-1.0zM330.7 303.1h1.0v1.0h-1.0zM328.4 311.1h1.0v1.0h-1.0zM323.2 308.6h1.0v1.0h-1.0zM328.9 309.1h1.0v1.0h-1.0zM323.6 310.9h1.0v1.0h-1.0zM332.6 296.2h1.0v1.0h-1.0zM329.1 294.7h1.0v1.0h-1.0zM327.2 311.1h1.0v1.0h-1.0zM332.2 294.9h1.0v1.0h-1.0zM325.5 312.9h1.0v1.0h-1.0zM327.2 299.1h1.0v1.0h-1.0zM327.7 309.6h1.0v1.0h-1.0zM328.4 309.3h1.0v1.0h-1.0zM323.3 309.3h1.0v1.0h-1.0zM332.4 298.6h1.0v1.0h-1.0zM327.1 298.2h1.0v1.0h-1.0zM327.2 311.2h1.0v1.0h-1.0zM323.7 311.2h1.0v1.0h-1.0zM326.0 299.6h1.0v1.0h-1.0zM324.3 306.5h1.0v1.0h-1.0zM326.6 299.3h1.0v1.0h-1.0zM331.5 300.9h1.0v1.0h-1.0zM325.8 312.5h1.0v1.0h-1.0zM332.5 294.3h1.0v1.0h-1.0zM324.3 301.0h1.0v1.0h-1.0zM324.0 307.5h1.0v1.0h-1.0zM323.6 310.4h1.0v1.0h-1.0zM330.9 293.6h1.0v1.0h-1.0zM331.3 302.4h1.0v1.0h-1.0zM333.2 300.1h1.0v1.0h-1.0zM325.6 303.1h1.0v1.0h-1.0zM327.9 309.2h1.0v1.0h-1.0zM323.9 307.2h1.0v1.0h-1.0zM326.4 300.6h1.0v1.0h-1.0z" fill="#3e4658" fill-opacity="1.0"/>
<path d="M341.0 292.5h1.0v1.0h-1.0zM338.0 298.1h1.0v1.0h-1.0zM338.5 303.5h1.0v1.0h-1.0zM333.5 292.3h1.0v1.0h-1.0zM328.5 315.5h1.0v1.0h-1.0z" fill="#6a7080" fill-opacity="0.8"/>
<path d="M402.50 305.30 403.74 306.58 404.79 306.92 405.81 307.08 406.81 307.15 407.80 307.16 408.78 307.12 409.75 307.04 410.72 306.93 411.68 306.79 412.63 306.64 413.59 306.46 414.54 306.28 415.48 306.08 416.43 305.87 417.37 305.65 418.32 305.43 419.26 305.20 420.20 304.96 421.14 304.73 422.08 304.49 423.02 304.26 423.96 304.02 424.90 303.78 425.84 303.54 426.78 303.29 427.72 303.04 428.65 302.78 429.59 302.52 430.52 302.25 431.45 301.97 432.38 301.68 433.31 301.38 434.24 301.08 435.16 300.75 436.08 300.42 437.00 300.06 437.91 299.67 438.81 299.25 439.70 298.75 440.50 297.80 440.50 297.80 439.40 297.23 438.39 297.10 437.39 297.05 436.40 297.04 435.42 297.06 434.44 297.10 433.46 297.15 432.49 297.22 431.52 297.29 430.55 297.38 429.58 297.48 428.61 297.58 427.65 297.69 426.68 297.81 425.72 297.94 424.76 298.06 423.80 298.20 422.84 298.33 421.88 298.47 420.92 298.61 419.96 298.75 419.00 298.89 418.04 299.03 417.08 299.17 416.13 299.32 415.17 299.48 414.22 299.65 413.26 299.82 412.31 300.01 411.37 300.21 410.42 300.43 409.48 300.67 408.55 300.94 407.62 301.23 406.70 301.57 405.79 301.95 404.89 302.39 404.01 302.93 403.16 303.65 402.50 305.30Z" fill="#66b82a"/>
<path d="M422.3 297.0h1.0v1.0h-1.0zM406.4 307.5h1.0v1.0h-1.0zM424.3 303.2h1.0v1.0h-1.0zM407.5 300.7h1.0v1.0h-1.0zM406.1 306.6h1.0v1.0h-1.0zM404.0 306.0h1.0v1.0h-1.0zM423.5 302.8h1.0v1.0h-1.0zM428.6 297.4h1.0v1.0h-1.0zM418.9 298.4h1.0v1.0h-1.0zM434.0 296.8h1.0v1.0h-1.0zM421.0 304.2h1.0v1.0h-1.0zM442.9 297.4h1.0v1.0h-1.0zM405.2 306.3h1.0v1.0h-1.0zM435.7 299.5h1.0v1.0h-1.0zM407.1 299.6h1.0v1.0h-1.0zM419.6 304.7h1.0v1.0h-1.0zM422.4 297.9h1.0v1.0h-1.0zM412.7 305.7h1.0v1.0h-1.0zM406.9 299.7h1.0v1.0h-1.0zM407.3 307.5h1.0v1.0h-1.0zM401.6 303.7h1.0v1.0h-1.0zM438.8 298.8h1.0v1.0h-1.0zM412.7 305.4h1.0v1.0h-1.0zM438.5 298.6h1.0v1.0h-1.0zM433.2 296.8h1.0v1.0h-1.0zM431.9 297.1h1.0v1.0h-1.0zM429.0 297.5h1.0v1.0h-1.0zM428.7 301.5h1.0v1.0h-1.0zM413.0 300.0h1.0v1.0h-1.0zM431.9 301.1h1.0v1.0h-1.0zM401.5 302.7h1.0v1.0h-1.0zM425.1 297.2h1.0v1.0h-1.0zM440.8 297.9h1.0v1.0h-1.0zM436.7 299.4h1.0v1.0h-1.0zM400.5 306.3h1.0v1.0h-1.0zM441.2 296.5h1.0v1.0h-1.0zM406.4 301.2h1.0v1.0h-1.0zM430.1 296.0h1.0v1.0h-1.0zM400.2 306.3h1.0v1.0h-1.0zM414.9 299.2h1.0v1.0h-1.0zM402.2 303.0h1.0v1.0h-1.0zM416.9 299.0h1.0v1.0h-1.0zM434.9 296.8h1.0v1.0h-1.0zM410.8 300.6h1.0v1.0h-1.0zM438.5 296.1h1.0v1.0h-1.0zM430.9 296.7h1.0v1.0h-1.0zM421.0 305.9h1.0v1.0h-1.0zM414.7 299.5h1.0v1.0h-1.0zM399.5 303.8h1.0v1.0h-1.0zM408.1 307.3h1.0v1.0h-1.0zM411.0 300.1h1.0v1.0h-1.0zM411.5 300.0h1.0v1.0h-1.0zM408.7 299.1h1.0v1.0h-1.0zM412.9 306.0h1.0v1.0h-1.0zM422.4 304.5h1.0v1.0h-1.0zM430.0 297.4h1.0v1.0h-1.0zM425.8 304.6h1.0v1.0h-1.0zM414.8 297.3h1.0v1.0h-1.0zM430.1 296.9h1.0v1.0h-1.0zM425.8 302.7h1.0v1.0h-1.0zM437.1 298.9h1.0v1.0h-1.0zM436.4 296.3h1.0v1.0h-1.0zM412.1 305.6h1.0v1.0h-1.0zM406.7 300.9h1.0v1.0h-1.0zM426.0 302.2h1.0v1.0h-1.0zM409.2 300.9h1.0v1.0h-1.0zM407.0 306.1h1.0v1.0h-1.0zM438.8 298.9h1.0v1.0h-1.0zM411.0 300.2h1.0v1.0h-1.0zM405.7 307.1h1.0v1.0h-1.0zM435.5 299.5h1.0v1.0h-1.0zM406.4 301.8h1.0v1.0h-1.0zM429.9 301.3h1.0v1.0h-1.0zM402.9 305.7h1.0v1.0h-1.0zM421.0 303.4h1.0v1.0h-1.0zM433.1 302.5h1.0v1.0h-1.0zM439.3 298.4h1.0v1.0h-1.0zM413.2 306.5h1.0v1.0h-1.0zM407.8 298.4h1.0v1.0h-1.0zM434.0 295.0h1.0v1.0h-1.0zM415.2 307.2h1.0v1.0h-1.0zM406.2 301.7h1.0v1.0h-1.0zM407.2 300.4h1.0v1.0h-1.0zM437.4 296.7h1.0v1.0h-1.0zM422.8 297.4h1.0v1.0h-1.0zM438.9 298.4h1.0v1.0h-1.0zM412.6 306.1h1.0v1.0h-1.0zM440.5 298.4h1.0v1.0h-1.0zM411.8 300.0h1.0v1.0h-1.0zM441.8 297.7h1.0v1.0h-1.0zM418.9 298.9h1.0v1.0h-1.0zM422.6 304.0h1.0v1.0h-1.0zM437.4 299.2h1.0v1.0h-1.0zM423.4 302.8h1.0v1.0h-1.0zM413.9 306.9h1.0v1.0h-1.0zM399.7 307.1h1.0v1.0h-1.0zM416.0 305.3h1.0v1.0h-1.0zM405.3 301.7h1.0v1.0h-1.0zM417.9 305.8h1.0v1.0h-1.0zM426.7 296.8h1.0v1.0h-1.0zM429.0 303.5h1.0v1.0h-1.0zM439.8 298.5h1.0v1.0h-1.0zM414.0 299.3h1.0v1.0h-1.0zM400.3 307.0h1.0v1.0h-1.0zM400.1 304.1h1.0v1.0h-1.0zM437.0 296.1h1.0v1.0h-1.0zM440.8 296.5h1.0v1.0h-1.0zM421.3 305.6h1.0v1.0h-1.0zM409.2 300.6h1.0v1.0h-1.0zM418.2 305.5h1.0v1.0h-1.0zM408.2 300.6h1.0v1.0h-1.0zM440.8 298.6h1.0v1.0h-1.0zM413.6 305.2h1.0v1.0h-1.0zM441.2 297.7h1.0v1.0h-1.0zM399.4 303.8h1.0v1.0h-1.0zM434.4 300.6h1.0v1.0h-1.0zM430.1 301.6h1.0v1.0h-1.0zM403.0 305.7h1.0v1.0h-1.0zM421.9 297.1h1.0v1.0h-1.0zM438.1 299.7h1.0v1.0h-1.0zM439.7 296.1h1.0v1.0h-1.0zM405.0 306.1h1.0v1.0h-1.0zM404.9 300.6h1.0v1.0h-1.0zM425.8 302.4h1.0v1.0h-1.0zM440.0 297.9h1.0v1.0h-1.0zM400.7 303.5h1.0v1.0h-1.0zM420.9 298.4h1.0v1.0h-1.0zM416.1 299.1h1.0v1.0h-1.0zM402.6 306.1h1.0v1.0h-1.0zM429.9 295.3h1.0v1.0h-1.0zM420.0 303.8h1.0v1.0h-1.0zM403.8 300.8h1.0v1.0h-1.0zM421.5 303.3h1.0v1.0h-1.0zM420.7 304.6h1.0v1.0h-1.0zM416.8 299.4h1.0v1.0h-1.0zM437.5 296.6h1.0v1.0h-1.0zM399.7 303.8h1.0v1.0h-1.0zM418.0 304.6h1.0v1.0h-1.0zM434.4 300.6h1.0v1.0h-1.0zM430.9 297.1h1.0v1.0h-1.0zM434.9 300.9h1.0v1.0h-1.0zM432.1 300.7h1.0v1.0h-1.0zM412.4 300.1h1.0v1.0h-1.0zM430.0 296.9h1.0v1.0h-1.0zM414.8 306.2h1.0v1.0h-1.0zM434.2 300.1h1.0v1.0h-1.0zM423.6 303.3h1.0v1.0h-1.0zM437.9 296.8h1.0v1.0h-1.0zM419.8 297.6h1.0v1.0h-1.0zM423.7 302.8h1.0v1.0h-1.0zM400.9 303.9h1.0v1.0h-1.0zM429.1 297.3h1.0v1.0h-1.0zM421.3 296.5h1.0v1.0h-1.0zM417.3 305.1h1.0v1.0h-1.0zM439.8 297.9h1.0v1.0h-1.0zM420.9 298.7h1.0v1.0h-1.0zM434.0 300.8h1.0v1.0h-1.0zM442.8 296.1h1.0v1.0h-1.0zM410.0 300.4h1.0v1.0h-1.0zM429.1 301.5h1.0v1.0h-1.0zM415.9 304.9h1.0v1.0h-1.0zM402.4 303.6h1.0v1.0h-1.0zM440.2 298.0h1.0v1.0h-1.0zM405.4 299.1h1.0v1.0h-1.0zM416.5 305.3h1.0v1.0h-1.0zM439.1 296.9h1.0v1.0h-1.0zM437.9 299.5h1.0v1.0h-1.0zM427.6 302.2h1.0v1.0h-1.0zM405.8 306.4h1.0v1.0h-1.0zM427.9 303.3h1.0v1.0h-1.0zM425.4 298.0h1.0v1.0h-1.0zM440.6 296.6h1.0v1.0h-1.0zM432.0 296.4h1.0v1.0h-1.0zM420.5 305.3h1.0v1.0h-1.0zM412.5 306.2h1.0v1.0h-1.0zM403.1 306.3h1.0v1.0h-1.0zM423.7 297.3h1.0v1.0h-1.0zM413.0 307.9h1.0v1.0h-1.0zM402.1 306.0h1.0v1.0h-1.0zM442.6 297.4h1.0v1.0h-1.0zM407.8 300.0h1.0v1.0h-1.0zM430.9 302.4h1.0v1.0h-1.0zM408.8 306.0h1.0v1.0h-1.0zM412.8 298.7h1.0v1.0h-1.0zM428.1 297.5h1.0v1.0h-1.0zM418.4 298.0h1.0v1.0h-1.0zM403.9 306.3h1.0v1.0h-1.0zM440.2 298.0h1.0v1.0h-1.0zM399.4 306.7h1.0v1.0h-1.0zM426.0 296.9h1.0v1.0h-1.0zM400.5 303.6h1.0v1.0h-1.0zM414.2 299.8h1.0v1.0h-1.0zM435.4 296.3h1.0v1.0h-1.0zM437.9 298.8h1.0v1.0h-1.0zM433.5 297.0h1.0v1.0h-1.0zM403.4 302.3h1.0v1.0h-1.0zM400.4 306.2h1.0v1.0h-1.0zM415.1 305.7h1.0v1.0h-1.0zM422.4 303.8h1.0v1.0h-1.0zM408.8 300.5h1.0v1.0h-1.0z" fill="#66b82a" fill-opacity="1.0"/>
<path d="M388.2 301.5h1.0v1.0h-1.0zM390.5 300.0h1.0v1.0h-1.0zM392.5 302.5h1.0v1.0h-1.0zM395.5 300.5h1.0v1.0h-1.0zM397.5 304.5h1.0v1.0h-1.0zM399.5 306.5h1.0v1.0h-1.0zM401.0 301.0h1.0v1.0h-1.0zM444.5 298.0h1.0v1.0h-1.0zM423.5 307.5h1.0v1.0h-1.0zM419.5 309.0h1.0v1.0h-1.0zM411.5 309.0h1.0v1.0h-1.0zM404.5 308.5h1.0v1.0h-1.0z" fill="#6cc030" fill-opacity="0.8"/>
<path d="M404.2 251.6h1.0v1.0h-1.0zM409.6 249.0h1.0v1.0h-1.0zM407.0 256.5h1.0v1.0h-1.0zM420.9 249.0h1.0v1.0h-1.0zM412.9 247.8h1.0v1.0h-1.0zM408.3 254.6h1.0v1.0h-1.0zM412.9 252.4h1.0v1.0h-1.0zM409.6 252.0h1.0v1.0h-1.0zM410.8 254.2h1.0v1.0h-1.0zM414.9 256.0h1.0v1.0h-1.0zM404.5 253.5h1.0v1.0h-1.0zM417.9 252.0h1.0v1.0h-1.0zM409.5 249.1h1.0v1.0h-1.0zM413.0 255.7h1.0v1.0h-1.0zM394.9 259.5h1.0v1.0h-1.0zM410.3 251.0h1.0v1.0h-1.0zM413.9 254.2h1.0v1.0h-1.0zM403.7 249.5h1.0v1.0h-1.0zM406.8 256.7h1.0v1.0h-1.0zM403.7 253.0h1.0v1.0h-1.0zM409.0 252.2h1.0v1.0h-1.0zM412.2 253.7h1.0v1.0h-1.0zM400.6 257.6h1.0v1.0h-1.0zM415.5 256.7h1.0v1.0h-1.0zM401.2 252.7h1.0v1.0h-1.0zM413.5 249.7h1.0v1.0h-1.0zM408.3 259.6h1.0v1.0h-1.0zM407.6 264.2h1.0v1.0h-1.0zM393.3 261.9h1.0v1.0h-1.0zM418.4 250.5h1.0v1.0h-1.0zM413.1 250.4h1.0v1.0h-1.0zM405.9 256.2h1.0v1.0h-1.0zM425.3 251.5h1.0v1.0h-1.0zM411.8 248.7h1.0v1.0h-1.0zM416.5 253.5h1.0v1.0h-1.0zM403.3 253.1h1.0v1.0h-1.0zM411.4 254.7h1.0v1.0h-1.0zM399.8 256.0h1.0v1.0h-1.0zM418.2 254.4h1.0v1.0h-1.0zM406.0 254.7h1.0v1.0h-1.0zM419.3 249.7h1.0v1.0h-1.0zM405.3 256.9h1.0v1.0h-1.0zM409.6 252.9h1.0v1.0h-1.0zM405.8 248.9h1.0v1.0h-1.0zM410.7 252.4h1.0v1.0h-1.0z" fill="#90c4ec" fill-opacity="0.8"/>
<path d="M412.8 250.9h1.0v1.0h-1.0zM407.4 250.1h1.0v1.0h-1.0zM407.4 251.7h1.0v1.0h-1.0zM414.1 248.4h1.0v1.0h-1.0zM413.2 251.5h1.0v1.0h-1.0zM413.5 249.7h1.0v1.0h-1.0zM415.6 251.6h1.0v1.0h-1.0zM409.6 255.2h1.0v1.0h-1.0zM403.4 252.4h1.0v1.0h-1.0zM416.0 250.7h1.0v1.0h-1.0zM407.6 253.3h1.0v1.0h-1.0zM411.6 253.6h1.0v1.0h-1.0zM409.5 254.6h1.0v1.0h-1.0zM406.2 255.5h1.0v1.0h-1.0zM407.7 252.7h1.0v1.0h-1.0z" fill="#70b0e0" fill-opacity="0.9"/>
<path d="M386.5 248.0h1.0v1.0h-1.0zM427.3 245.9h1.0v1.0h-1.0zM423.5 244.5h1.0v1.0h-1.0zM419.5 247.0h1.0v1.0h-1.0zM389.5 256.5h1.0v1.0h-1.0zM397.5 257.5h1.0v1.0h-1.0zM394.5 251.5h1.0v1.0h-1.0z" fill="#a8d4f0" fill-opacity="0.8"/>
<line x1="557.4" y1="224.1" x2="557.4" y2="332.3" stroke="#8a8a8a" stroke-width="1.0"/>
<path d="M556.50 228.10h1.8M556.50 233.18h1.8M556.50 238.26h1.8M556.50 243.34h1.8M556.50 248.42h1.8M556.50 253.50h1.8M556.50 258.58h1.8M556.50 263.66h1.8M556.50 268.74h1.8M556.50 273.82h1.8M556.50 278.90h1.8M556.50 283.98h1.8M556.50 289.06h1.8M556.50 294.14h1.8M556.50 299.22h1.8M556.50 304.30h1.8M556.50 309.38h1.8M556.50 314.46h1.8M556.50 319.54h1.8M556.50 324.62h1.8M556.50 329.70h1.8" stroke="#4a4a4a" stroke-width="0.6" fill="none"/>
<path d="M555.20 233.20h2.2M555.20 258.60h2.2M555.20 284.00h2.2M555.20 309.40h2.2" stroke="#4a4a4a" stroke-width="0.7" fill="none"/>
<text x="540.91" y="234.85" class="tk" textLength="12.24" lengthAdjust="spacingAndGlyphs">40 000</text>
<text x="540.91" y="260.25" class="tk" textLength="12.24" lengthAdjust="spacingAndGlyphs">30 000</text>
<text x="540.91" y="285.65" class="tk" textLength="12.24" lengthAdjust="spacingAndGlyphs">20 000</text>
<text x="540.91" y="311.05" class="tk" textLength="12.24" lengthAdjust="spacingAndGlyphs">10 000</text>
<line x1="560.3" y1="335.6" x2="771.4" y2="335.6" stroke="#8a8a8a" stroke-width="1.0"/>
<path d="M568.70 334.70v1.8M578.48 334.70v1.8M588.26 334.70v1.8M598.04 334.70v1.8M607.82 334.70v1.8M617.60 334.70v1.8M627.38 334.70v1.8M637.16 334.70v1.8M646.94 334.70v1.8M656.72 334.70v1.8M666.50 334.70v1.8M676.28 334.70v1.8M686.06 334.70v1.8M695.84 334.70v1.8M705.62 334.70v1.8M715.40 334.70v1.8M725.18 334.70v1.8M734.96 334.70v1.8M744.74 334.70v1.8M754.52 334.70v1.8M764.30 334.70v1.8" stroke="#4a4a4a" stroke-width="0.6" fill="none"/>
<path d="M607.80 335.60v2.2M656.70 335.60v2.2M705.60 335.60v2.2M754.50 335.60v2.2" stroke="#4a4a4a" stroke-width="0.7" fill="none"/>
<text x="601.61" y="342.90" class="tk" textLength="12.24" lengthAdjust="spacingAndGlyphs">10 000</text>
<text x="650.56" y="342.90" class="tk" textLength="12.24" lengthAdjust="spacingAndGlyphs">20 000</text>
<text x="699.48" y="342.90" class="tk" textLength="12.24" lengthAdjust="spacingAndGlyphs">30 000</text>
<text x="748.41" y="342.90" class="tk" textLength="12.24" lengthAdjust="spacingAndGlyphs">40 000</text>
<line x1="557.8" y1="296.4" x2="772.5" y2="296.4" stroke="#a4c888" stroke-width="1.2"/>
<line x1="644.9" y1="222.7" x2="644.9" y2="333.4" stroke="#e8868e" stroke-width="1.25"/>
<path d="M581.9 237.7h1.1v1.1h-1.1zM582.3 238.2h1.1v1.1h-1.1zM582.1 238.2h1.1v1.1h-1.1zM579.9 256.5h1.1v1.1h-1.1zM582.2 246.6h1.1v1.1h-1.1zM582.3 237.4h1.1v1.1h-1.1zM580.0 255.2h1.1v1.1h-1.1zM582.2 239.0h1.1v1.1h-1.1zM580.9 244.0h1.1v1.1h-1.1zM579.7 257.7h1.1v1.1h-1.1zM579.9 254.1h1.1v1.1h-1.1zM580.2 247.7h1.1v1.1h-1.1zM581.7 242.6h1.1v1.1h-1.1zM580.1 254.4h1.1v1.1h-1.1zM580.1 249.6h1.1v1.1h-1.1zM582.1 238.7h1.1v1.1h-1.1zM581.1 240.9h1.1v1.1h-1.1zM580.3 249.1h1.1v1.1h-1.1zM582.4 239.8h1.1v1.1h-1.1zM579.8 254.6h1.1v1.1h-1.1zM582.1 237.6h1.1v1.1h-1.1zM582.1 242.9h1.1v1.1h-1.1zM580.5 248.3h1.1v1.1h-1.1zM580.3 253.0h1.1v1.1h-1.1zM580.5 253.8h1.1v1.1h-1.1zM580.5 244.6h1.1v1.1h-1.1zM581.4 241.9h1.1v1.1h-1.1zM582.1 237.1h1.1v1.1h-1.1zM580.9 246.8h1.1v1.1h-1.1zM580.6 247.9h1.1v1.1h-1.1zM580.9 251.2h1.1v1.1h-1.1zM580.3 247.2h1.1v1.1h-1.1zM581.7 243.8h1.1v1.1h-1.1zM581.9 236.6h1.1v1.1h-1.1zM579.5 251.4h1.1v1.1h-1.1zM580.7 245.0h1.1v1.1h-1.1zM580.5 248.3h1.1v1.1h-1.1zM580.4 253.3h1.1v1.1h-1.1zM581.9 240.7h1.1v1.1h-1.1zM580.6 247.9h1.1v1.1h-1.1zM582.4 237.6h1.1v1.1h-1.1zM579.9 251.0h1.1v1.1h-1.1zM581.2 243.8h1.1v1.1h-1.1zM580.9 246.1h1.1v1.1h-1.1zM579.5 257.9h1.1v1.1h-1.1zM582.1 244.2h1.1v1.1h-1.1zM580.3 252.3h1.1v1.1h-1.1zM581.6 242.1h1.1v1.1h-1.1zM580.0 255.0h1.1v1.1h-1.1zM579.9 251.1h1.1v1.1h-1.1zM581.4 240.1h1.1v1.1h-1.1zM582.3 237.4h1.1v1.1h-1.1zM581.4 243.8h1.1v1.1h-1.1zM580.2 250.6h1.1v1.1h-1.1zM580.4 249.7h1.1v1.1h-1.1z" fill="#6cb83e" fill-opacity="0.9"/>
<path d="M579.9 254.0h1.1v1.1h-1.1zM579.6 252.9h1.1v1.1h-1.1zM580.1 251.9h1.1v1.1h-1.1zM579.9 253.0h1.1v1.1h-1.1zM580.1 253.8h1.1v1.1h-1.1zM580.3 251.9h1.1v1.1h-1.1zM579.9 250.8h1.1v1.1h-1.1zM580.0 253.1h1.1v1.1h-1.1zM579.6 254.2h1.1v1.1h-1.1zM581.2 249.1h1.1v1.1h-1.1zM580.0 255.5h1.1v1.1h-1.1zM581.0 249.7h1.1v1.1h-1.1zM581.0 250.4h1.1v1.1h-1.1zM581.3 249.0h1.1v1.1h-1.1zM580.6 249.3h1.1v1.1h-1.1zM580.6 254.0h1.1v1.1h-1.1zM581.1 248.5h1.1v1.1h-1.1zM580.5 253.6h1.1v1.1h-1.1zM580.9 249.4h1.1v1.1h-1.1zM580.1 251.6h1.1v1.1h-1.1z" fill="#58a830" fill-opacity="1.0"/>
<path d="M578.0 241.6h0.9v0.9h-0.9zM585.0 242.1h0.9v0.9h-0.9zM579.5 260.6h0.9v0.9h-0.9zM583.5 238.6h0.9v0.9h-0.9z" fill="#808890" fill-opacity="0.7"/>
<path d="M577.40 317.40 578.07 317.90 578.44 318.00 578.77 318.03 579.07 318.02 579.35 317.98 579.61 317.92 579.86 317.85 580.11 317.77 580.34 317.67 580.57 317.57 580.79 317.45 581.01 317.33 581.23 317.21 581.44 317.08 581.64 316.94 581.84 316.80 582.04 316.65 582.24 316.50 582.44 316.35 582.63 316.20 582.83 316.05 583.02 315.89 583.21 315.73 583.40 315.57 583.58 315.41 583.77 315.24 583.95 315.07 584.12 314.89 584.30 314.71 584.47 314.52 584.63 314.32 584.79 314.12 584.94 313.91 585.08 313.69 585.22 313.46 585.34 313.21 585.45 312.94 585.54 312.64 585.59 312.28 585.40 311.60 585.40 311.60 584.81 311.21 584.46 311.14 584.15 311.13 583.86 311.15 583.58 311.19 583.32 311.25 583.06 311.32 582.81 311.40 582.57 311.49 582.33 311.58 582.10 311.68 581.88 311.79 581.65 311.90 581.43 312.02 581.22 312.14 581.00 312.27 580.79 312.40 580.58 312.53 580.37 312.66 580.17 312.80 579.96 312.94 579.76 313.08 579.56 313.22 579.36 313.36 579.16 313.51 578.96 313.66 578.77 313.82 578.59 313.99 578.41 314.16 578.23 314.33 578.06 314.52 577.89 314.71 577.74 314.92 577.59 315.14 577.45 315.37 577.33 315.62 577.23 315.90 577.16 316.22 577.13 316.61 577.40 317.40Z" fill="#3b4357"/>
<path d="M583.5 313.9h1.0v1.0h-1.0zM576.8 317.8h1.0v1.0h-1.0zM576.7 316.2h1.0v1.0h-1.0zM585.2 311.8h1.0v1.0h-1.0zM584.3 313.7h1.0v1.0h-1.0zM577.5 313.7h1.0v1.0h-1.0zM577.5 317.4h1.0v1.0h-1.0zM582.8 310.9h1.0v1.0h-1.0zM584.8 315.1h1.0v1.0h-1.0zM582.9 315.0h1.0v1.0h-1.0zM579.7 316.7h1.0v1.0h-1.0zM583.5 314.2h1.0v1.0h-1.0zM575.8 316.6h1.0v1.0h-1.0zM579.7 316.8h1.0v1.0h-1.0zM577.7 314.6h1.0v1.0h-1.0zM582.4 311.2h1.0v1.0h-1.0zM578.9 313.5h1.0v1.0h-1.0zM578.6 313.7h1.0v1.0h-1.0zM583.2 316.2h1.0v1.0h-1.0zM580.9 316.2h1.0v1.0h-1.0zM585.2 311.7h1.0v1.0h-1.0zM577.8 313.9h1.0v1.0h-1.0zM576.6 317.9h1.0v1.0h-1.0zM580.4 311.7h1.0v1.0h-1.0zM576.2 316.1h1.0v1.0h-1.0zM583.3 314.6h1.0v1.0h-1.0zM584.9 312.0h1.0v1.0h-1.0zM579.1 312.8h1.0v1.0h-1.0zM581.5 311.3h1.0v1.0h-1.0zM578.0 313.2h1.0v1.0h-1.0z" fill="#3b4357" fill-opacity="1.0"/>
<path d="M573.3 320.3h1.0v1.0h-1.0zM574.0 321.0h1.0v1.0h-1.0zM641.0 313.0h1.0v1.0h-1.0z" fill="#8088a0" fill-opacity="0.8"/>
<path d="M682.00 313.40 682.62 313.75 683.19 313.83 683.76 313.87 684.33 313.88 684.89 313.87 685.45 313.86 686.01 313.83 686.57 313.80 687.12 313.75 687.68 313.71 688.23 313.65 688.79 313.59 689.34 313.53 689.89 313.46 690.45 313.39 691.00 313.32 691.55 313.24 692.10 313.16 692.65 313.07 693.20 312.98 693.75 312.89 694.30 312.80 694.84 312.70 695.39 312.60 695.94 312.50 696.49 312.39 697.03 312.28 697.58 312.16 698.12 312.04 698.67 311.92 699.21 311.79 699.75 311.66 700.29 311.52 700.83 311.38 701.37 311.23 701.91 311.06 702.45 310.89 702.98 310.69 703.51 310.46 704.00 310.00 704.00 310.00 703.39 309.71 702.82 309.65 702.25 309.62 701.69 309.62 701.13 309.62 700.57 309.64 700.01 309.67 699.45 309.70 698.89 309.74 698.33 309.78 697.78 309.83 697.22 309.88 696.67 309.93 696.11 309.99 695.56 310.05 695.01 310.12 694.46 310.19 693.90 310.26 693.35 310.34 692.80 310.42 692.25 310.50 691.70 310.58 691.15 310.67 690.60 310.76 690.05 310.86 689.51 310.96 688.96 311.06 688.41 311.17 687.87 311.28 687.32 311.39 686.78 311.52 686.23 311.64 685.69 311.78 685.15 311.92 684.61 312.08 684.07 312.24 683.54 312.42 683.01 312.63 682.48 312.88 682.00 313.40Z" fill="#cc1414"/>
<path d="M699.7 311.0h1.0v1.0h-1.0zM703.2 309.1h1.0v1.0h-1.0zM700.4 309.0h1.0v1.0h-1.0zM698.6 309.4h1.0v1.0h-1.0zM689.3 310.6h1.0v1.0h-1.0zM703.5 309.9h1.0v1.0h-1.0zM689.6 313.0h1.0v1.0h-1.0zM694.1 312.6h1.0v1.0h-1.0zM703.9 309.8h1.0v1.0h-1.0zM701.5 310.8h1.0v1.0h-1.0zM683.7 314.1h1.0v1.0h-1.0zM692.0 312.6h1.0v1.0h-1.0zM690.2 310.6h1.0v1.0h-1.0zM702.5 309.2h1.0v1.0h-1.0zM699.2 312.0h1.0v1.0h-1.0zM682.7 312.0h1.0v1.0h-1.0zM700.3 309.2h1.0v1.0h-1.0zM683.0 313.9h1.0v1.0h-1.0zM681.8 312.5h1.0v1.0h-1.0zM689.2 313.1h1.0v1.0h-1.0zM699.3 311.3h1.0v1.0h-1.0zM680.0 313.6h1.0v1.0h-1.0zM695.9 311.9h1.0v1.0h-1.0zM698.9 311.1h1.0v1.0h-1.0zM682.5 311.6h1.0v1.0h-1.0zM685.4 310.7h1.0v1.0h-1.0zM700.2 308.9h1.0v1.0h-1.0zM688.5 313.0h1.0v1.0h-1.0zM691.3 312.5h1.0v1.0h-1.0zM688.5 314.2h1.0v1.0h-1.0zM680.9 313.8h1.0v1.0h-1.0zM695.2 309.6h1.0v1.0h-1.0zM689.0 310.2h1.0v1.0h-1.0zM700.6 310.7h1.0v1.0h-1.0zM691.7 310.0h1.0v1.0h-1.0zM688.2 310.9h1.0v1.0h-1.0zM686.1 313.2h1.0v1.0h-1.0zM699.9 309.3h1.0v1.0h-1.0zM686.8 313.5h1.0v1.0h-1.0zM683.4 311.3h1.0v1.0h-1.0zM690.5 313.2h1.0v1.0h-1.0zM682.5 313.3h1.0v1.0h-1.0zM702.2 309.2h1.0v1.0h-1.0zM696.5 309.4h1.0v1.0h-1.0zM696.1 309.6h1.0v1.0h-1.0zM703.2 309.2h1.0v1.0h-1.0zM701.8 309.2h1.0v1.0h-1.0zM700.9 308.7h1.0v1.0h-1.0zM693.8 312.1h1.0v1.0h-1.0zM682.3 312.2h1.0v1.0h-1.0zM684.9 311.2h1.0v1.0h-1.0zM691.8 309.4h1.0v1.0h-1.0zM683.8 313.4h1.0v1.0h-1.0zM681.0 312.4h1.0v1.0h-1.0zM698.9 311.2h1.0v1.0h-1.0zM687.8 313.6h1.0v1.0h-1.0zM701.6 310.5h1.0v1.0h-1.0zM693.8 313.2h1.0v1.0h-1.0zM685.5 313.3h1.0v1.0h-1.0zM701.5 310.5h1.0v1.0h-1.0z" fill="#cc1414" fill-opacity="1.0"/>
<path d="M705.3 308.5h1.0v1.0h-1.0zM703.0 309.9h1.0v1.0h-1.0zM704.8 308.8h1.0v1.0h-1.0zM701.8 310.1h1.0v1.0h-1.0zM701.9 309.9h1.0v1.0h-1.0zM703.7 308.9h1.0v1.0h-1.0zM706.5 307.3h1.0v1.0h-1.0zM706.6 307.2h1.0v1.0h-1.0zM700.7 309.3h1.0v1.0h-1.0zM700.7 310.6h1.0v1.0h-1.0zM701.5 310.5h1.0v1.0h-1.0zM706.4 308.7h1.0v1.0h-1.0z" fill="#d03030" fill-opacity="0.8"/>
<path d="M668.9 313.0h1.0v1.0h-1.0zM674.5 313.0h1.0v1.0h-1.0zM668.9 316.4h1.0v1.0h-1.0zM716.9 307.0h1.0v1.0h-1.0zM676.5 313.3h1.0v1.0h-1.0z" fill="#c04040" fill-opacity="0.7"/>
<text x="19.81" y="59.80" class="pl" font-size="17.5" font-weight="bold" textLength="9.09" lengthAdjust="spacingAndGlyphs">a</text>
<text x="19.76" y="214.40" class="pl" font-size="17.5" font-weight="bold" textLength="11.61" lengthAdjust="spacingAndGlyphs">b</text>
<text x="129.75" y="43.40" class="ti" font-size="11.5" textLength="25.56" lengthAdjust="spacingAndGlyphs">0.5%</text>
<text x="158.96" y="43.40" class="ti" font-size="11.5" font-style="italic" textLength="30.53" lengthAdjust="spacingAndGlyphs">KRAS</text>
<text x="192.04" y="43.40" class="ti" font-size="11.5" textLength="28.67" lengthAdjust="spacingAndGlyphs">G12A</text>
<text x="129.27" y="57.20" class="ti" font-size="11.5" textLength="79.07" lengthAdjust="spacingAndGlyphs">Reference DNA</text>
<text x="376.84" y="43.40" class="ti" font-size="11.5" textLength="25.56" lengthAdjust="spacingAndGlyphs">2.5%</text>
<text x="406.26" y="43.40" class="ti" font-size="11.5" font-style="italic" textLength="31.15" lengthAdjust="spacingAndGlyphs">NRAS</text>
<text x="439.67" y="43.40" class="ti" font-size="11.5" textLength="28.67" lengthAdjust="spacingAndGlyphs">Q61K</text>
<text x="376.47" y="57.20" class="ti" font-size="11.5" textLength="78.97" lengthAdjust="spacingAndGlyphs">Reference DNA</text>
<text x="620.86" y="43.90" class="ti" font-size="11.5" textLength="31.79" lengthAdjust="spacingAndGlyphs">19.2%</text>
<text x="655.66" y="43.90" class="ti" font-size="11.5" font-style="italic" textLength="31.15" lengthAdjust="spacingAndGlyphs">EGFR</text>
<text x="689.92" y="43.90" class="ti" font-size="11.5" textLength="27.44" lengthAdjust="spacingAndGlyphs">del19</text>
<text x="621.45" y="57.70" class="ti" font-size="11.5" textLength="57.96" lengthAdjust="spacingAndGlyphs">Tumor DNA</text>
<text x="156.86" y="210.50" class="al" font-size="12.8" textLength="26.00" lengthAdjust="spacingAndGlyphs">FAM</text>
<text x="409.80" y="210.50" class="al" font-size="12.8" textLength="21.39" lengthAdjust="spacingAndGlyphs">Cy5</text>
<text x="651.96" y="210.50" class="al" font-size="12.8" textLength="25.89" lengthAdjust="spacingAndGlyphs">FAM</text>
<text x="157.40" y="359.50" class="al" font-size="12.8" textLength="21.39" lengthAdjust="spacingAndGlyphs">Cy5</text>
<text x="409.79" y="359.50" class="al" font-size="12.8" textLength="21.85" lengthAdjust="spacingAndGlyphs">Cy3</text>
<text x="652.39" y="359.50" class="al" font-size="12.8" textLength="21.71" lengthAdjust="spacingAndGlyphs">Cy5</text>
<text x="-0.61" y="0" class="al" font-size="12.8" textLength="21.60" lengthAdjust="spacingAndGlyphs" transform="translate(34.9 138.7) rotate(-90)">Cy5</text>
<text x="-0.61" y="0" class="al" font-size="12.8" textLength="21.64" lengthAdjust="spacingAndGlyphs" transform="translate(289.0 138.7) rotate(-90)">Cy3</text>
<text x="-0.59" y="0" class="al" font-size="12.8" textLength="21.08" lengthAdjust="spacingAndGlyphs" transform="translate(534.8 138.5) rotate(-90)">Cy5</text>
<text x="-0.27" y="0" class="al" font-size="12.8" textLength="76.83" lengthAdjust="spacingAndGlyphs" transform="translate(34.6 316.8) rotate(-90)">Yakima Yellow</text>
<text x="-1.06" y="0" class="al" font-size="12.8" textLength="26.43" lengthAdjust="spacingAndGlyphs" transform="translate(288.8 289.7) rotate(-90)">FAM</text>
<text x="-0.27" y="0" class="al" font-size="12.8" textLength="77.23" lengthAdjust="spacingAndGlyphs" transform="translate(534.0 322.5) rotate(-90)">Yakima Yellow</text>
<text x="256.14" y="88.60" class="wt" font-size="12.2" textLength="17.91" lengthAdjust="spacingAndGlyphs">WT</text>
<text x="495.64" y="86.60" class="wt" font-size="12.2" textLength="18.12" lengthAdjust="spacingAndGlyphs">WT</text>
<text x="753.64" y="88.60" class="wt" font-size="12.2" textLength="18.22" lengthAdjust="spacingAndGlyphs">WT</text>
<text x="245.19" y="180.40" class="wt" font-size="11.6" textLength="33.59" lengthAdjust="spacingAndGlyphs">Mutant</text>
<text x="484.20" y="180.50" class="wt" font-size="11.6" textLength="33.48" lengthAdjust="spacingAndGlyphs">Mutant</text>
<text x="742.30" y="180.50" class="wt" font-size="11.6" textLength="33.17" lengthAdjust="spacingAndGlyphs">Mutant</text>
<text x="65.48" y="229.70" class="px" font-size="11.8" textLength="33.52" lengthAdjust="spacingAndGlyphs">ΦX174</text>
<text x="316.59" y="229.70" class="px" font-size="11.8" textLength="33.31" lengthAdjust="spacingAndGlyphs">ΦX174</text>
<text x="562.39" y="229.70" class="px" font-size="11.8" textLength="33.31" lengthAdjust="spacingAndGlyphs">ΦX174</text>
</svg>
</body></html>
